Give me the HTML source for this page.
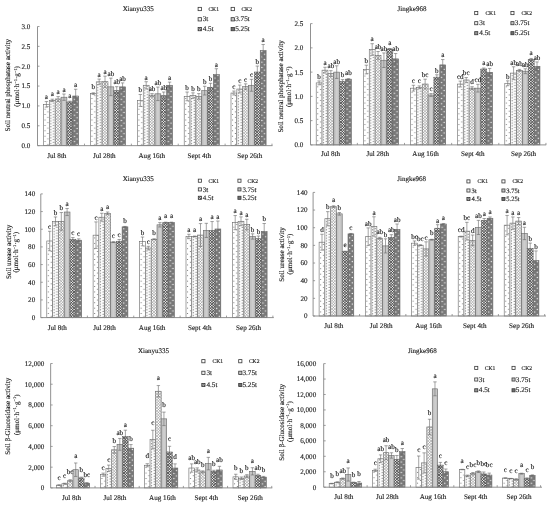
<!DOCTYPE html><html><head><meta charset="utf-8"><title>Soil enzyme activity</title>
<style>html,body{margin:0;padding:0;background:#fff}svg{display:block}text{font-family:"Liberation Serif", "DejaVu Serif", serif;fill:#1c1c1c;text-rendering:geometricPrecision;stroke:#1c1c1c;stroke-width:0.14px}</style></head><body>
<svg width="550" height="507" viewBox="0 0 550 507">
<rect width="550" height="507" fill="#fff"/>
<defs>
<pattern id="p0" width="9" height="5.4" patternUnits="userSpaceOnUse"><rect width="9" height="5.4" fill="#fff"/><circle cx="1.6" cy="1.3" r="0.5" fill="#444"/><circle cx="4.3" cy="4" r="0.5" fill="#444"/></pattern>
<pattern id="p1" width="9" height="2.8" patternUnits="userSpaceOnUse"><rect width="9" height="2.8" fill="#fff"/><circle cx="1.6" cy="0.7" r="0.55" fill="#2a2a2a"/><circle cx="4.2" cy="2.1" r="0.55" fill="#2a2a2a"/></pattern>
<pattern id="p2" width="2.9" height="2.9" patternUnits="userSpaceOnUse"><rect width="2.9" height="2.9" fill="#fff"/><path d="M0 0L2.9 2.9M2.9 0L0 2.9" stroke="#8a8a8a" stroke-width="0.55"/></pattern>
<pattern id="p3" width="9" height="4" patternUnits="userSpaceOnUse"><rect width="9" height="4" fill="#c2c2c2"/><rect x="1.8" width="2.2" height="4" fill="#cecece"/></pattern>
<pattern id="p4" width="2.7" height="2.7" patternUnits="userSpaceOnUse"><rect width="2.7" height="2.7" fill="#e0e0e0"/><path d="M0 0L2.7 2.7M2.7 0L0 2.7" stroke="#404040" stroke-width="0.8"/></pattern>
<pattern id="p5" width="9" height="5.3" patternUnits="userSpaceOnUse"><rect width="9" height="5.3" fill="#787878"/><circle cx="1.7" cy="1.3" r="0.7" fill="#fff"/><circle cx="4.3" cy="3.95" r="0.7" fill="#fff"/></pattern>
</defs>
<g>
<g transform="translate(43.50 145.65)"><rect x="0" y="-41.31" width="5.85" height="41.31" fill="url(#p0)" stroke="#666" stroke-width="0.6"/></g>
<g transform="translate(49.35 145.65)"><rect x="0" y="-45.28" width="5.85" height="45.28" fill="url(#p1)" stroke="#666" stroke-width="0.6"/></g>
<rect x="55.20" y="98.98" width="5.85" height="46.67" fill="#fff"/><path d="M60.8 145.7L61.1 145.4M58.0 145.7L61.1 142.6M55.2 145.7L61.1 139.8M55.2 142.8L61.1 137.0M55.2 140.1L61.1 134.2M55.2 137.2L61.1 131.4M55.2 134.5L61.1 128.6M55.2 131.7L61.1 125.8M55.2 128.9L61.1 123.0M55.2 126.1L61.1 120.2M55.2 123.2L61.1 117.4M55.2 120.5L61.1 114.6M55.2 117.7L61.1 111.8M55.2 114.9L61.1 109.0M55.2 112.1L61.1 106.2M55.2 109.2L61.1 103.4M55.2 106.5L61.1 100.6M55.2 103.7L59.9 99.0M55.2 100.9L57.1 99.0M55.2 142.8L58.0 145.7M55.2 140.1L60.8 145.7M55.2 137.2L61.1 143.1M55.2 134.5L61.1 140.3M55.2 131.7L61.1 137.5M55.2 128.9L61.1 134.7M55.2 126.1L61.1 131.9M55.2 123.2L61.1 129.1M55.2 120.5L61.1 126.3M55.2 117.7L61.1 123.5M55.2 114.9L61.1 120.7M55.2 112.1L61.1 117.9M55.2 109.2L61.1 115.1M55.2 106.5L61.1 112.3M55.2 103.7L61.1 109.5M55.2 100.9L61.1 106.7M56.1 99.0L61.1 103.9M58.9 99.0L61.1 101.1" stroke="#7c7c7c" stroke-width="0.50" fill="none"/><rect x="55.20" y="98.98" width="5.85" height="46.67" fill="none" stroke="#666" stroke-width="0.6"/>
<g transform="translate(61.05 145.65)"><rect x="0" y="-48.45" width="5.85" height="48.45" fill="url(#p3)" stroke="#666" stroke-width="0.6"/></g>
<rect x="66.90" y="101.96" width="5.85" height="43.69" fill="#ececec"/><path d="M72.3 145.7L72.8 145.2M69.6 145.7L72.8 142.5M66.9 145.7L72.8 139.8M66.9 143.0L72.8 137.1M66.9 140.2L72.8 134.4M66.9 137.6L72.8 131.7M66.9 134.8L72.8 129.0M66.9 132.2L72.8 126.3M66.9 129.4L72.8 123.6M66.9 126.8L72.8 120.9M66.9 124.1L72.8 118.2M66.9 121.4L72.8 115.5M66.9 118.7L72.8 112.8M66.9 116.0L72.8 110.1M66.9 113.2L72.8 107.4M66.9 110.6L72.8 104.7M66.9 107.8L72.8 102.0M66.9 105.2L70.1 102.0M66.9 102.5L67.4 102.0M66.9 143.0L69.6 145.7M66.9 140.2L72.3 145.7M66.9 137.6L72.8 143.4M66.9 134.8L72.8 140.7M66.9 132.2L72.8 138.0M66.9 129.4L72.8 135.3M66.9 126.8L72.8 132.6M66.9 124.1L72.8 129.9M66.9 121.4L72.8 127.2M66.9 118.7L72.8 124.5M66.9 116.0L72.8 121.8M66.9 113.2L72.8 119.1M66.9 110.6L72.8 116.4M66.9 107.8L72.8 113.7M66.9 105.2L72.8 111.0M66.9 102.5L72.8 108.3M69.1 102.0L72.8 105.6M71.8 102.0L72.8 102.9" stroke="#3e3e3e" stroke-width="0.85" fill="none"/><rect x="66.90" y="101.96" width="5.85" height="43.69" fill="none" stroke="#666" stroke-width="0.6"/>
<g transform="translate(72.75 145.65)"><rect x="0" y="-49.65" width="5.85" height="49.65" fill="url(#p5)" stroke="#666" stroke-width="0.6"/></g>
<path d="M46.42 101.56V107.12M44.72 101.56H48.12M44.72 107.12H48.12" stroke="#666" stroke-width="0.6" fill="none"/>
<text x="46.42" y="99.36" font-size="7.1" text-anchor="middle">a</text>
<path d="M52.27 99.18V101.56M50.57 99.18H53.98M50.57 101.56H53.98" stroke="#666" stroke-width="0.6" fill="none"/>
<text x="52.27" y="96.07" font-size="7.1" text-anchor="middle">a</text>
<path d="M58.12 96.60V101.37M56.42 96.60H59.83M56.42 101.37H59.83" stroke="#666" stroke-width="0.6" fill="none"/>
<text x="58.12" y="94.40" font-size="7.1" text-anchor="middle">a</text>
<path d="M63.97 94.02V100.37M62.27 94.02H65.67M62.27 100.37H65.67" stroke="#666" stroke-width="0.6" fill="none"/>
<text x="63.97" y="91.82" font-size="7.1" text-anchor="middle">a</text>
<path d="M69.83 101.17V102.76M68.12 101.17H71.53M68.12 102.76H71.53" stroke="#666" stroke-width="0.6" fill="none"/>
<text x="69.83" y="97.66" font-size="7.1" text-anchor="middle">a</text>
<path d="M75.67 89.25V102.76M73.97 89.25H77.38M73.97 102.76H77.38" stroke="#666" stroke-width="0.6" fill="none"/>
<text x="75.67" y="87.05" font-size="7.1" text-anchor="middle">a</text>
<g transform="translate(90.40 145.65)"><rect x="0" y="-52.03" width="5.85" height="52.03" fill="url(#p0)" stroke="#666" stroke-width="0.6"/></g>
<g transform="translate(96.25 145.65)"><rect x="0" y="-63.78" width="5.85" height="63.78" fill="url(#p1)" stroke="#666" stroke-width="0.6"/></g>
<rect x="102.10" y="81.71" width="5.85" height="63.94" fill="#fff"/><path d="M107.7 145.7L108.0 145.4M104.9 145.7L108.0 142.6M102.1 145.7L108.0 139.8M102.1 142.8L108.0 137.0M102.1 140.1L108.0 134.2M102.1 137.2L108.0 131.4M102.1 134.5L108.0 128.6M102.1 131.7L108.0 125.8M102.1 128.9L108.0 123.0M102.1 126.1L108.0 120.2M102.1 123.2L108.0 117.4M102.1 120.5L108.0 114.6M102.1 117.7L108.0 111.8M102.1 114.9L108.0 109.0M102.1 112.1L108.0 106.2M102.1 109.2L108.0 103.4M102.1 106.5L108.0 100.6M102.1 103.7L108.0 97.8M102.1 100.9L108.0 95.0M102.1 98.1L108.0 92.2M102.1 95.2L108.0 89.4M102.1 92.5L108.0 86.6M102.1 89.7L108.0 83.8M102.1 86.9L107.2 81.7M102.1 84.1L104.4 81.7M102.1 142.8L104.9 145.7M102.1 140.1L107.7 145.7M102.1 137.2L108.0 143.1M102.1 134.5L108.0 140.3M102.1 131.7L108.0 137.5M102.1 128.9L108.0 134.7M102.1 126.1L108.0 131.9M102.1 123.2L108.0 129.1M102.1 120.5L108.0 126.3M102.1 117.7L108.0 123.5M102.1 114.9L108.0 120.7M102.1 112.1L108.0 117.9M102.1 109.2L108.0 115.1M102.1 106.5L108.0 112.3M102.1 103.7L108.0 109.5M102.1 100.9L108.0 106.7M102.1 98.1L108.0 103.9M102.1 95.2L108.0 101.1M102.1 92.5L108.0 98.3M102.1 89.7L108.0 95.5M102.1 86.9L108.0 92.7M102.1 84.1L108.0 89.9M102.6 81.7L108.0 87.1M105.4 81.7L108.0 84.3" stroke="#7c7c7c" stroke-width="0.50" fill="none"/><rect x="102.10" y="81.71" width="5.85" height="63.94" fill="none" stroke="#666" stroke-width="0.6"/>
<g transform="translate(107.95 145.65)"><rect x="0" y="-58.78" width="5.85" height="58.78" fill="url(#p3)" stroke="#666" stroke-width="0.6"/></g>
<rect x="113.80" y="90.64" width="5.85" height="55.01" fill="#ececec"/><path d="M119.2 145.7L119.7 145.2M116.5 145.7L119.7 142.5M113.8 145.7L119.7 139.8M113.8 143.0L119.7 137.1M113.8 140.2L119.7 134.4M113.8 137.6L119.7 131.7M113.8 134.8L119.7 129.0M113.8 132.2L119.7 126.3M113.8 129.4L119.7 123.6M113.8 126.8L119.7 120.9M113.8 124.1L119.7 118.2M113.8 121.4L119.7 115.5M113.8 118.7L119.7 112.8M113.8 116.0L119.7 110.1M113.8 113.2L119.7 107.4M113.8 110.6L119.7 104.7M113.8 107.8L119.7 102.0M113.8 105.2L119.7 99.3M113.8 102.5L119.7 96.6M113.8 99.8L119.7 93.9M113.8 97.1L119.7 91.2M113.8 94.3L117.5 90.6M113.8 91.7L114.8 90.6M113.8 143.0L116.5 145.7M113.8 140.2L119.2 145.7M113.8 137.6L119.7 143.4M113.8 134.8L119.7 140.7M113.8 132.2L119.7 138.0M113.8 129.4L119.7 135.3M113.8 126.8L119.7 132.6M113.8 124.1L119.7 129.9M113.8 121.4L119.7 127.2M113.8 118.7L119.7 124.5M113.8 116.0L119.7 121.8M113.8 113.2L119.7 119.1M113.8 110.6L119.7 116.4M113.8 107.8L119.7 113.7M113.8 105.2L119.7 111.0M113.8 102.5L119.7 108.3M113.8 99.8L119.7 105.6M113.8 97.1L119.7 102.9M113.8 94.3L119.7 100.2M113.8 91.7L119.7 97.5M115.5 90.6L119.7 94.8M118.2 90.6L119.7 92.1" stroke="#3e3e3e" stroke-width="0.85" fill="none"/><rect x="113.80" y="90.64" width="5.85" height="55.01" fill="none" stroke="#666" stroke-width="0.6"/>
<g transform="translate(119.65 145.65)"><rect x="0" y="-58.78" width="5.85" height="58.78" fill="url(#p5)" stroke="#666" stroke-width="0.6"/></g>
<path d="M93.33 92.83V94.42M91.62 92.83H95.03M91.62 94.42H95.03" stroke="#666" stroke-width="0.6" fill="none"/>
<text x="93.33" y="89.32" font-size="7.1" text-anchor="middle">b</text>
<path d="M99.17 79.08V84.65M97.47 79.08H100.88M97.47 84.65H100.88" stroke="#666" stroke-width="0.6" fill="none"/>
<text x="99.17" y="76.88" font-size="7.1" text-anchor="middle">a</text>
<path d="M105.03 76.15V87.27M103.33 76.15H106.73M103.33 87.27H106.73" stroke="#666" stroke-width="0.6" fill="none"/>
<text x="105.03" y="73.95" font-size="7.1" text-anchor="middle">a</text>
<path d="M110.88 78.13V95.61M109.17 78.13H112.58M109.17 95.61H112.58" stroke="#666" stroke-width="0.6" fill="none"/>
<text x="110.88" y="75.93" font-size="7.1" text-anchor="middle">ab</text>
<path d="M116.73 86.67V94.61M115.03 86.67H118.43M115.03 94.61H118.43" stroke="#666" stroke-width="0.6" fill="none"/>
<text x="116.73" y="84.47" font-size="7.1" text-anchor="middle">ab</text>
<path d="M122.58 82.90V90.84M120.88 82.90H124.28M120.88 90.84H124.28" stroke="#666" stroke-width="0.6" fill="none"/>
<text x="122.58" y="80.70" font-size="7.1" text-anchor="middle">ab</text>
<g transform="translate(137.40 145.65)"><rect x="0" y="-45.20" width="5.85" height="45.20" fill="url(#p0)" stroke="#666" stroke-width="0.6"/></g>
<g transform="translate(143.25 145.65)"><rect x="0" y="-60.37" width="5.85" height="60.37" fill="url(#p1)" stroke="#666" stroke-width="0.6"/></g>
<rect x="149.10" y="95.21" width="5.85" height="50.44" fill="#fff"/><path d="M154.7 145.7L154.9 145.4M151.9 145.7L154.9 142.6M149.1 145.7L154.9 139.8M149.1 142.8L154.9 137.0M149.1 140.1L154.9 134.2M149.1 137.2L154.9 131.4M149.1 134.5L154.9 128.6M149.1 131.7L154.9 125.8M149.1 128.9L154.9 123.0M149.1 126.1L154.9 120.2M149.1 123.2L154.9 117.4M149.1 120.5L154.9 114.6M149.1 117.7L154.9 111.8M149.1 114.9L154.9 109.0M149.1 112.1L154.9 106.2M149.1 109.2L154.9 103.4M149.1 106.5L154.9 100.6M149.1 103.7L154.9 97.8M149.1 100.9L154.7 95.2M149.1 98.1L151.9 95.2M149.1 95.2L149.1 95.2M149.1 142.8L151.9 145.7M149.1 140.1L154.7 145.7M149.1 137.2L154.9 143.1M149.1 134.5L154.9 140.3M149.1 131.7L154.9 137.5M149.1 128.9L154.9 134.7M149.1 126.1L154.9 131.9M149.1 123.2L154.9 129.1M149.1 120.5L154.9 126.3M149.1 117.7L154.9 123.5M149.1 114.9L154.9 120.7M149.1 112.1L154.9 117.9M149.1 109.2L154.9 115.1M149.1 106.5L154.9 112.3M149.1 103.7L154.9 109.5M149.1 100.9L154.9 106.7M149.1 98.1L154.9 103.9M149.1 95.2L154.9 101.1M151.9 95.2L154.9 98.3M154.7 95.2L154.9 95.5" stroke="#7c7c7c" stroke-width="0.50" fill="none"/><rect x="149.10" y="95.21" width="5.85" height="50.44" fill="none" stroke="#666" stroke-width="0.6"/>
<g transform="translate(154.95 145.65)"><rect x="0" y="-51.83" width="5.85" height="51.83" fill="url(#p3)" stroke="#666" stroke-width="0.6"/></g>
<rect x="160.80" y="95.61" width="5.85" height="50.04" fill="#ececec"/><path d="M166.2 145.7L166.7 145.2M163.5 145.7L166.7 142.5M160.8 145.7L166.7 139.8M160.8 143.0L166.7 137.1M160.8 140.2L166.7 134.4M160.8 137.6L166.7 131.7M160.8 134.8L166.7 129.0M160.8 132.2L166.7 126.3M160.8 129.4L166.7 123.6M160.8 126.8L166.7 120.9M160.8 124.1L166.7 118.2M160.8 121.4L166.7 115.5M160.8 118.7L166.7 112.8M160.8 116.0L166.7 110.1M160.8 113.2L166.7 107.4M160.8 110.6L166.7 104.7M160.8 107.8L166.7 102.0M160.8 105.2L166.7 99.3M160.8 102.5L166.7 96.6M160.8 99.8L164.9 95.6M160.8 97.1L162.2 95.6M160.8 143.0L163.5 145.7M160.8 140.2L166.2 145.7M160.8 137.6L166.7 143.4M160.8 134.8L166.7 140.7M160.8 132.2L166.7 138.0M160.8 129.4L166.7 135.3M160.8 126.8L166.7 132.6M160.8 124.1L166.7 129.9M160.8 121.4L166.7 127.2M160.8 118.7L166.7 124.5M160.8 116.0L166.7 121.8M160.8 113.2L166.7 119.1M160.8 110.6L166.7 116.4M160.8 107.8L166.7 113.7M160.8 105.2L166.7 111.0M160.8 102.5L166.7 108.3M160.8 99.8L166.7 105.6M160.8 97.1L166.7 102.9M162.1 95.6L166.7 100.2M164.8 95.6L166.7 97.5" stroke="#3e3e3e" stroke-width="0.85" fill="none"/><rect x="160.80" y="95.61" width="5.85" height="50.04" fill="none" stroke="#666" stroke-width="0.6"/>
<g transform="translate(166.65 145.65)"><rect x="0" y="-60.37" width="5.85" height="60.37" fill="url(#p5)" stroke="#666" stroke-width="0.6"/></g>
<path d="M140.33 94.49V106.41M138.63 94.49H142.03M138.63 106.41H142.03" stroke="#666" stroke-width="0.6" fill="none"/>
<text x="140.33" y="92.29" font-size="7.1" text-anchor="middle">b</text>
<path d="M146.18 81.71V88.86M144.48 81.71H147.88M144.48 88.86H147.88" stroke="#666" stroke-width="0.6" fill="none"/>
<text x="146.18" y="79.51" font-size="7.1" text-anchor="middle">a</text>
<path d="M152.03 93.62V96.80M150.33 93.62H153.72M150.33 96.80H153.72" stroke="#666" stroke-width="0.6" fill="none"/>
<text x="152.03" y="90.91" font-size="7.1" text-anchor="middle">ab</text>
<path d="M157.88 87.07V100.57M156.18 87.07H159.57M156.18 100.57H159.57" stroke="#666" stroke-width="0.6" fill="none"/>
<text x="157.88" y="84.87" font-size="7.1" text-anchor="middle">ab</text>
<path d="M163.73 92.03V99.18M162.03 92.03H165.43M162.03 99.18H165.43" stroke="#666" stroke-width="0.6" fill="none"/>
<text x="163.73" y="89.83" font-size="7.1" text-anchor="middle">ab</text>
<path d="M169.58 82.10V88.46M167.88 82.10H171.28M167.88 88.46H171.28" stroke="#666" stroke-width="0.6" fill="none"/>
<text x="169.58" y="79.90" font-size="7.1" text-anchor="middle">a</text>
<g transform="translate(184.20 145.65)"><rect x="0" y="-49.25" width="5.85" height="49.25" fill="url(#p0)" stroke="#666" stroke-width="0.6"/></g>
<g transform="translate(190.05 145.65)"><rect x="0" y="-50.04" width="5.85" height="50.04" fill="url(#p1)" stroke="#666" stroke-width="0.6"/></g>
<rect x="195.90" y="96.40" width="5.85" height="49.25" fill="#fff"/><path d="M201.5 145.7L201.7 145.4M198.7 145.7L201.7 142.6M195.9 145.7L201.7 139.8M195.9 142.8L201.7 137.0M195.9 140.1L201.7 134.2M195.9 137.2L201.7 131.4M195.9 134.5L201.7 128.6M195.9 131.7L201.7 125.8M195.9 128.9L201.7 123.0M195.9 126.1L201.7 120.2M195.9 123.2L201.7 117.4M195.9 120.5L201.7 114.6M195.9 117.7L201.7 111.8M195.9 114.9L201.7 109.0M195.9 112.1L201.7 106.2M195.9 109.2L201.7 103.4M195.9 106.5L201.7 100.6M195.9 103.7L201.7 97.8M195.9 100.9L200.3 96.4M195.9 98.1L197.5 96.4M195.9 142.8L198.7 145.7M195.9 140.1L201.5 145.7M195.9 137.2L201.7 143.1M195.9 134.5L201.7 140.3M195.9 131.7L201.7 137.5M195.9 128.9L201.7 134.7M195.9 126.1L201.7 131.9M195.9 123.2L201.7 129.1M195.9 120.5L201.7 126.3M195.9 117.7L201.7 123.5M195.9 114.9L201.7 120.7M195.9 112.1L201.7 117.9M195.9 109.2L201.7 115.1M195.9 106.5L201.7 112.3M195.9 103.7L201.7 109.5M195.9 100.9L201.7 106.7M195.9 98.1L201.7 103.9M197.1 96.4L201.7 101.1M199.9 96.4L201.7 98.3" stroke="#7c7c7c" stroke-width="0.50" fill="none"/><rect x="195.90" y="96.40" width="5.85" height="49.25" fill="none" stroke="#666" stroke-width="0.6"/>
<g transform="translate(201.75 145.65)"><rect x="0" y="-55.01" width="5.85" height="55.01" fill="url(#p3)" stroke="#666" stroke-width="0.6"/></g>
<rect x="207.60" y="87.27" width="5.85" height="58.38" fill="#ececec"/><path d="M213.0 145.7L213.4 145.2M210.3 145.7L213.4 142.5M207.6 145.7L213.4 139.8M207.6 143.0L213.4 137.1M207.6 140.2L213.4 134.4M207.6 137.6L213.4 131.7M207.6 134.8L213.4 129.0M207.6 132.2L213.4 126.3M207.6 129.4L213.4 123.6M207.6 126.8L213.4 120.9M207.6 124.1L213.4 118.2M207.6 121.4L213.4 115.5M207.6 118.7L213.4 112.8M207.6 116.0L213.4 110.1M207.6 113.2L213.4 107.4M207.6 110.6L213.4 104.7M207.6 107.8L213.4 102.0M207.6 105.2L213.4 99.3M207.6 102.5L213.4 96.6M207.6 99.8L213.4 93.9M207.6 97.1L213.4 91.2M207.6 94.3L213.4 88.5M207.6 91.7L212.0 87.3M207.6 89.0L209.3 87.3M207.6 143.0L210.3 145.7M207.6 140.2L213.0 145.7M207.6 137.6L213.4 143.4M207.6 134.8L213.4 140.7M207.6 132.2L213.4 138.0M207.6 129.4L213.4 135.3M207.6 126.8L213.4 132.6M207.6 124.1L213.4 129.9M207.6 121.4L213.4 127.2M207.6 118.7L213.4 124.5M207.6 116.0L213.4 121.8M207.6 113.2L213.4 119.1M207.6 110.6L213.4 116.4M207.6 107.8L213.4 113.7M207.6 105.2L213.4 111.0M207.6 102.5L213.4 108.3M207.6 99.8L213.4 105.6M207.6 97.1L213.4 102.9M207.6 94.3L213.4 100.2M207.6 91.7L213.4 97.5M207.6 89.0L213.4 94.8M208.6 87.3L213.4 92.1M211.3 87.3L213.4 89.4" stroke="#3e3e3e" stroke-width="0.85" fill="none"/><rect x="207.60" y="87.27" width="5.85" height="58.38" fill="none" stroke="#666" stroke-width="0.6"/>
<g transform="translate(213.45 145.65)"><rect x="0" y="-70.97" width="5.85" height="70.97" fill="url(#p5)" stroke="#666" stroke-width="0.6"/></g>
<path d="M187.12 92.03V100.77M185.43 92.03H188.82M185.43 100.77H188.82" stroke="#666" stroke-width="0.6" fill="none"/>
<text x="187.12" y="89.83" font-size="7.1" text-anchor="middle">b</text>
<path d="M192.97 92.83V98.39M191.28 92.83H194.67M191.28 98.39H194.67" stroke="#666" stroke-width="0.6" fill="none"/>
<text x="192.97" y="90.63" font-size="7.1" text-anchor="middle">b</text>
<path d="M198.82 93.62V99.18M197.12 93.62H200.52M197.12 99.18H200.52" stroke="#666" stroke-width="0.6" fill="none"/>
<text x="198.82" y="91.42" font-size="7.1" text-anchor="middle">b</text>
<path d="M204.68 86.27V95.01M202.98 86.27H206.38M202.98 95.01H206.38" stroke="#666" stroke-width="0.6" fill="none"/>
<text x="204.68" y="84.07" font-size="7.1" text-anchor="middle">b</text>
<path d="M210.53 83.29V91.24M208.83 83.29H212.22M208.83 91.24H212.22" stroke="#666" stroke-width="0.6" fill="none"/>
<text x="210.53" y="81.09" font-size="7.1" text-anchor="middle">b</text>
<path d="M216.38 68.72V80.63M214.68 68.72H218.07M214.68 80.63H218.07" stroke="#666" stroke-width="0.6" fill="none"/>
<text x="216.38" y="66.52" font-size="7.1" text-anchor="middle">a</text>
<g transform="translate(231.00 145.65)"><rect x="0" y="-52.62" width="5.85" height="52.62" fill="url(#p0)" stroke="#666" stroke-width="0.6"/></g>
<g transform="translate(236.85 145.65)"><rect x="0" y="-56.60" width="5.85" height="56.60" fill="url(#p1)" stroke="#666" stroke-width="0.6"/></g>
<rect x="242.70" y="86.63" width="5.85" height="59.02" fill="#fff"/><path d="M248.3 145.7L248.5 145.4M245.5 145.7L248.5 142.6M242.7 145.7L248.5 139.8M242.7 142.8L248.5 137.0M242.7 140.1L248.5 134.2M242.7 137.2L248.5 131.4M242.7 134.5L248.5 128.6M242.7 131.7L248.5 125.8M242.7 128.9L248.5 123.0M242.7 126.1L248.5 120.2M242.7 123.2L248.5 117.4M242.7 120.5L248.5 114.6M242.7 117.7L248.5 111.8M242.7 114.9L248.5 109.0M242.7 112.1L248.5 106.2M242.7 109.2L248.5 103.4M242.7 106.5L248.5 100.6M242.7 103.7L248.5 97.8M242.7 100.9L248.5 95.0M242.7 98.1L248.5 92.2M242.7 95.2L248.5 89.4M242.7 92.5L248.5 86.6M242.7 89.7L245.7 86.6M242.7 86.9L242.9 86.6M242.7 142.8L245.5 145.7M242.7 140.1L248.3 145.7M242.7 137.2L248.5 143.1M242.7 134.5L248.5 140.3M242.7 131.7L248.5 137.5M242.7 128.9L248.5 134.7M242.7 126.1L248.5 131.9M242.7 123.2L248.5 129.1M242.7 120.5L248.5 126.3M242.7 117.7L248.5 123.5M242.7 114.9L248.5 120.7M242.7 112.1L248.5 117.9M242.7 109.2L248.5 115.1M242.7 106.5L248.5 112.3M242.7 103.7L248.5 109.5M242.7 100.9L248.5 106.7M242.7 98.1L248.5 103.9M242.7 95.2L248.5 101.1M242.7 92.5L248.5 98.3M242.7 89.7L248.5 95.5M242.7 86.9L248.5 92.7M245.3 86.6L248.5 89.9M248.1 86.6L248.5 87.1" stroke="#7c7c7c" stroke-width="0.50" fill="none"/><rect x="242.70" y="86.63" width="5.85" height="59.02" fill="none" stroke="#666" stroke-width="0.6"/>
<g transform="translate(248.55 145.65)"><rect x="0" y="-60.37" width="5.85" height="60.37" fill="url(#p3)" stroke="#666" stroke-width="0.6"/></g>
<rect x="254.40" y="72.02" width="5.85" height="73.63" fill="#ececec"/><path d="M259.8 145.7L260.2 145.2M257.1 145.7L260.2 142.5M254.4 145.7L260.2 139.8M254.4 143.0L260.2 137.1M254.4 140.2L260.2 134.4M254.4 137.6L260.2 131.7M254.4 134.8L260.2 129.0M254.4 132.2L260.2 126.3M254.4 129.4L260.2 123.6M254.4 126.8L260.2 120.9M254.4 124.1L260.2 118.2M254.4 121.4L260.2 115.5M254.4 118.7L260.2 112.8M254.4 116.0L260.2 110.1M254.4 113.2L260.2 107.4M254.4 110.6L260.2 104.7M254.4 107.8L260.2 102.0M254.4 105.2L260.2 99.3M254.4 102.5L260.2 96.6M254.4 99.8L260.2 93.9M254.4 97.1L260.2 91.2M254.4 94.3L260.2 88.5M254.4 91.7L260.2 85.8M254.4 89.0L260.2 83.1M254.4 86.2L260.2 80.4M254.4 83.6L260.2 77.7M254.4 80.8L260.2 75.0M254.4 78.2L260.2 72.3M254.4 75.5L257.8 72.0M254.4 72.8L255.1 72.0M254.4 143.0L257.1 145.7M254.4 140.2L259.8 145.7M254.4 137.6L260.2 143.4M254.4 134.8L260.2 140.7M254.4 132.2L260.2 138.0M254.4 129.4L260.2 135.3M254.4 126.8L260.2 132.6M254.4 124.1L260.2 129.9M254.4 121.4L260.2 127.2M254.4 118.7L260.2 124.5M254.4 116.0L260.2 121.8M254.4 113.2L260.2 119.1M254.4 110.6L260.2 116.4M254.4 107.8L260.2 113.7M254.4 105.2L260.2 111.0M254.4 102.5L260.2 108.3M254.4 99.8L260.2 105.6M254.4 97.1L260.2 102.9M254.4 94.3L260.2 100.2M254.4 91.7L260.2 97.5M254.4 89.0L260.2 94.8M254.4 86.2L260.2 92.1M254.4 83.6L260.2 89.4M254.4 80.8L260.2 86.7M254.4 78.2L260.2 84.0M254.4 75.5L260.2 81.3M254.4 72.8L260.2 78.6M256.4 72.0L260.2 75.9M259.1 72.0L260.2 73.2" stroke="#3e3e3e" stroke-width="0.85" fill="none"/><rect x="254.40" y="72.02" width="5.85" height="73.63" fill="none" stroke="#666" stroke-width="0.6"/>
<g transform="translate(260.25 145.65)"><rect x="0" y="-95.00" width="5.85" height="95.00" fill="url(#p5)" stroke="#666" stroke-width="0.6"/></g>
<path d="M233.93 91.04V95.01M232.23 91.04H235.62M232.23 95.01H235.62" stroke="#666" stroke-width="0.6" fill="none"/>
<text x="233.93" y="88.73" font-size="7.1" text-anchor="middle">c</text>
<path d="M239.78 85.08V93.03M238.08 85.08H241.47M238.08 93.03H241.47" stroke="#666" stroke-width="0.6" fill="none"/>
<text x="239.78" y="82.88" font-size="7.1" text-anchor="middle">c</text>
<path d="M245.62 83.85V89.41M243.93 83.85H247.32M243.93 89.41H247.32" stroke="#666" stroke-width="0.6" fill="none"/>
<text x="245.62" y="81.65" font-size="7.1" text-anchor="middle">c</text>
<path d="M251.48 79.32V91.24M249.78 79.32H253.18M249.78 91.24H253.18" stroke="#666" stroke-width="0.6" fill="none"/>
<text x="251.48" y="77.12" font-size="7.1" text-anchor="middle">c</text>
<path d="M257.32 66.06V77.97M255.62 66.06H259.02M255.62 77.97H259.02" stroke="#666" stroke-width="0.6" fill="none"/>
<text x="257.32" y="63.86" font-size="7.1" text-anchor="middle">b</text>
<path d="M263.18 44.49V56.80M261.48 44.49H264.88M261.48 56.80H264.88" stroke="#666" stroke-width="0.6" fill="none"/>
<text x="263.18" y="42.29" font-size="7.1" text-anchor="middle">a</text>
<path d="M37.50 26.50V145.65H272.50" stroke="#858585" stroke-width="0.9" fill="none"/>
<text x="30.30" y="148.05" font-size="7.1" text-anchor="end">0.0</text>
<text x="30.30" y="128.19" font-size="7.1" text-anchor="end">0.5</text>
<text x="30.30" y="108.33" font-size="7.1" text-anchor="end">1.0</text>
<text x="30.30" y="88.47" font-size="7.1" text-anchor="end">1.5</text>
<text x="30.30" y="68.62" font-size="7.1" text-anchor="end">2.0</text>
<text x="30.30" y="48.76" font-size="7.1" text-anchor="end">2.5</text>
<text x="30.30" y="28.90" font-size="7.1" text-anchor="end">3.0</text>
<path d="M37.50 145.65h2M37.50 125.79h2M37.50 105.93h2M37.50 86.07h2M37.50 66.22h2M37.50 46.36h2M37.50 26.50h2M84.49 145.65v-2M131.36 145.65v-2M178.24 145.65v-2M225.11 145.65v-2M271.99 145.65v-2" stroke="#858585" stroke-width="0.8" fill="none"/>
<text x="47.30" y="157.60" font-size="7.1">Jul 8th</text>
<text x="93.00" y="157.60" font-size="7.1">Jul 28th</text>
<text x="138.50" y="157.60" font-size="7.1">Aug 16th</text>
<text x="187.50" y="157.60" font-size="7.1">Sept 4th</text>
<text x="237.30" y="157.60" font-size="7.1">Sep 26th</text>
<text x="138.20" y="11.00" font-size="7.0" text-anchor="middle">Xianyu335</text>
<text transform="translate(10.30 85.20) rotate(-90)" font-size="7.1" text-anchor="middle">Soil neutral phosphatase activity</text>
<text transform="translate(18.90 86.40) rotate(-90)" font-size="7.1" text-anchor="middle">(μmol·h<tspan dy="-2.4" font-size="4.4">−1</tspan><tspan dy="2.4">·g</tspan><tspan dy="-2.4" font-size="4.4">−1</tspan><tspan dy="2.4">)</tspan></text>
<g transform="translate(198.10 7.35)"><rect x="0" y="0" width="3.30" height="3.30" fill="#fff" stroke="#383838" stroke-width="0.8"/></g>
<text x="208.40" y="11.00" font-size="5.6" fill="#3a3a3a">CK1</text>
<g transform="translate(231.10 7.35)"><rect x="0" y="0" width="3.30" height="3.30" fill="#fff" stroke="#383838" stroke-width="0.8"/></g>
<text x="241.40" y="11.00" font-size="5.6" fill="#3a3a3a">CK2</text>
<g transform="translate(198.10 17.65)"><rect x="0" y="0" width="3.30" height="3.30" fill="#eee" stroke="#383838" stroke-width="0.8"/></g>
<text x="202.70" y="21.40" font-size="7.2">3t</text>
<g transform="translate(231.10 17.65)"><rect x="0" y="0" width="3.30" height="3.30" fill="#c4c4c4" stroke="#383838" stroke-width="0.8"/></g>
<text x="235.20" y="21.40" font-size="7.2">3.75t</text>
<g transform="translate(198.10 27.45)"><rect x="0" y="0" width="3.30" height="3.30" fill="url(#p4)" stroke="#383838" stroke-width="0.8"/></g>
<text x="202.70" y="31.20" font-size="7.2">4.5t</text>
<g transform="translate(231.10 27.45)"><rect x="0" y="0" width="3.30" height="3.30" fill="#707070" stroke="#383838" stroke-width="0.8"/></g>
<text x="235.20" y="31.20" font-size="7.2">5.25t</text>
</g>
<g>
<g transform="translate(316.20 144.90)"><rect x="0" y="-62.01" width="5.86" height="62.01" fill="url(#p0)" stroke="#666" stroke-width="0.6"/></g>
<g transform="translate(322.06 144.90)"><rect x="0" y="-74.72" width="5.86" height="74.72" fill="url(#p1)" stroke="#666" stroke-width="0.6"/></g>
<rect x="327.92" y="73.58" width="5.86" height="71.32" fill="#fff"/><path d="M333.5 144.9L333.8 144.6M330.7 144.9L333.8 141.8M327.9 144.9L333.8 139.0M327.9 142.1L333.8 136.2M327.9 139.3L333.8 133.4M327.9 136.5L333.8 130.6M327.9 133.7L333.8 127.8M327.9 130.9L333.8 125.0M327.9 128.1L333.8 122.2M327.9 125.3L333.8 119.4M327.9 122.5L333.8 116.6M327.9 119.7L333.8 113.8M327.9 116.9L333.8 111.0M327.9 114.1L333.8 108.2M327.9 111.3L333.8 105.4M327.9 108.5L333.8 102.6M327.9 105.7L333.8 99.8M327.9 102.9L333.8 97.0M327.9 100.1L333.8 94.2M327.9 97.3L333.8 91.4M327.9 94.5L333.8 88.6M327.9 91.7L333.8 85.8M327.9 88.9L333.8 83.0M327.9 86.1L333.8 80.2M327.9 83.3L333.8 77.4M327.9 80.5L333.8 74.6M327.9 77.7L332.0 73.6M327.9 74.9L329.2 73.6M327.9 142.1L330.7 144.9M327.9 139.3L333.5 144.9M327.9 136.5L333.8 142.4M327.9 133.7L333.8 139.6M327.9 130.9L333.8 136.8M327.9 128.1L333.8 134.0M327.9 125.3L333.8 131.2M327.9 122.5L333.8 128.4M327.9 119.7L333.8 125.6M327.9 116.9L333.8 122.8M327.9 114.1L333.8 120.0M327.9 111.3L333.8 117.2M327.9 108.5L333.8 114.4M327.9 105.7L333.8 111.6M327.9 102.9L333.8 108.8M327.9 100.1L333.8 106.0M327.9 97.3L333.8 103.2M327.9 94.5L333.8 100.4M327.9 91.7L333.8 97.6M327.9 88.9L333.8 94.8M327.9 86.1L333.8 92.0M327.9 83.3L333.8 89.2M327.9 80.5L333.8 86.4M327.9 77.7L333.8 83.6M327.9 74.9L333.8 80.8M329.4 73.6L333.8 78.0M332.2 73.6L333.8 75.2" stroke="#7c7c7c" stroke-width="0.50" fill="none"/><rect x="327.92" y="73.58" width="5.86" height="71.32" fill="none" stroke="#666" stroke-width="0.6"/>
<g transform="translate(333.78 144.90)"><rect x="0" y="-72.78" width="5.86" height="72.78" fill="url(#p3)" stroke="#666" stroke-width="0.6"/></g>
<rect x="339.64" y="81.58" width="5.86" height="63.32" fill="#ececec"/><path d="M345.0 144.9L345.5 144.4M342.3 144.9L345.5 141.7M339.6 144.9L345.5 139.0M339.6 142.2L345.5 136.3M339.6 139.5L345.5 133.6M339.6 136.8L345.5 130.9M339.6 134.1L345.5 128.2M339.6 131.4L345.5 125.5M339.6 128.7L345.5 122.8M339.6 126.0L345.5 120.1M339.6 123.3L345.5 117.4M339.6 120.6L345.5 114.7M339.6 117.9L345.5 112.0M339.6 115.2L345.5 109.3M339.6 112.5L345.5 106.6M339.6 109.8L345.5 103.9M339.6 107.1L345.5 101.2M339.6 104.4L345.5 98.5M339.6 101.7L345.5 95.8M339.6 99.0L345.5 93.1M339.6 96.3L345.5 90.4M339.6 93.6L345.5 87.7M339.6 90.9L345.5 85.0M339.6 88.2L345.5 82.3M339.6 85.5L343.6 81.6M339.6 82.8L340.9 81.6M339.6 142.2L342.3 144.9M339.6 139.5L345.0 144.9M339.6 136.8L345.5 142.7M339.6 134.1L345.5 140.0M339.6 131.4L345.5 137.3M339.6 128.7L345.5 134.6M339.6 126.0L345.5 131.9M339.6 123.3L345.5 129.2M339.6 120.6L345.5 126.5M339.6 117.9L345.5 123.8M339.6 115.2L345.5 121.1M339.6 112.5L345.5 118.4M339.6 109.8L345.5 115.7M339.6 107.1L345.5 113.0M339.6 104.4L345.5 110.3M339.6 101.7L345.5 107.6M339.6 99.0L345.5 104.9M339.6 96.3L345.5 102.2M339.6 93.6L345.5 99.5M339.6 90.9L345.5 96.8M339.6 88.2L345.5 94.1M339.6 85.5L345.5 91.4M339.6 82.8L345.5 88.7M341.1 81.6L345.5 86.0M343.8 81.6L345.5 83.3" stroke="#3e3e3e" stroke-width="0.85" fill="none"/><rect x="339.64" y="81.58" width="5.86" height="63.32" fill="none" stroke="#666" stroke-width="0.6"/>
<g transform="translate(345.50 144.90)"><rect x="0" y="-65.74" width="5.86" height="65.74" fill="url(#p5)" stroke="#666" stroke-width="0.6"/></g>
<path d="M319.13 80.95V84.83M317.43 80.95H320.83M317.43 84.83H320.83" stroke="#666" stroke-width="0.6" fill="none"/>
<text x="319.13" y="78.59" font-size="7.1" text-anchor="middle">b</text>
<path d="M324.99 67.27V73.09M323.29 67.27H326.69M323.29 73.09H326.69" stroke="#666" stroke-width="0.6" fill="none"/>
<text x="324.99" y="65.07" font-size="7.1" text-anchor="middle">a</text>
<path d="M330.85 70.66V76.49M329.15 70.66H332.55M329.15 76.49H332.55" stroke="#666" stroke-width="0.6" fill="none"/>
<text x="330.85" y="68.46" font-size="7.1" text-anchor="middle">ab</text>
<path d="M336.71 65.81V78.43M335.01 65.81H338.41M335.01 78.43H338.41" stroke="#666" stroke-width="0.6" fill="none"/>
<text x="336.71" y="63.61" font-size="7.1" text-anchor="middle">ab</text>
<path d="M342.57 79.64V83.52M340.87 79.64H344.27M340.87 83.52H344.27" stroke="#666" stroke-width="0.6" fill="none"/>
<text x="342.57" y="77.28" font-size="7.1" text-anchor="middle">b</text>
<path d="M348.43 78.67V79.64M346.73 78.67H350.13M346.73 79.64H350.13" stroke="#666" stroke-width="0.6" fill="none"/>
<text x="348.43" y="74.86" font-size="7.1" text-anchor="middle">ab</text>
<g transform="translate(363.40 144.90)"><rect x="0" y="-75.35" width="5.86" height="75.35" fill="url(#p0)" stroke="#666" stroke-width="0.6"/></g>
<g transform="translate(369.26 144.90)"><rect x="0" y="-95.39" width="5.86" height="95.39" fill="url(#p1)" stroke="#666" stroke-width="0.6"/></g>
<rect x="375.12" y="55.38" width="5.86" height="89.52" fill="#fff"/><path d="M380.7 144.9L381.0 144.6M377.9 144.9L381.0 141.8M375.1 144.9L381.0 139.0M375.1 142.1L381.0 136.2M375.1 139.3L381.0 133.4M375.1 136.5L381.0 130.6M375.1 133.7L381.0 127.8M375.1 130.9L381.0 125.0M375.1 128.1L381.0 122.2M375.1 125.3L381.0 119.4M375.1 122.5L381.0 116.6M375.1 119.7L381.0 113.8M375.1 116.9L381.0 111.0M375.1 114.1L381.0 108.2M375.1 111.3L381.0 105.4M375.1 108.5L381.0 102.6M375.1 105.7L381.0 99.8M375.1 102.9L381.0 97.0M375.1 100.1L381.0 94.2M375.1 97.3L381.0 91.4M375.1 94.5L381.0 88.6M375.1 91.7L381.0 85.8M375.1 88.9L381.0 83.0M375.1 86.1L381.0 80.2M375.1 83.3L381.0 77.4M375.1 80.5L381.0 74.6M375.1 77.7L381.0 71.8M375.1 74.9L381.0 69.0M375.1 72.1L381.0 66.2M375.1 69.3L381.0 63.4M375.1 66.5L381.0 60.6M375.1 63.7L381.0 57.8M375.1 60.9L380.6 55.4M375.1 58.1L377.8 55.4M375.1 142.1L377.9 144.9M375.1 139.3L380.7 144.9M375.1 136.5L381.0 142.4M375.1 133.7L381.0 139.6M375.1 130.9L381.0 136.8M375.1 128.1L381.0 134.0M375.1 125.3L381.0 131.2M375.1 122.5L381.0 128.4M375.1 119.7L381.0 125.6M375.1 116.9L381.0 122.8M375.1 114.1L381.0 120.0M375.1 111.3L381.0 117.2M375.1 108.5L381.0 114.4M375.1 105.7L381.0 111.6M375.1 102.9L381.0 108.8M375.1 100.1L381.0 106.0M375.1 97.3L381.0 103.2M375.1 94.5L381.0 100.4M375.1 91.7L381.0 97.6M375.1 88.9L381.0 94.8M375.1 86.1L381.0 92.0M375.1 83.3L381.0 89.2M375.1 80.5L381.0 86.4M375.1 77.7L381.0 83.6M375.1 74.9L381.0 80.8M375.1 72.1L381.0 78.0M375.1 69.3L381.0 75.2M375.1 66.5L381.0 72.4M375.1 63.7L381.0 69.6M375.1 60.9L381.0 66.8M375.1 58.1L381.0 64.0M375.2 55.4L381.0 61.2M378.0 55.4L381.0 58.4M380.8 55.4L381.0 55.6" stroke="#7c7c7c" stroke-width="0.50" fill="none"/><rect x="375.12" y="55.38" width="5.86" height="89.52" fill="none" stroke="#666" stroke-width="0.6"/>
<g transform="translate(380.98 144.90)"><rect x="0" y="-84.67" width="5.86" height="84.67" fill="url(#p3)" stroke="#666" stroke-width="0.6"/></g>
<rect x="386.84" y="48.98" width="5.86" height="95.92" fill="#ececec"/><path d="M392.2 144.9L392.7 144.4M389.5 144.9L392.7 141.7M386.8 144.9L392.7 139.0M386.8 142.2L392.7 136.3M386.8 139.5L392.7 133.6M386.8 136.8L392.7 130.9M386.8 134.1L392.7 128.2M386.8 131.4L392.7 125.5M386.8 128.7L392.7 122.8M386.8 126.0L392.7 120.1M386.8 123.3L392.7 117.4M386.8 120.6L392.7 114.7M386.8 117.9L392.7 112.0M386.8 115.2L392.7 109.3M386.8 112.5L392.7 106.6M386.8 109.8L392.7 103.9M386.8 107.1L392.7 101.2M386.8 104.4L392.7 98.5M386.8 101.7L392.7 95.8M386.8 99.0L392.7 93.1M386.8 96.3L392.7 90.4M386.8 93.6L392.7 87.7M386.8 90.9L392.7 85.0M386.8 88.2L392.7 82.3M386.8 85.5L392.7 79.6M386.8 82.8L392.7 76.9M386.8 80.1L392.7 74.2M386.8 77.4L392.7 71.5M386.8 74.7L392.7 68.8M386.8 72.0L392.7 66.1M386.8 69.3L392.7 63.4M386.8 66.6L392.7 60.7M386.8 63.9L392.7 58.0M386.8 61.2L392.7 55.3M386.8 58.5L392.7 52.6M386.8 55.8L392.7 49.9M386.8 53.1L391.0 49.0M386.8 50.4L388.3 49.0M386.8 142.2L389.5 144.9M386.8 139.5L392.2 144.9M386.8 136.8L392.7 142.7M386.8 134.1L392.7 140.0M386.8 131.4L392.7 137.3M386.8 128.7L392.7 134.6M386.8 126.0L392.7 131.9M386.8 123.3L392.7 129.2M386.8 120.6L392.7 126.5M386.8 117.9L392.7 123.8M386.8 115.2L392.7 121.1M386.8 112.5L392.7 118.4M386.8 109.8L392.7 115.7M386.8 107.1L392.7 113.0M386.8 104.4L392.7 110.3M386.8 101.7L392.7 107.6M386.8 99.0L392.7 104.9M386.8 96.3L392.7 102.2M386.8 93.6L392.7 99.5M386.8 90.9L392.7 96.8M386.8 88.2L392.7 94.1M386.8 85.5L392.7 91.4M386.8 82.8L392.7 88.7M386.8 80.1L392.7 86.0M386.8 77.4L392.7 83.3M386.8 74.7L392.7 80.6M386.8 72.0L392.7 77.9M386.8 69.3L392.7 75.2M386.8 66.6L392.7 72.5M386.8 63.9L392.7 69.8M386.8 61.2L392.7 67.1M386.8 58.5L392.7 64.4M386.8 55.8L392.7 61.7M386.8 53.1L392.7 59.0M386.8 50.4L392.7 56.3M388.1 49.0L392.7 53.6M390.8 49.0L392.7 50.9" stroke="#3e3e3e" stroke-width="0.85" fill="none"/><rect x="386.84" y="48.98" width="5.86" height="95.92" fill="none" stroke="#666" stroke-width="0.6"/>
<g transform="translate(392.70 144.90)"><rect x="0" y="-86.03" width="5.86" height="86.03" fill="url(#p5)" stroke="#666" stroke-width="0.6"/></g>
<path d="M366.33 65.18V73.92M364.63 65.18H368.03M364.63 73.92H368.03" stroke="#666" stroke-width="0.6" fill="none"/>
<text x="366.33" y="62.98" font-size="7.1" text-anchor="middle">b</text>
<path d="M372.19 43.69V55.33M370.49 43.69H373.89M370.49 55.33H373.89" stroke="#666" stroke-width="0.6" fill="none"/>
<text x="372.19" y="41.49" font-size="7.1" text-anchor="middle">a</text>
<path d="M378.05 51.50V59.26M376.35 51.50H379.75M376.35 59.26H379.75" stroke="#666" stroke-width="0.6" fill="none"/>
<text x="378.05" y="49.30" font-size="7.1" text-anchor="middle">ab</text>
<path d="M383.91 52.95V67.51M382.21 52.95H385.61M382.21 67.51H385.61" stroke="#666" stroke-width="0.6" fill="none"/>
<text x="383.91" y="50.75" font-size="7.1" text-anchor="middle">ab</text>
<path d="M389.77 48.49V49.46M388.07 48.49H391.47M388.07 49.46H391.47" stroke="#666" stroke-width="0.6" fill="none"/>
<text x="389.77" y="44.68" font-size="7.1" text-anchor="middle">a</text>
<path d="M395.63 53.54V64.21M393.93 53.54H397.33M393.93 64.21H397.33" stroke="#666" stroke-width="0.6" fill="none"/>
<text x="395.63" y="51.34" font-size="7.1" text-anchor="middle">ab</text>
<g transform="translate(410.50 144.90)"><rect x="0" y="-56.72" width="5.86" height="56.72" fill="url(#p0)" stroke="#666" stroke-width="0.6"/></g>
<g transform="translate(416.36 144.90)"><rect x="0" y="-57.54" width="5.86" height="57.54" fill="url(#p1)" stroke="#666" stroke-width="0.6"/></g>
<rect x="422.22" y="84.06" width="5.86" height="60.84" fill="#fff"/><path d="M427.8 144.9L428.1 144.6M425.0 144.9L428.1 141.8M422.2 144.9L428.1 139.0M422.2 142.1L428.1 136.2M422.2 139.3L428.1 133.4M422.2 136.5L428.1 130.6M422.2 133.7L428.1 127.8M422.2 130.9L428.1 125.0M422.2 128.1L428.1 122.2M422.2 125.3L428.1 119.4M422.2 122.5L428.1 116.6M422.2 119.7L428.1 113.8M422.2 116.9L428.1 111.0M422.2 114.1L428.1 108.2M422.2 111.3L428.1 105.4M422.2 108.5L428.1 102.6M422.2 105.7L428.1 99.8M422.2 102.9L428.1 97.0M422.2 100.1L428.1 94.2M422.2 97.3L428.1 91.4M422.2 94.5L428.1 88.6M422.2 91.7L428.1 85.8M422.2 88.9L427.1 84.1M422.2 86.1L424.3 84.1M422.2 142.1L425.0 144.9M422.2 139.3L427.8 144.9M422.2 136.5L428.1 142.4M422.2 133.7L428.1 139.6M422.2 130.9L428.1 136.8M422.2 128.1L428.1 134.0M422.2 125.3L428.1 131.2M422.2 122.5L428.1 128.4M422.2 119.7L428.1 125.6M422.2 116.9L428.1 122.8M422.2 114.1L428.1 120.0M422.2 111.3L428.1 117.2M422.2 108.5L428.1 114.4M422.2 105.7L428.1 111.6M422.2 102.9L428.1 108.8M422.2 100.1L428.1 106.0M422.2 97.3L428.1 103.2M422.2 94.5L428.1 100.4M422.2 91.7L428.1 97.6M422.2 88.9L428.1 94.8M422.2 86.1L428.1 92.0M423.0 84.1L428.1 89.2M425.8 84.1L428.1 86.4" stroke="#7c7c7c" stroke-width="0.50" fill="none"/><rect x="422.22" y="84.06" width="5.86" height="60.84" fill="none" stroke="#666" stroke-width="0.6"/>
<g transform="translate(428.08 144.90)"><rect x="0" y="-49.88" width="5.86" height="49.88" fill="url(#p3)" stroke="#666" stroke-width="0.6"/></g>
<rect x="433.94" y="77.21" width="5.86" height="67.69" fill="#ececec"/><path d="M439.3 144.9L439.8 144.4M436.6 144.9L439.8 141.7M433.9 144.9L439.8 139.0M433.9 142.2L439.8 136.3M433.9 139.5L439.8 133.6M433.9 136.8L439.8 130.9M433.9 134.1L439.8 128.2M433.9 131.4L439.8 125.5M433.9 128.7L439.8 122.8M433.9 126.0L439.8 120.1M433.9 123.3L439.8 117.4M433.9 120.6L439.8 114.7M433.9 117.9L439.8 112.0M433.9 115.2L439.8 109.3M433.9 112.5L439.8 106.6M433.9 109.8L439.8 103.9M433.9 107.1L439.8 101.2M433.9 104.4L439.8 98.5M433.9 101.7L439.8 95.8M433.9 99.0L439.8 93.1M433.9 96.3L439.8 90.4M433.9 93.6L439.8 87.7M433.9 90.9L439.8 85.0M433.9 88.2L439.8 82.3M433.9 85.5L439.8 79.6M433.9 82.8L439.5 77.2M433.9 80.1L436.8 77.2M433.9 77.4L434.1 77.2M433.9 142.2L436.6 144.9M433.9 139.5L439.3 144.9M433.9 136.8L439.8 142.7M433.9 134.1L439.8 140.0M433.9 131.4L439.8 137.3M433.9 128.7L439.8 134.6M433.9 126.0L439.8 131.9M433.9 123.3L439.8 129.2M433.9 120.6L439.8 126.5M433.9 117.9L439.8 123.8M433.9 115.2L439.8 121.1M433.9 112.5L439.8 118.4M433.9 109.8L439.8 115.7M433.9 107.1L439.8 113.0M433.9 104.4L439.8 110.3M433.9 101.7L439.8 107.6M433.9 99.0L439.8 104.9M433.9 96.3L439.8 102.2M433.9 93.6L439.8 99.5M433.9 90.9L439.8 96.8M433.9 88.2L439.8 94.1M433.9 85.5L439.8 91.4M433.9 82.8L439.8 88.7M433.9 80.1L439.8 86.0M433.9 77.4L439.8 83.3M436.5 77.2L439.8 80.6M439.2 77.2L439.8 77.9" stroke="#3e3e3e" stroke-width="0.85" fill="none"/><rect x="433.94" y="77.21" width="5.86" height="67.69" fill="none" stroke="#666" stroke-width="0.6"/>
<g transform="translate(439.80 144.90)"><rect x="0" y="-80.01" width="5.86" height="80.01" fill="url(#p5)" stroke="#666" stroke-width="0.6"/></g>
<path d="M413.43 85.27V91.09M411.73 85.27H415.13M411.73 91.09H415.13" stroke="#666" stroke-width="0.6" fill="none"/>
<text x="413.43" y="83.07" font-size="7.1" text-anchor="middle">c</text>
<path d="M419.29 85.90V88.81M417.59 85.90H420.99M417.59 88.81H420.99" stroke="#666" stroke-width="0.6" fill="none"/>
<text x="419.29" y="83.06" font-size="7.1" text-anchor="middle">c</text>
<path d="M425.15 79.20V88.91M423.45 79.20H426.85M423.45 88.91H426.85" stroke="#666" stroke-width="0.6" fill="none"/>
<text x="425.15" y="77.00" font-size="7.1" text-anchor="middle">bc</text>
<path d="M431.01 93.57V96.48M429.31 93.57H432.71M429.31 96.48H432.71" stroke="#666" stroke-width="0.6" fill="none"/>
<text x="431.01" y="90.72" font-size="7.1" text-anchor="middle">c</text>
<path d="M436.87 74.79V79.64M435.17 74.79H438.57M435.17 79.64H438.57" stroke="#666" stroke-width="0.6" fill="none"/>
<text x="436.87" y="72.59" font-size="7.1" text-anchor="middle">b</text>
<path d="M442.73 59.55V70.23M441.03 59.55H444.43M441.03 70.23H444.43" stroke="#666" stroke-width="0.6" fill="none"/>
<text x="442.73" y="57.35" font-size="7.1" text-anchor="middle">a</text>
<g transform="translate(457.40 144.90)"><rect x="0" y="-60.84" width="5.86" height="60.84" fill="url(#p0)" stroke="#666" stroke-width="0.6"/></g>
<g transform="translate(463.26 144.90)"><rect x="0" y="-64.92" width="5.86" height="64.92" fill="url(#p1)" stroke="#666" stroke-width="0.6"/></g>
<rect x="469.12" y="88.18" width="5.86" height="56.72" fill="#fff"/><path d="M474.7 144.9L475.0 144.6M471.9 144.9L475.0 141.8M469.1 144.9L475.0 139.0M469.1 142.1L475.0 136.2M469.1 139.3L475.0 133.4M469.1 136.5L475.0 130.6M469.1 133.7L475.0 127.8M469.1 130.9L475.0 125.0M469.1 128.1L475.0 122.2M469.1 125.3L475.0 119.4M469.1 122.5L475.0 116.6M469.1 119.7L475.0 113.8M469.1 116.9L475.0 111.0M469.1 114.1L475.0 108.2M469.1 111.3L475.0 105.4M469.1 108.5L475.0 102.6M469.1 105.7L475.0 99.8M469.1 102.9L475.0 97.0M469.1 100.1L475.0 94.2M469.1 97.3L475.0 91.4M469.1 94.5L475.0 88.6M469.1 91.7L472.6 88.2M469.1 88.9L469.8 88.2M469.1 142.1L471.9 144.9M469.1 139.3L474.7 144.9M469.1 136.5L475.0 142.4M469.1 133.7L475.0 139.6M469.1 130.9L475.0 136.8M469.1 128.1L475.0 134.0M469.1 125.3L475.0 131.2M469.1 122.5L475.0 128.4M469.1 119.7L475.0 125.6M469.1 116.9L475.0 122.8M469.1 114.1L475.0 120.0M469.1 111.3L475.0 117.2M469.1 108.5L475.0 114.4M469.1 105.7L475.0 111.6M469.1 102.9L475.0 108.8M469.1 100.1L475.0 106.0M469.1 97.3L475.0 103.2M469.1 94.5L475.0 100.4M469.1 91.7L475.0 97.6M469.1 88.9L475.0 94.8M471.2 88.2L475.0 92.0M474.0 88.2L475.0 89.2" stroke="#7c7c7c" stroke-width="0.50" fill="none"/><rect x="469.12" y="88.18" width="5.86" height="56.72" fill="none" stroke="#666" stroke-width="0.6"/>
<g transform="translate(474.98 144.90)"><rect x="0" y="-56.72" width="5.86" height="56.72" fill="url(#p3)" stroke="#666" stroke-width="0.6"/></g>
<rect x="480.84" y="69.01" width="5.86" height="75.89" fill="#ececec"/><path d="M486.2 144.9L486.7 144.4M483.5 144.9L486.7 141.7M480.8 144.9L486.7 139.0M480.8 142.2L486.7 136.3M480.8 139.5L486.7 133.6M480.8 136.8L486.7 130.9M480.8 134.1L486.7 128.2M480.8 131.4L486.7 125.5M480.8 128.7L486.7 122.8M480.8 126.0L486.7 120.1M480.8 123.3L486.7 117.4M480.8 120.6L486.7 114.7M480.8 117.9L486.7 112.0M480.8 115.2L486.7 109.3M480.8 112.5L486.7 106.6M480.8 109.8L486.7 103.9M480.8 107.1L486.7 101.2M480.8 104.4L486.7 98.5M480.8 101.7L486.7 95.8M480.8 99.0L486.7 93.1M480.8 96.3L486.7 90.4M480.8 93.6L486.7 87.7M480.8 90.9L486.7 85.0M480.8 88.2L486.7 82.3M480.8 85.5L486.7 79.6M480.8 82.8L486.7 76.9M480.8 80.1L486.7 74.2M480.8 77.4L486.7 71.5M480.8 74.7L486.5 69.0M480.8 72.0L483.8 69.0M480.8 69.3L481.1 69.0M480.8 142.2L483.5 144.9M480.8 139.5L486.2 144.9M480.8 136.8L486.7 142.7M480.8 134.1L486.7 140.0M480.8 131.4L486.7 137.3M480.8 128.7L486.7 134.6M480.8 126.0L486.7 131.9M480.8 123.3L486.7 129.2M480.8 120.6L486.7 126.5M480.8 117.9L486.7 123.8M480.8 115.2L486.7 121.1M480.8 112.5L486.7 118.4M480.8 109.8L486.7 115.7M480.8 107.1L486.7 113.0M480.8 104.4L486.7 110.3M480.8 101.7L486.7 107.6M480.8 99.0L486.7 104.9M480.8 96.3L486.7 102.2M480.8 93.6L486.7 99.5M480.8 90.9L486.7 96.8M480.8 88.2L486.7 94.1M480.8 85.5L486.7 91.4M480.8 82.8L486.7 88.7M480.8 80.1L486.7 86.0M480.8 77.4L486.7 83.3M480.8 74.7L486.7 80.6M480.8 72.0L486.7 77.9M480.8 69.3L486.7 75.2M483.3 69.0L486.7 72.5M486.0 69.0L486.7 69.8" stroke="#3e3e3e" stroke-width="0.85" fill="none"/><rect x="480.84" y="69.01" width="5.86" height="75.89" fill="none" stroke="#666" stroke-width="0.6"/>
<g transform="translate(486.70 144.90)"><rect x="0" y="-72.59" width="5.86" height="72.59" fill="url(#p5)" stroke="#666" stroke-width="0.6"/></g>
<path d="M460.33 81.14V86.97M458.63 81.14H462.03M458.63 86.97H462.03" stroke="#666" stroke-width="0.6" fill="none"/>
<text x="460.33" y="78.94" font-size="7.1" text-anchor="middle">cd</text>
<path d="M466.19 77.55V82.41M464.49 77.55H467.89M464.49 82.41H467.89" stroke="#666" stroke-width="0.6" fill="none"/>
<text x="466.19" y="75.35" font-size="7.1" text-anchor="middle">bc</text>
<path d="M472.05 86.72V89.64M470.35 86.72H473.75M470.35 89.64H473.75" stroke="#666" stroke-width="0.6" fill="none"/>
<text x="472.05" y="83.88" font-size="7.1" text-anchor="middle">d</text>
<path d="M477.91 84.30V92.06M476.21 84.30H479.61M476.21 92.06H479.61" stroke="#666" stroke-width="0.6" fill="none"/>
<text x="477.91" y="82.10" font-size="7.1" text-anchor="middle">cd</text>
<path d="M483.77 68.04V69.99M482.07 68.04H485.47M482.07 69.99H485.47" stroke="#666" stroke-width="0.6" fill="none"/>
<text x="483.77" y="64.71" font-size="7.1" text-anchor="middle">a</text>
<path d="M489.63 68.43V76.20M487.93 68.43H491.33M487.93 76.20H491.33" stroke="#666" stroke-width="0.6" fill="none"/>
<text x="489.63" y="66.23" font-size="7.1" text-anchor="middle">ab</text>
<g transform="translate(504.80 144.90)"><rect x="0" y="-61.62" width="5.86" height="61.62" fill="url(#p0)" stroke="#666" stroke-width="0.6"/></g>
<g transform="translate(510.66 144.90)"><rect x="0" y="-71.81" width="5.86" height="71.81" fill="url(#p1)" stroke="#666" stroke-width="0.6"/></g>
<rect x="516.52" y="70.37" width="5.86" height="74.53" fill="#fff"/><path d="M522.1 144.9L522.4 144.6M519.3 144.9L522.4 141.8M516.5 144.9L522.4 139.0M516.5 142.1L522.4 136.2M516.5 139.3L522.4 133.4M516.5 136.5L522.4 130.6M516.5 133.7L522.4 127.8M516.5 130.9L522.4 125.0M516.5 128.1L522.4 122.2M516.5 125.3L522.4 119.4M516.5 122.5L522.4 116.6M516.5 119.7L522.4 113.8M516.5 116.9L522.4 111.0M516.5 114.1L522.4 108.2M516.5 111.3L522.4 105.4M516.5 108.5L522.4 102.6M516.5 105.7L522.4 99.8M516.5 102.9L522.4 97.0M516.5 100.1L522.4 94.2M516.5 97.3L522.4 91.4M516.5 94.5L522.4 88.6M516.5 91.7L522.4 85.8M516.5 88.9L522.4 83.0M516.5 86.1L522.4 80.2M516.5 83.3L522.4 77.4M516.5 80.5L522.4 74.6M516.5 77.7L522.4 71.8M516.5 74.9L521.0 70.4M516.5 72.1L518.2 70.4M516.5 142.1L519.3 144.9M516.5 139.3L522.1 144.9M516.5 136.5L522.4 142.4M516.5 133.7L522.4 139.6M516.5 130.9L522.4 136.8M516.5 128.1L522.4 134.0M516.5 125.3L522.4 131.2M516.5 122.5L522.4 128.4M516.5 119.7L522.4 125.6M516.5 116.9L522.4 122.8M516.5 114.1L522.4 120.0M516.5 111.3L522.4 117.2M516.5 108.5L522.4 114.4M516.5 105.7L522.4 111.6M516.5 102.9L522.4 108.8M516.5 100.1L522.4 106.0M516.5 97.3L522.4 103.2M516.5 94.5L522.4 100.4M516.5 91.7L522.4 97.6M516.5 88.9L522.4 94.8M516.5 86.1L522.4 92.0M516.5 83.3L522.4 89.2M516.5 80.5L522.4 86.4M516.5 77.7L522.4 83.6M516.5 74.9L522.4 80.8M516.5 72.1L522.4 78.0M517.6 70.4L522.4 75.2M520.4 70.4L522.4 72.4" stroke="#7c7c7c" stroke-width="0.50" fill="none"/><rect x="516.52" y="70.37" width="5.86" height="74.53" fill="none" stroke="#666" stroke-width="0.6"/>
<g transform="translate(522.38 144.90)"><rect x="0" y="-73.70" width="5.86" height="73.70" fill="url(#p3)" stroke="#666" stroke-width="0.6"/></g>
<rect x="528.24" y="59.41" width="5.86" height="85.49" fill="#ececec"/><path d="M533.6 144.9L534.1 144.4M530.9 144.9L534.1 141.7M528.2 144.9L534.1 139.0M528.2 142.2L534.1 136.3M528.2 139.5L534.1 133.6M528.2 136.8L534.1 130.9M528.2 134.1L534.1 128.2M528.2 131.4L534.1 125.5M528.2 128.7L534.1 122.8M528.2 126.0L534.1 120.1M528.2 123.3L534.1 117.4M528.2 120.6L534.1 114.7M528.2 117.9L534.1 112.0M528.2 115.2L534.1 109.3M528.2 112.5L534.1 106.6M528.2 109.8L534.1 103.9M528.2 107.1L534.1 101.2M528.2 104.4L534.1 98.5M528.2 101.7L534.1 95.8M528.2 99.0L534.1 93.1M528.2 96.3L534.1 90.4M528.2 93.6L534.1 87.7M528.2 90.9L534.1 85.0M528.2 88.2L534.1 82.3M528.2 85.5L534.1 79.6M528.2 82.8L534.1 76.9M528.2 80.1L534.1 74.2M528.2 77.4L534.1 71.5M528.2 74.7L534.1 68.8M528.2 72.0L534.1 66.1M528.2 69.3L534.1 63.4M528.2 66.6L534.1 60.7M528.2 63.9L532.7 59.4M528.2 61.2L530.0 59.4M528.2 142.2L530.9 144.9M528.2 139.5L533.6 144.9M528.2 136.8L534.1 142.7M528.2 134.1L534.1 140.0M528.2 131.4L534.1 137.3M528.2 128.7L534.1 134.6M528.2 126.0L534.1 131.9M528.2 123.3L534.1 129.2M528.2 120.6L534.1 126.5M528.2 117.9L534.1 123.8M528.2 115.2L534.1 121.1M528.2 112.5L534.1 118.4M528.2 109.8L534.1 115.7M528.2 107.1L534.1 113.0M528.2 104.4L534.1 110.3M528.2 101.7L534.1 107.6M528.2 99.0L534.1 104.9M528.2 96.3L534.1 102.2M528.2 93.6L534.1 99.5M528.2 90.9L534.1 96.8M528.2 88.2L534.1 94.1M528.2 85.5L534.1 91.4M528.2 82.8L534.1 88.7M528.2 80.1L534.1 86.0M528.2 77.4L534.1 83.3M528.2 74.7L534.1 80.6M528.2 72.0L534.1 77.9M528.2 69.3L534.1 75.2M528.2 66.6L534.1 72.5M528.2 63.9L534.1 69.8M528.2 61.2L534.1 67.1M529.1 59.4L534.1 64.4M531.8 59.4L534.1 61.7" stroke="#3e3e3e" stroke-width="0.85" fill="none"/><rect x="528.24" y="59.41" width="5.86" height="85.49" fill="none" stroke="#666" stroke-width="0.6"/>
<g transform="translate(534.10 144.90)"><rect x="0" y="-78.60" width="5.86" height="78.60" fill="url(#p5)" stroke="#666" stroke-width="0.6"/></g>
<path d="M507.73 80.85V85.71M506.03 80.85H509.43M506.03 85.71H509.43" stroke="#666" stroke-width="0.6" fill="none"/>
<text x="507.73" y="78.65" font-size="7.1" text-anchor="middle">b</text>
<path d="M513.59 66.78V79.40M511.89 66.78H515.29M511.89 79.40H515.29" stroke="#666" stroke-width="0.6" fill="none"/>
<text x="513.59" y="64.58" font-size="7.1" text-anchor="middle">ab</text>
<path d="M519.45 69.40V71.34M517.75 69.40H521.15M517.75 71.34H521.15" stroke="#666" stroke-width="0.6" fill="none"/>
<text x="519.45" y="66.07" font-size="7.1" text-anchor="middle">ab</text>
<path d="M525.31 68.77V73.62M523.61 68.77H527.01M523.61 73.62H527.01" stroke="#666" stroke-width="0.6" fill="none"/>
<text x="525.31" y="66.57" font-size="7.1" text-anchor="middle">ab</text>
<path d="M531.17 58.44V60.38M529.47 58.44H532.87M529.47 60.38H532.87" stroke="#666" stroke-width="0.6" fill="none"/>
<text x="531.17" y="55.11" font-size="7.1" text-anchor="middle">a</text>
<path d="M537.03 61.93V70.66M535.33 61.93H538.73M535.33 70.66H538.73" stroke="#666" stroke-width="0.6" fill="none"/>
<text x="537.03" y="59.73" font-size="7.1" text-anchor="middle">ab</text>
<path d="M310.50 23.60V144.90H546.20" stroke="#858585" stroke-width="0.9" fill="none"/>
<text x="303.30" y="147.30" font-size="7.1" text-anchor="end">0.0</text>
<text x="303.30" y="123.04" font-size="7.1" text-anchor="end">0.5</text>
<text x="303.30" y="98.78" font-size="7.1" text-anchor="end">1.0</text>
<text x="303.30" y="74.52" font-size="7.1" text-anchor="end">1.5</text>
<text x="303.30" y="50.26" font-size="7.1" text-anchor="end">2.0</text>
<text x="303.30" y="26.00" font-size="7.1" text-anchor="end">2.5</text>
<path d="M310.50 144.90h2M310.50 120.64h2M310.50 96.38h2M310.50 72.12h2M310.50 47.86h2M310.50 23.60h2M357.36 144.90v-2M404.50 144.90v-2M451.65 144.90v-2M498.81 144.90v-2M545.96 144.90v-2" stroke="#858585" stroke-width="0.8" fill="none"/>
<text x="320.90" y="155.90" font-size="7.1">Jul 8th</text>
<text x="366.40" y="155.90" font-size="7.1">Jul 28th</text>
<text x="412.30" y="155.90" font-size="7.1">Aug 16th</text>
<text x="461.10" y="155.90" font-size="7.1">Sept 4th</text>
<text x="511.10" y="155.90" font-size="7.1">Sep 26th</text>
<text x="412.00" y="10.80" font-size="7.0" text-anchor="middle">Jingke968</text>
<text transform="translate(282.80 86.40) rotate(-90)" font-size="7.1" text-anchor="middle">Soil neutral phosphatase activity</text>
<text transform="translate(291.40 86.70) rotate(-90)" font-size="7.1" text-anchor="middle">(μmol·h<tspan dy="-2.4" font-size="4.4">−1</tspan><tspan dy="2.4">·g</tspan><tspan dy="-2.4" font-size="4.4">−1</tspan><tspan dy="2.4">)</tspan></text>
<g transform="translate(474.70 11.55)"><rect x="0" y="0" width="3.10" height="3.10" fill="#fff" stroke="#383838" stroke-width="0.8"/></g>
<text x="485.40" y="15.10" font-size="5.6" fill="#3a3a3a">CK1</text>
<g transform="translate(510.90 11.55)"><rect x="0" y="0" width="3.10" height="3.10" fill="#fff" stroke="#383838" stroke-width="0.8"/></g>
<text x="521.40" y="15.10" font-size="5.6" fill="#3a3a3a">CK2</text>
<g transform="translate(474.70 21.65)"><rect x="0" y="0" width="3.10" height="3.10" fill="#eee" stroke="#383838" stroke-width="0.8"/></g>
<text x="479.30" y="25.30" font-size="7.2">3t</text>
<g transform="translate(510.90 21.65)"><rect x="0" y="0" width="3.10" height="3.10" fill="#c4c4c4" stroke="#383838" stroke-width="0.8"/></g>
<text x="514.80" y="25.30" font-size="7.2">3.75t</text>
<g transform="translate(474.70 31.65)"><rect x="0" y="0" width="3.10" height="3.10" fill="url(#p4)" stroke="#383838" stroke-width="0.8"/></g>
<text x="479.30" y="35.30" font-size="7.2">4.5t</text>
<g transform="translate(510.90 31.65)"><rect x="0" y="0" width="3.10" height="3.10" fill="#707070" stroke="#383838" stroke-width="0.8"/></g>
<text x="514.80" y="35.30" font-size="7.2">5.25t</text>
</g>
<g>
<g transform="translate(46.80 317.60)"><rect x="0" y="-76.61" width="5.80" height="76.61" fill="url(#p0)" stroke="#666" stroke-width="0.6"/></g>
<g transform="translate(52.60 317.60)"><rect x="0" y="-96.22" width="5.80" height="96.22" fill="url(#p1)" stroke="#666" stroke-width="0.6"/></g>
<rect x="58.40" y="221.38" width="5.80" height="96.22" fill="#fff"/><path d="M64.0 317.6L64.2 317.4M61.2 317.6L64.2 314.6M58.4 317.6L64.2 311.8M58.4 314.8L64.2 309.0M58.4 312.0L64.2 306.2M58.4 309.2L64.2 303.4M58.4 306.4L64.2 300.6M58.4 303.6L64.2 297.8M58.4 300.8L64.2 295.0M58.4 298.0L64.2 292.2M58.4 295.2L64.2 289.4M58.4 292.4L64.2 286.6M58.4 289.6L64.2 283.8M58.4 286.8L64.2 281.0M58.4 284.0L64.2 278.2M58.4 281.2L64.2 275.4M58.4 278.4L64.2 272.6M58.4 275.6L64.2 269.8M58.4 272.8L64.2 267.0M58.4 270.0L64.2 264.2M58.4 267.2L64.2 261.4M58.4 264.4L64.2 258.6M58.4 261.6L64.2 255.8M58.4 258.8L64.2 253.0M58.4 256.0L64.2 250.2M58.4 253.2L64.2 247.4M58.4 250.4L64.2 244.6M58.4 247.6L64.2 241.8M58.4 244.8L64.2 239.0M58.4 242.0L64.2 236.2M58.4 239.2L64.2 233.4M58.4 236.4L64.2 230.6M58.4 233.6L64.2 227.8M58.4 230.8L64.2 225.0M58.4 228.0L64.2 222.2M58.4 225.2L62.2 221.4M58.4 222.4L59.4 221.4M58.4 314.8L61.2 317.6M58.4 312.0L64.0 317.6M58.4 309.2L64.2 315.0M58.4 306.4L64.2 312.2M58.4 303.6L64.2 309.4M58.4 300.8L64.2 306.6M58.4 298.0L64.2 303.8M58.4 295.2L64.2 301.0M58.4 292.4L64.2 298.2M58.4 289.6L64.2 295.4M58.4 286.8L64.2 292.6M58.4 284.0L64.2 289.8M58.4 281.2L64.2 287.0M58.4 278.4L64.2 284.2M58.4 275.6L64.2 281.4M58.4 272.8L64.2 278.6M58.4 270.0L64.2 275.8M58.4 267.2L64.2 273.0M58.4 264.4L64.2 270.2M58.4 261.6L64.2 267.4M58.4 258.8L64.2 264.6M58.4 256.0L64.2 261.8M58.4 253.2L64.2 259.0M58.4 250.4L64.2 256.2M58.4 247.6L64.2 253.4M58.4 244.8L64.2 250.6M58.4 242.0L64.2 247.8M58.4 239.2L64.2 245.0M58.4 236.4L64.2 242.2M58.4 233.6L64.2 239.4M58.4 230.8L64.2 236.6M58.4 228.0L64.2 233.8M58.4 225.2L64.2 231.0M58.4 222.4L64.2 228.2M60.2 221.4L64.2 225.4M63.0 221.4L64.2 222.6" stroke="#7c7c7c" stroke-width="0.50" fill="none"/><rect x="58.40" y="221.38" width="5.80" height="96.22" fill="none" stroke="#666" stroke-width="0.6"/>
<g transform="translate(64.20 317.60)"><rect x="0" y="-105.59" width="5.80" height="105.59" fill="url(#p3)" stroke="#666" stroke-width="0.6"/></g>
<rect x="70.00" y="239.32" width="5.80" height="78.28" fill="#ececec"/><path d="M75.4 317.6L75.8 317.2M72.7 317.6L75.8 314.5M70.0 317.6L75.8 311.8M70.0 314.9L75.8 309.1M70.0 312.2L75.8 306.4M70.0 309.5L75.8 303.7M70.0 306.8L75.8 301.0M70.0 304.1L75.8 298.3M70.0 301.4L75.8 295.6M70.0 298.7L75.8 292.9M70.0 296.0L75.8 290.2M70.0 293.3L75.8 287.5M70.0 290.6L75.8 284.8M70.0 287.9L75.8 282.1M70.0 285.2L75.8 279.4M70.0 282.5L75.8 276.7M70.0 279.8L75.8 274.0M70.0 277.1L75.8 271.3M70.0 274.4L75.8 268.6M70.0 271.7L75.8 265.9M70.0 269.0L75.8 263.2M70.0 266.3L75.8 260.5M70.0 263.6L75.8 257.8M70.0 260.9L75.8 255.1M70.0 258.2L75.8 252.4M70.0 255.5L75.8 249.7M70.0 252.8L75.8 247.0M70.0 250.1L75.8 244.3M70.0 247.4L75.8 241.6M70.0 244.7L75.4 239.3M70.0 242.0L72.7 239.3M70.0 314.9L72.7 317.6M70.0 312.2L75.4 317.6M70.0 309.5L75.8 315.3M70.0 306.8L75.8 312.6M70.0 304.1L75.8 309.9M70.0 301.4L75.8 307.2M70.0 298.7L75.8 304.5M70.0 296.0L75.8 301.8M70.0 293.3L75.8 299.1M70.0 290.6L75.8 296.4M70.0 287.9L75.8 293.7M70.0 285.2L75.8 291.0M70.0 282.5L75.8 288.3M70.0 279.8L75.8 285.6M70.0 277.1L75.8 282.9M70.0 274.4L75.8 280.2M70.0 271.7L75.8 277.5M70.0 269.0L75.8 274.8M70.0 266.3L75.8 272.1M70.0 263.6L75.8 269.4M70.0 260.9L75.8 266.7M70.0 258.2L75.8 264.0M70.0 255.5L75.8 261.3M70.0 252.8L75.8 258.6M70.0 250.1L75.8 255.9M70.0 247.4L75.8 253.2M70.0 244.7L75.8 250.5M70.0 242.0L75.8 247.8M70.0 239.3L75.8 245.1M72.7 239.3L75.8 242.4M75.4 239.3L75.8 239.7" stroke="#3e3e3e" stroke-width="0.85" fill="none"/><rect x="70.00" y="239.32" width="5.80" height="78.28" fill="none" stroke="#666" stroke-width="0.6"/>
<g transform="translate(75.80 317.60)"><rect x="0" y="-77.40" width="5.80" height="77.40" fill="url(#p5)" stroke="#666" stroke-width="0.6"/></g>
<path d="M49.70 231.28V250.71M48.00 231.28H51.40M48.00 250.71H51.40" stroke="#666" stroke-width="0.6" fill="none"/>
<text x="49.70" y="229.08" font-size="7.1" text-anchor="middle">c</text>
<path d="M55.50 216.96V225.80M53.80 216.96H57.20M53.80 225.80H57.20" stroke="#666" stroke-width="0.6" fill="none"/>
<text x="55.50" y="214.76" font-size="7.1" text-anchor="middle">b</text>
<path d="M61.30 212.54V230.21M59.60 212.54H63.00M59.60 230.21H63.00" stroke="#666" stroke-width="0.6" fill="none"/>
<text x="61.30" y="210.34" font-size="7.1" text-anchor="middle">b</text>
<path d="M67.10 208.48V215.55M65.40 208.48H68.80M65.40 215.55H68.80" stroke="#666" stroke-width="0.6" fill="none"/>
<text x="67.10" y="206.28" font-size="7.1" text-anchor="middle">a</text>
<path d="M72.90 237.55V241.08M71.20 237.55H74.60M71.20 241.08H74.60" stroke="#666" stroke-width="0.6" fill="none"/>
<text x="72.90" y="235.02" font-size="7.1" text-anchor="middle">c</text>
<path d="M78.70 238.87V241.52M77.00 238.87H80.40M77.00 241.52H80.40" stroke="#666" stroke-width="0.6" fill="none"/>
<text x="78.70" y="235.90" font-size="7.1" text-anchor="middle">c</text>
<g transform="translate(93.10 317.60)"><rect x="0" y="-82.44" width="5.80" height="82.44" fill="url(#p0)" stroke="#666" stroke-width="0.6"/></g>
<g transform="translate(98.90 317.60)"><rect x="0" y="-100.37" width="5.80" height="100.37" fill="url(#p1)" stroke="#666" stroke-width="0.6"/></g>
<rect x="104.70" y="213.34" width="5.80" height="104.26" fill="#fff"/><path d="M110.3 317.6L110.5 317.4M107.5 317.6L110.5 314.6M104.7 317.6L110.5 311.8M104.7 314.8L110.5 309.0M104.7 312.0L110.5 306.2M104.7 309.2L110.5 303.4M104.7 306.4L110.5 300.6M104.7 303.6L110.5 297.8M104.7 300.8L110.5 295.0M104.7 298.0L110.5 292.2M104.7 295.2L110.5 289.4M104.7 292.4L110.5 286.6M104.7 289.6L110.5 283.8M104.7 286.8L110.5 281.0M104.7 284.0L110.5 278.2M104.7 281.2L110.5 275.4M104.7 278.4L110.5 272.6M104.7 275.6L110.5 269.8M104.7 272.8L110.5 267.0M104.7 270.0L110.5 264.2M104.7 267.2L110.5 261.4M104.7 264.4L110.5 258.6M104.7 261.6L110.5 255.8M104.7 258.8L110.5 253.0M104.7 256.0L110.5 250.2M104.7 253.2L110.5 247.4M104.7 250.4L110.5 244.6M104.7 247.6L110.5 241.8M104.7 244.8L110.5 239.0M104.7 242.0L110.5 236.2M104.7 239.2L110.5 233.4M104.7 236.4L110.5 230.6M104.7 233.6L110.5 227.8M104.7 230.8L110.5 225.0M104.7 228.0L110.5 222.2M104.7 225.2L110.5 219.4M104.7 222.4L110.5 216.6M104.7 219.6L110.5 213.8M104.7 216.8L108.2 213.3M104.7 214.0L105.4 213.3M104.7 314.8L107.5 317.6M104.7 312.0L110.3 317.6M104.7 309.2L110.5 315.0M104.7 306.4L110.5 312.2M104.7 303.6L110.5 309.4M104.7 300.8L110.5 306.6M104.7 298.0L110.5 303.8M104.7 295.2L110.5 301.0M104.7 292.4L110.5 298.2M104.7 289.6L110.5 295.4M104.7 286.8L110.5 292.6M104.7 284.0L110.5 289.8M104.7 281.2L110.5 287.0M104.7 278.4L110.5 284.2M104.7 275.6L110.5 281.4M104.7 272.8L110.5 278.6M104.7 270.0L110.5 275.8M104.7 267.2L110.5 273.0M104.7 264.4L110.5 270.2M104.7 261.6L110.5 267.4M104.7 258.8L110.5 264.6M104.7 256.0L110.5 261.8M104.7 253.2L110.5 259.0M104.7 250.4L110.5 256.2M104.7 247.6L110.5 253.4M104.7 244.8L110.5 250.6M104.7 242.0L110.5 247.8M104.7 239.2L110.5 245.0M104.7 236.4L110.5 242.2M104.7 233.6L110.5 239.4M104.7 230.8L110.5 236.6M104.7 228.0L110.5 233.8M104.7 225.2L110.5 231.0M104.7 222.4L110.5 228.2M104.7 219.6L110.5 225.4M104.7 216.8L110.5 222.6M104.7 214.0L110.5 219.8M106.8 213.3L110.5 217.0M109.6 213.3L110.5 214.2" stroke="#7c7c7c" stroke-width="0.50" fill="none"/><rect x="104.70" y="213.34" width="5.80" height="104.26" fill="none" stroke="#666" stroke-width="0.6"/>
<g transform="translate(110.50 317.60)"><rect x="0" y="-75.46" width="5.80" height="75.46" fill="url(#p3)" stroke="#666" stroke-width="0.6"/></g>
<rect x="116.30" y="241.26" width="5.80" height="76.34" fill="#ececec"/><path d="M121.7 317.6L122.1 317.2M119.0 317.6L122.1 314.5M116.3 317.6L122.1 311.8M116.3 314.9L122.1 309.1M116.3 312.2L122.1 306.4M116.3 309.5L122.1 303.7M116.3 306.8L122.1 301.0M116.3 304.1L122.1 298.3M116.3 301.4L122.1 295.6M116.3 298.7L122.1 292.9M116.3 296.0L122.1 290.2M116.3 293.3L122.1 287.5M116.3 290.6L122.1 284.8M116.3 287.9L122.1 282.1M116.3 285.2L122.1 279.4M116.3 282.5L122.1 276.7M116.3 279.8L122.1 274.0M116.3 277.1L122.1 271.3M116.3 274.4L122.1 268.6M116.3 271.7L122.1 265.9M116.3 269.0L122.1 263.2M116.3 266.3L122.1 260.5M116.3 263.6L122.1 257.8M116.3 260.9L122.1 255.1M116.3 258.2L122.1 252.4M116.3 255.5L122.1 249.7M116.3 252.8L122.1 247.0M116.3 250.1L122.1 244.3M116.3 247.4L122.1 241.6M116.3 244.7L119.7 241.3M116.3 242.0L117.0 241.3M116.3 314.9L119.0 317.6M116.3 312.2L121.7 317.6M116.3 309.5L122.1 315.3M116.3 306.8L122.1 312.6M116.3 304.1L122.1 309.9M116.3 301.4L122.1 307.2M116.3 298.7L122.1 304.5M116.3 296.0L122.1 301.8M116.3 293.3L122.1 299.1M116.3 290.6L122.1 296.4M116.3 287.9L122.1 293.7M116.3 285.2L122.1 291.0M116.3 282.5L122.1 288.3M116.3 279.8L122.1 285.6M116.3 277.1L122.1 282.9M116.3 274.4L122.1 280.2M116.3 271.7L122.1 277.5M116.3 269.0L122.1 274.8M116.3 266.3L122.1 272.1M116.3 263.6L122.1 269.4M116.3 260.9L122.1 266.7M116.3 258.2L122.1 264.0M116.3 255.5L122.1 261.3M116.3 252.8L122.1 258.6M116.3 250.1L122.1 255.9M116.3 247.4L122.1 253.2M116.3 244.7L122.1 250.5M116.3 242.0L122.1 247.8M118.3 241.3L122.1 245.1M121.0 241.3L122.1 242.4" stroke="#3e3e3e" stroke-width="0.85" fill="none"/><rect x="116.30" y="241.26" width="5.80" height="76.34" fill="none" stroke="#666" stroke-width="0.6"/>
<g transform="translate(122.10 317.60)"><rect x="0" y="-90.74" width="5.80" height="90.74" fill="url(#p5)" stroke="#666" stroke-width="0.6"/></g>
<path d="M96.00 221.91V248.42M94.30 221.91H97.70M94.30 248.42H97.70" stroke="#666" stroke-width="0.6" fill="none"/>
<text x="96.00" y="219.71" font-size="7.1" text-anchor="middle">c</text>
<path d="M101.80 213.25V221.20M100.10 213.25H103.50M100.10 221.20H103.50" stroke="#666" stroke-width="0.6" fill="none"/>
<text x="101.80" y="211.05" font-size="7.1" text-anchor="middle">a</text>
<path d="M107.60 212.01V214.66M105.90 212.01H109.30M105.90 214.66H109.30" stroke="#666" stroke-width="0.6" fill="none"/>
<text x="107.60" y="209.04" font-size="7.1" text-anchor="middle">a</text>
<path d="M113.40 241.70V242.58M111.70 241.70H115.10M111.70 242.58H115.10" stroke="#666" stroke-width="0.6" fill="none"/>
<text x="113.40" y="237.84" font-size="7.1" text-anchor="middle">c</text>
<path d="M119.20 239.49V243.03M117.50 239.49H120.90M117.50 243.03H120.90" stroke="#666" stroke-width="0.6" fill="none"/>
<text x="119.20" y="236.96" font-size="7.1" text-anchor="middle">c</text>
<path d="M125.00 226.42V227.30M123.30 226.42H126.70M123.30 227.30H126.70" stroke="#666" stroke-width="0.6" fill="none"/>
<text x="125.00" y="222.56" font-size="7.1" text-anchor="middle">b</text>
<g transform="translate(139.60 317.60)"><rect x="0" y="-76.16" width="5.80" height="76.16" fill="url(#p0)" stroke="#666" stroke-width="0.6"/></g>
<g transform="translate(145.40 317.60)"><rect x="0" y="-69.54" width="5.80" height="69.54" fill="url(#p1)" stroke="#666" stroke-width="0.6"/></g>
<rect x="151.20" y="239.23" width="5.80" height="78.37" fill="#fff"/><path d="M156.8 317.6L157.0 317.4M154.0 317.6L157.0 314.6M151.2 317.6L157.0 311.8M151.2 314.8L157.0 309.0M151.2 312.0L157.0 306.2M151.2 309.2L157.0 303.4M151.2 306.4L157.0 300.6M151.2 303.6L157.0 297.8M151.2 300.8L157.0 295.0M151.2 298.0L157.0 292.2M151.2 295.2L157.0 289.4M151.2 292.4L157.0 286.6M151.2 289.6L157.0 283.8M151.2 286.8L157.0 281.0M151.2 284.0L157.0 278.2M151.2 281.2L157.0 275.4M151.2 278.4L157.0 272.6M151.2 275.6L157.0 269.8M151.2 272.8L157.0 267.0M151.2 270.0L157.0 264.2M151.2 267.2L157.0 261.4M151.2 264.4L157.0 258.6M151.2 261.6L157.0 255.8M151.2 258.8L157.0 253.0M151.2 256.0L157.0 250.2M151.2 253.2L157.0 247.4M151.2 250.4L157.0 244.6M151.2 247.6L157.0 241.8M151.2 244.8L156.8 239.2M151.2 242.0L154.0 239.2M151.2 314.8L154.0 317.6M151.2 312.0L156.8 317.6M151.2 309.2L157.0 315.0M151.2 306.4L157.0 312.2M151.2 303.6L157.0 309.4M151.2 300.8L157.0 306.6M151.2 298.0L157.0 303.8M151.2 295.2L157.0 301.0M151.2 292.4L157.0 298.2M151.2 289.6L157.0 295.4M151.2 286.8L157.0 292.6M151.2 284.0L157.0 289.8M151.2 281.2L157.0 287.0M151.2 278.4L157.0 284.2M151.2 275.6L157.0 281.4M151.2 272.8L157.0 278.6M151.2 270.0L157.0 275.8M151.2 267.2L157.0 273.0M151.2 264.4L157.0 270.2M151.2 261.6L157.0 267.4M151.2 258.8L157.0 264.6M151.2 256.0L157.0 261.8M151.2 253.2L157.0 259.0M151.2 250.4L157.0 256.2M151.2 247.6L157.0 253.4M151.2 244.8L157.0 250.6M151.2 242.0L157.0 247.8M151.2 239.2L157.0 245.0M154.0 239.2L157.0 242.2M156.8 239.2L157.0 239.4" stroke="#7c7c7c" stroke-width="0.50" fill="none"/><rect x="151.20" y="239.23" width="5.80" height="78.37" fill="none" stroke="#666" stroke-width="0.6"/>
<g transform="translate(157.00 317.60)"><rect x="0" y="-92.78" width="5.80" height="92.78" fill="url(#p3)" stroke="#666" stroke-width="0.6"/></g>
<rect x="162.80" y="222.62" width="5.80" height="94.98" fill="#ececec"/><path d="M168.2 317.6L168.6 317.2M165.5 317.6L168.6 314.5M162.8 317.6L168.6 311.8M162.8 314.9L168.6 309.1M162.8 312.2L168.6 306.4M162.8 309.5L168.6 303.7M162.8 306.8L168.6 301.0M162.8 304.1L168.6 298.3M162.8 301.4L168.6 295.6M162.8 298.7L168.6 292.9M162.8 296.0L168.6 290.2M162.8 293.3L168.6 287.5M162.8 290.6L168.6 284.8M162.8 287.9L168.6 282.1M162.8 285.2L168.6 279.4M162.8 282.5L168.6 276.7M162.8 279.8L168.6 274.0M162.8 277.1L168.6 271.3M162.8 274.4L168.6 268.6M162.8 271.7L168.6 265.9M162.8 269.0L168.6 263.2M162.8 266.3L168.6 260.5M162.8 263.6L168.6 257.8M162.8 260.9L168.6 255.1M162.8 258.2L168.6 252.4M162.8 255.5L168.6 249.7M162.8 252.8L168.6 247.0M162.8 250.1L168.6 244.3M162.8 247.4L168.6 241.6M162.8 244.7L168.6 238.9M162.8 242.0L168.6 236.2M162.8 239.3L168.6 233.5M162.8 236.6L168.6 230.8M162.8 233.9L168.6 228.1M162.8 231.2L168.6 225.4M162.8 228.5L168.6 222.7M162.8 225.8L166.0 222.6M162.8 223.1L163.3 222.6M162.8 314.9L165.5 317.6M162.8 312.2L168.2 317.6M162.8 309.5L168.6 315.3M162.8 306.8L168.6 312.6M162.8 304.1L168.6 309.9M162.8 301.4L168.6 307.2M162.8 298.7L168.6 304.5M162.8 296.0L168.6 301.8M162.8 293.3L168.6 299.1M162.8 290.6L168.6 296.4M162.8 287.9L168.6 293.7M162.8 285.2L168.6 291.0M162.8 282.5L168.6 288.3M162.8 279.8L168.6 285.6M162.8 277.1L168.6 282.9M162.8 274.4L168.6 280.2M162.8 271.7L168.6 277.5M162.8 269.0L168.6 274.8M162.8 266.3L168.6 272.1M162.8 263.6L168.6 269.4M162.8 260.9L168.6 266.7M162.8 258.2L168.6 264.0M162.8 255.5L168.6 261.3M162.8 252.8L168.6 258.6M162.8 250.1L168.6 255.9M162.8 247.4L168.6 253.2M162.8 244.7L168.6 250.5M162.8 242.0L168.6 247.8M162.8 239.3L168.6 245.1M162.8 236.6L168.6 242.4M162.8 233.9L168.6 239.7M162.8 231.2L168.6 237.0M162.8 228.5L168.6 234.3M162.8 225.8L168.6 231.6M162.8 223.1L168.6 228.9M165.0 222.6L168.6 226.2M167.7 222.6L168.6 223.5" stroke="#3e3e3e" stroke-width="0.85" fill="none"/><rect x="162.80" y="222.62" width="5.80" height="94.98" fill="none" stroke="#666" stroke-width="0.6"/>
<g transform="translate(168.60 317.60)"><rect x="0" y="-94.98" width="5.80" height="94.98" fill="url(#p5)" stroke="#666" stroke-width="0.6"/></g>
<path d="M142.50 237.02V245.85M140.80 237.02H144.20M140.80 245.85H144.20" stroke="#666" stroke-width="0.6" fill="none"/>
<text x="142.50" y="234.82" font-size="7.1" text-anchor="middle">b</text>
<path d="M148.30 246.30V249.83M146.60 246.30H150.00M146.60 249.83H150.00" stroke="#666" stroke-width="0.6" fill="none"/>
<text x="148.30" y="243.76" font-size="7.1" text-anchor="middle">c</text>
<path d="M154.10 238.79V239.67M152.40 238.79H155.80M152.40 239.67H155.80" stroke="#666" stroke-width="0.6" fill="none"/>
<text x="154.10" y="234.93" font-size="7.1" text-anchor="middle">b</text>
<path d="M159.90 222.62V227.03M158.20 222.62H161.60M158.20 227.03H161.60" stroke="#666" stroke-width="0.6" fill="none"/>
<text x="159.90" y="220.42" font-size="7.1" text-anchor="middle">a</text>
<path d="M165.70 222.17V223.06M164.00 222.17H167.40M164.00 223.06H167.40" stroke="#666" stroke-width="0.6" fill="none"/>
<text x="165.70" y="218.32" font-size="7.1" text-anchor="middle">a</text>
<path d="M171.50 222.17V223.06M169.80 222.17H173.20M169.80 223.06H173.20" stroke="#666" stroke-width="0.6" fill="none"/>
<text x="171.50" y="218.32" font-size="7.1" text-anchor="middle">a</text>
<g transform="translate(186.00 317.60)"><rect x="0" y="-81.11" width="5.80" height="81.11" fill="url(#p0)" stroke="#666" stroke-width="0.6"/></g>
<g transform="translate(191.80 317.60)"><rect x="0" y="-81.11" width="5.80" height="81.11" fill="url(#p1)" stroke="#666" stroke-width="0.6"/></g>
<rect x="197.60" y="235.07" width="5.80" height="82.53" fill="#fff"/><path d="M203.2 317.6L203.4 317.4M200.4 317.6L203.4 314.6M197.6 317.6L203.4 311.8M197.6 314.8L203.4 309.0M197.6 312.0L203.4 306.2M197.6 309.2L203.4 303.4M197.6 306.4L203.4 300.6M197.6 303.6L203.4 297.8M197.6 300.8L203.4 295.0M197.6 298.0L203.4 292.2M197.6 295.2L203.4 289.4M197.6 292.4L203.4 286.6M197.6 289.6L203.4 283.8M197.6 286.8L203.4 281.0M197.6 284.0L203.4 278.2M197.6 281.2L203.4 275.4M197.6 278.4L203.4 272.6M197.6 275.6L203.4 269.8M197.6 272.8L203.4 267.0M197.6 270.0L203.4 264.2M197.6 267.2L203.4 261.4M197.6 264.4L203.4 258.6M197.6 261.6L203.4 255.8M197.6 258.8L203.4 253.0M197.6 256.0L203.4 250.2M197.6 253.2L203.4 247.4M197.6 250.4L203.4 244.6M197.6 247.6L203.4 241.8M197.6 244.8L203.4 239.0M197.6 242.0L203.4 236.2M197.6 239.2L201.7 235.1M197.6 236.4L198.9 235.1M197.6 314.8L200.4 317.6M197.6 312.0L203.2 317.6M197.6 309.2L203.4 315.0M197.6 306.4L203.4 312.2M197.6 303.6L203.4 309.4M197.6 300.8L203.4 306.6M197.6 298.0L203.4 303.8M197.6 295.2L203.4 301.0M197.6 292.4L203.4 298.2M197.6 289.6L203.4 295.4M197.6 286.8L203.4 292.6M197.6 284.0L203.4 289.8M197.6 281.2L203.4 287.0M197.6 278.4L203.4 284.2M197.6 275.6L203.4 281.4M197.6 272.8L203.4 278.6M197.6 270.0L203.4 275.8M197.6 267.2L203.4 273.0M197.6 264.4L203.4 270.2M197.6 261.6L203.4 267.4M197.6 258.8L203.4 264.6M197.6 256.0L203.4 261.8M197.6 253.2L203.4 259.0M197.6 250.4L203.4 256.2M197.6 247.6L203.4 253.4M197.6 244.8L203.4 250.6M197.6 242.0L203.4 247.8M197.6 239.2L203.4 245.0M197.6 236.4L203.4 242.2M199.1 235.1L203.4 239.4M201.9 235.1L203.4 236.6" stroke="#7c7c7c" stroke-width="0.50" fill="none"/><rect x="197.60" y="235.07" width="5.80" height="82.53" fill="none" stroke="#666" stroke-width="0.6"/>
<g transform="translate(203.40 317.60)"><rect x="0" y="-87.21" width="5.80" height="87.21" fill="url(#p3)" stroke="#666" stroke-width="0.6"/></g>
<rect x="209.20" y="230.39" width="5.80" height="87.21" fill="#ececec"/><path d="M214.6 317.6L215.0 317.2M211.9 317.6L215.0 314.5M209.2 317.6L215.0 311.8M209.2 314.9L215.0 309.1M209.2 312.2L215.0 306.4M209.2 309.5L215.0 303.7M209.2 306.8L215.0 301.0M209.2 304.1L215.0 298.3M209.2 301.4L215.0 295.6M209.2 298.7L215.0 292.9M209.2 296.0L215.0 290.2M209.2 293.3L215.0 287.5M209.2 290.6L215.0 284.8M209.2 287.9L215.0 282.1M209.2 285.2L215.0 279.4M209.2 282.5L215.0 276.7M209.2 279.8L215.0 274.0M209.2 277.1L215.0 271.3M209.2 274.4L215.0 268.6M209.2 271.7L215.0 265.9M209.2 269.0L215.0 263.2M209.2 266.3L215.0 260.5M209.2 263.6L215.0 257.8M209.2 260.9L215.0 255.1M209.2 258.2L215.0 252.4M209.2 255.5L215.0 249.7M209.2 252.8L215.0 247.0M209.2 250.1L215.0 244.3M209.2 247.4L215.0 241.6M209.2 244.7L215.0 238.9M209.2 242.0L215.0 236.2M209.2 239.3L215.0 233.5M209.2 236.6L215.0 230.8M209.2 233.9L212.7 230.4M209.2 231.2L210.0 230.4M209.2 314.9L211.9 317.6M209.2 312.2L214.6 317.6M209.2 309.5L215.0 315.3M209.2 306.8L215.0 312.6M209.2 304.1L215.0 309.9M209.2 301.4L215.0 307.2M209.2 298.7L215.0 304.5M209.2 296.0L215.0 301.8M209.2 293.3L215.0 299.1M209.2 290.6L215.0 296.4M209.2 287.9L215.0 293.7M209.2 285.2L215.0 291.0M209.2 282.5L215.0 288.3M209.2 279.8L215.0 285.6M209.2 277.1L215.0 282.9M209.2 274.4L215.0 280.2M209.2 271.7L215.0 277.5M209.2 269.0L215.0 274.8M209.2 266.3L215.0 272.1M209.2 263.6L215.0 269.4M209.2 260.9L215.0 266.7M209.2 258.2L215.0 264.0M209.2 255.5L215.0 261.3M209.2 252.8L215.0 258.6M209.2 250.1L215.0 255.9M209.2 247.4L215.0 253.2M209.2 244.7L215.0 250.5M209.2 242.0L215.0 247.8M209.2 239.3L215.0 245.1M209.2 236.6L215.0 242.4M209.2 233.9L215.0 239.7M209.2 231.2L215.0 237.0M211.1 230.4L215.0 234.3M213.8 230.4L215.0 231.6" stroke="#3e3e3e" stroke-width="0.85" fill="none"/><rect x="209.20" y="230.39" width="5.80" height="87.21" fill="none" stroke="#666" stroke-width="0.6"/>
<g transform="translate(215.00 317.60)"><rect x="0" y="-88.62" width="5.80" height="88.62" fill="url(#p5)" stroke="#666" stroke-width="0.6"/></g>
<path d="M188.90 234.28V238.70M187.20 234.28H190.60M187.20 238.70H190.60" stroke="#666" stroke-width="0.6" fill="none"/>
<text x="188.90" y="232.08" font-size="7.1" text-anchor="middle">a</text>
<path d="M194.70 236.05V236.93M193.00 236.05H196.40M193.00 236.93H196.40" stroke="#666" stroke-width="0.6" fill="none"/>
<text x="194.70" y="232.19" font-size="7.1" text-anchor="middle">a</text>
<path d="M200.50 223.59V246.56M198.80 223.59H202.20M198.80 246.56H202.20" stroke="#666" stroke-width="0.6" fill="none"/>
<text x="200.50" y="221.39" font-size="7.1" text-anchor="middle">a</text>
<path d="M206.30 223.32V237.46M204.60 223.32H208.00M204.60 237.46H208.00" stroke="#666" stroke-width="0.6" fill="none"/>
<path d="M212.10 221.56V239.23M210.40 221.56H213.80M210.40 239.23H213.80" stroke="#666" stroke-width="0.6" fill="none"/>
<text x="212.10" y="219.36" font-size="7.1" text-anchor="middle">a</text>
<path d="M217.90 221.03V236.93M216.20 221.03H219.60M216.20 236.93H219.60" stroke="#666" stroke-width="0.6" fill="none"/>
<text x="217.90" y="218.83" font-size="7.1" text-anchor="middle">a</text>
<g transform="translate(232.30 317.60)"><rect x="0" y="-94.98" width="5.80" height="94.98" fill="url(#p0)" stroke="#666" stroke-width="0.6"/></g>
<g transform="translate(238.10 317.60)"><rect x="0" y="-96.31" width="5.80" height="96.31" fill="url(#p1)" stroke="#666" stroke-width="0.6"/></g>
<rect x="243.90" y="224.56" width="5.80" height="93.04" fill="#fff"/><path d="M249.5 317.6L249.7 317.4M246.7 317.6L249.7 314.6M243.9 317.6L249.7 311.8M243.9 314.8L249.7 309.0M243.9 312.0L249.7 306.2M243.9 309.2L249.7 303.4M243.9 306.4L249.7 300.6M243.9 303.6L249.7 297.8M243.9 300.8L249.7 295.0M243.9 298.0L249.7 292.2M243.9 295.2L249.7 289.4M243.9 292.4L249.7 286.6M243.9 289.6L249.7 283.8M243.9 286.8L249.7 281.0M243.9 284.0L249.7 278.2M243.9 281.2L249.7 275.4M243.9 278.4L249.7 272.6M243.9 275.6L249.7 269.8M243.9 272.8L249.7 267.0M243.9 270.0L249.7 264.2M243.9 267.2L249.7 261.4M243.9 264.4L249.7 258.6M243.9 261.6L249.7 255.8M243.9 258.8L249.7 253.0M243.9 256.0L249.7 250.2M243.9 253.2L249.7 247.4M243.9 250.4L249.7 244.6M243.9 247.6L249.7 241.8M243.9 244.8L249.7 239.0M243.9 242.0L249.7 236.2M243.9 239.2L249.7 233.4M243.9 236.4L249.7 230.6M243.9 233.6L249.7 227.8M243.9 230.8L249.7 225.0M243.9 228.0L247.3 224.6M243.9 225.2L244.5 224.6M243.9 314.8L246.7 317.6M243.9 312.0L249.5 317.6M243.9 309.2L249.7 315.0M243.9 306.4L249.7 312.2M243.9 303.6L249.7 309.4M243.9 300.8L249.7 306.6M243.9 298.0L249.7 303.8M243.9 295.2L249.7 301.0M243.9 292.4L249.7 298.2M243.9 289.6L249.7 295.4M243.9 286.8L249.7 292.6M243.9 284.0L249.7 289.8M243.9 281.2L249.7 287.0M243.9 278.4L249.7 284.2M243.9 275.6L249.7 281.4M243.9 272.8L249.7 278.6M243.9 270.0L249.7 275.8M243.9 267.2L249.7 273.0M243.9 264.4L249.7 270.2M243.9 261.6L249.7 267.4M243.9 258.8L249.7 264.6M243.9 256.0L249.7 261.8M243.9 253.2L249.7 259.0M243.9 250.4L249.7 256.2M243.9 247.6L249.7 253.4M243.9 244.8L249.7 250.6M243.9 242.0L249.7 247.8M243.9 239.2L249.7 245.0M243.9 236.4L249.7 242.2M243.9 233.6L249.7 239.4M243.9 230.8L249.7 236.6M243.9 228.0L249.7 233.8M243.9 225.2L249.7 231.0M246.1 224.6L249.7 228.2M248.9 224.6L249.7 225.4" stroke="#7c7c7c" stroke-width="0.50" fill="none"/><rect x="243.90" y="224.56" width="5.80" height="93.04" fill="none" stroke="#666" stroke-width="0.6"/>
<g transform="translate(249.70 317.60)"><rect x="0" y="-81.11" width="5.80" height="81.11" fill="url(#p3)" stroke="#666" stroke-width="0.6"/></g>
<rect x="255.50" y="238.70" width="5.80" height="78.90" fill="#ececec"/><path d="M260.9 317.6L261.3 317.2M258.2 317.6L261.3 314.5M255.5 317.6L261.3 311.8M255.5 314.9L261.3 309.1M255.5 312.2L261.3 306.4M255.5 309.5L261.3 303.7M255.5 306.8L261.3 301.0M255.5 304.1L261.3 298.3M255.5 301.4L261.3 295.6M255.5 298.7L261.3 292.9M255.5 296.0L261.3 290.2M255.5 293.3L261.3 287.5M255.5 290.6L261.3 284.8M255.5 287.9L261.3 282.1M255.5 285.2L261.3 279.4M255.5 282.5L261.3 276.7M255.5 279.8L261.3 274.0M255.5 277.1L261.3 271.3M255.5 274.4L261.3 268.6M255.5 271.7L261.3 265.9M255.5 269.0L261.3 263.2M255.5 266.3L261.3 260.5M255.5 263.6L261.3 257.8M255.5 260.9L261.3 255.1M255.5 258.2L261.3 252.4M255.5 255.5L261.3 249.7M255.5 252.8L261.3 247.0M255.5 250.1L261.3 244.3M255.5 247.4L261.3 241.6M255.5 244.7L261.3 238.9M255.5 242.0L258.8 238.7M255.5 239.3L256.1 238.7M255.5 314.9L258.2 317.6M255.5 312.2L260.9 317.6M255.5 309.5L261.3 315.3M255.5 306.8L261.3 312.6M255.5 304.1L261.3 309.9M255.5 301.4L261.3 307.2M255.5 298.7L261.3 304.5M255.5 296.0L261.3 301.8M255.5 293.3L261.3 299.1M255.5 290.6L261.3 296.4M255.5 287.9L261.3 293.7M255.5 285.2L261.3 291.0M255.5 282.5L261.3 288.3M255.5 279.8L261.3 285.6M255.5 277.1L261.3 282.9M255.5 274.4L261.3 280.2M255.5 271.7L261.3 277.5M255.5 269.0L261.3 274.8M255.5 266.3L261.3 272.1M255.5 263.6L261.3 269.4M255.5 260.9L261.3 266.7M255.5 258.2L261.3 264.0M255.5 255.5L261.3 261.3M255.5 252.8L261.3 258.6M255.5 250.1L261.3 255.9M255.5 247.4L261.3 253.2M255.5 244.7L261.3 250.5M255.5 242.0L261.3 247.8M255.5 239.3L261.3 245.1M257.6 238.7L261.3 242.4M260.3 238.7L261.3 239.7" stroke="#3e3e3e" stroke-width="0.85" fill="none"/><rect x="255.50" y="238.70" width="5.80" height="78.90" fill="none" stroke="#666" stroke-width="0.6"/>
<g transform="translate(261.30 317.60)"><rect x="0" y="-86.15" width="5.80" height="86.15" fill="url(#p5)" stroke="#666" stroke-width="0.6"/></g>
<path d="M235.20 215.55V229.68M233.50 215.55H236.90M233.50 229.68H236.90" stroke="#666" stroke-width="0.6" fill="none"/>
<text x="235.20" y="213.35" font-size="7.1" text-anchor="middle">a</text>
<path d="M241.00 216.87V225.71M239.30 216.87H242.70M239.30 225.71H242.70" stroke="#666" stroke-width="0.6" fill="none"/>
<text x="241.00" y="214.67" font-size="7.1" text-anchor="middle">a</text>
<path d="M246.80 219.26V229.86M245.10 219.26H248.50M245.10 229.86H248.50" stroke="#666" stroke-width="0.6" fill="none"/>
<text x="246.80" y="217.06" font-size="7.1" text-anchor="middle">a</text>
<path d="M252.60 233.84V239.14M250.90 233.84H254.30M250.90 239.14H254.30" stroke="#666" stroke-width="0.6" fill="none"/>
<text x="252.60" y="231.64" font-size="7.1" text-anchor="middle">b</text>
<path d="M258.40 236.05V241.35M256.70 236.05H260.10M256.70 241.35H260.10" stroke="#666" stroke-width="0.6" fill="none"/>
<text x="258.40" y="233.85" font-size="7.1" text-anchor="middle">b</text>
<path d="M264.20 223.50V239.40M262.50 223.50H265.90M262.50 239.40H265.90" stroke="#666" stroke-width="0.6" fill="none"/>
<text x="264.20" y="221.30" font-size="7.1" text-anchor="middle">b</text>
<path d="M40.80 193.90V317.60H273.80" stroke="#858585" stroke-width="0.9" fill="none"/>
<text x="35.20" y="320.00" font-size="7.1" text-anchor="end">0</text>
<text x="35.20" y="302.33" font-size="7.1" text-anchor="end">20</text>
<text x="35.20" y="284.66" font-size="7.1" text-anchor="end">40</text>
<text x="35.20" y="266.99" font-size="7.1" text-anchor="end">60</text>
<text x="35.20" y="249.31" font-size="7.1" text-anchor="end">80</text>
<text x="35.20" y="231.64" font-size="7.1" text-anchor="end">100</text>
<text x="35.20" y="213.97" font-size="7.1" text-anchor="end">120</text>
<text x="35.20" y="196.30" font-size="7.1" text-anchor="end">140</text>
<path d="M40.80 317.60h2M40.80 299.93h2M40.80 282.26h2M40.80 264.59h2M40.80 246.91h2M40.80 229.24h2M40.80 211.57h2M40.80 193.90h2M87.39 317.60v-2M133.76 317.60v-2M180.14 317.60v-2M226.51 317.60v-2M272.89 317.60v-2" stroke="#858585" stroke-width="0.8" fill="none"/>
<text x="47.70" y="329.60" font-size="7.1">Jul 8th</text>
<text x="93.20" y="329.60" font-size="7.1">Jul 28th</text>
<text x="138.80" y="329.60" font-size="7.1">Aug 16th</text>
<text x="188.00" y="329.60" font-size="7.1">Sept 4th</text>
<text x="236.10" y="329.60" font-size="7.1">Sep 26th</text>
<text x="138.30" y="181.10" font-size="7.0" text-anchor="middle">Xianyu335</text>
<text transform="translate(11.00 251.90) rotate(-90)" font-size="7.1" text-anchor="middle">Soil urease activity</text>
<text transform="translate(18.30 252.20) rotate(-90)" font-size="7.1" text-anchor="middle">(μmol·h<tspan dy="-2.4" font-size="4.4">−1</tspan><tspan dy="2.4">·g</tspan><tspan dy="-2.4" font-size="4.4">−1</tspan><tspan dy="2.4">)</tspan></text>
<g transform="translate(198.30 179.15)"><rect x="0" y="0" width="3.10" height="3.10" fill="#fff" stroke="#383838" stroke-width="0.8"/></g>
<text x="208.50" y="182.70" font-size="5.6" fill="#3a3a3a">CK1</text>
<g transform="translate(237.90 179.15)"><rect x="0" y="0" width="3.10" height="3.10" fill="#fff" stroke="#383838" stroke-width="0.8"/></g>
<text x="247.50" y="182.70" font-size="5.6" fill="#3a3a3a">CK2</text>
<g transform="translate(198.30 187.85)"><rect x="0" y="0" width="3.10" height="3.10" fill="#eee" stroke="#383838" stroke-width="0.8"/></g>
<text x="202.80" y="191.50" font-size="6.9">3t</text>
<g transform="translate(237.90 187.85)"><rect x="0" y="0" width="3.10" height="3.10" fill="#c4c4c4" stroke="#383838" stroke-width="0.8"/></g>
<text x="242.40" y="191.50" font-size="6.9">3.75t</text>
<g transform="translate(198.30 196.25)"><rect x="0" y="0" width="3.10" height="3.10" fill="url(#p4)" stroke="#383838" stroke-width="0.8"/></g>
<text x="202.80" y="199.90" font-size="6.9">4.5t</text>
<g transform="translate(237.90 196.25)"><rect x="0" y="0" width="3.10" height="3.10" fill="#707070" stroke="#383838" stroke-width="0.8"/></g>
<text x="242.40" y="199.90" font-size="6.9">5.25t</text>
</g>
<g>
<g transform="translate(319.10 316.00)"><rect x="0" y="-73.81" width="5.78" height="73.81" fill="url(#p0)" stroke="#666" stroke-width="0.6"/></g>
<g transform="translate(324.88 316.00)"><rect x="0" y="-97.29" width="5.78" height="97.29" fill="url(#p1)" stroke="#666" stroke-width="0.6"/></g>
<rect x="330.66" y="206.70" width="5.78" height="109.30" fill="#fff"/><path d="M336.3 316.0L336.4 315.8M333.5 316.0L336.4 313.0M330.7 316.0L336.4 310.2M330.7 313.2L336.4 307.4M330.7 310.4L336.4 304.6M330.7 307.6L336.4 301.8M330.7 304.8L336.4 299.0M330.7 302.0L336.4 296.2M330.7 299.2L336.4 293.4M330.7 296.4L336.4 290.6M330.7 293.6L336.4 287.8M330.7 290.8L336.4 285.0M330.7 288.0L336.4 282.2M330.7 285.2L336.4 279.4M330.7 282.4L336.4 276.6M330.7 279.6L336.4 273.8M330.7 276.8L336.4 271.0M330.7 274.0L336.4 268.2M330.7 271.2L336.4 265.4M330.7 268.4L336.4 262.6M330.7 265.6L336.4 259.8M330.7 262.8L336.4 257.0M330.7 260.0L336.4 254.2M330.7 257.2L336.4 251.4M330.7 254.4L336.4 248.6M330.7 251.6L336.4 245.8M330.7 248.8L336.4 243.0M330.7 246.0L336.4 240.2M330.7 243.2L336.4 237.4M330.7 240.4L336.4 234.6M330.7 237.6L336.4 231.8M330.7 234.8L336.4 229.0M330.7 232.0L336.4 226.2M330.7 229.2L336.4 223.4M330.7 226.4L336.4 220.6M330.7 223.6L336.4 217.8M330.7 220.8L336.4 215.0M330.7 218.0L336.4 212.2M330.7 215.2L336.4 209.4M330.7 212.4L336.4 206.7M330.7 209.6L333.6 206.7M330.7 206.8L330.8 206.7M330.7 313.2L333.5 316.0M330.7 310.4L336.3 316.0M330.7 307.6L336.4 313.4M330.7 304.8L336.4 310.6M330.7 302.0L336.4 307.8M330.7 299.2L336.4 305.0M330.7 296.4L336.4 302.2M330.7 293.6L336.4 299.4M330.7 290.8L336.4 296.6M330.7 288.0L336.4 293.8M330.7 285.2L336.4 291.0M330.7 282.4L336.4 288.2M330.7 279.6L336.4 285.4M330.7 276.8L336.4 282.6M330.7 274.0L336.4 279.8M330.7 271.2L336.4 277.0M330.7 268.4L336.4 274.2M330.7 265.6L336.4 271.4M330.7 262.8L336.4 268.6M330.7 260.0L336.4 265.8M330.7 257.2L336.4 263.0M330.7 254.4L336.4 260.2M330.7 251.6L336.4 257.4M330.7 248.8L336.4 254.6M330.7 246.0L336.4 251.8M330.7 243.2L336.4 249.0M330.7 240.4L336.4 246.2M330.7 237.6L336.4 243.4M330.7 234.8L336.4 240.6M330.7 232.0L336.4 237.8M330.7 229.2L336.4 235.0M330.7 226.4L336.4 232.2M330.7 223.6L336.4 229.4M330.7 220.8L336.4 226.6M330.7 218.0L336.4 223.8M330.7 215.2L336.4 221.0M330.7 212.4L336.4 218.2M330.7 209.6L336.4 215.4M330.7 206.8L336.4 212.6M333.4 206.7L336.4 209.8M336.2 206.7L336.4 207.0" stroke="#7c7c7c" stroke-width="0.50" fill="none"/><rect x="330.66" y="206.70" width="5.78" height="109.30" fill="none" stroke="#666" stroke-width="0.6"/>
<g transform="translate(336.44 316.00)"><rect x="0" y="-102.15" width="5.78" height="102.15" fill="url(#p3)" stroke="#666" stroke-width="0.6"/></g>
<rect x="342.22" y="251.64" width="5.78" height="64.36" fill="#ececec"/><path d="M347.6 316.0L348.0 315.6M344.9 316.0L348.0 312.9M342.2 316.0L348.0 310.2M342.2 313.3L348.0 307.5M342.2 310.6L348.0 304.8M342.2 307.9L348.0 302.1M342.2 305.2L348.0 299.4M342.2 302.5L348.0 296.7M342.2 299.8L348.0 294.0M342.2 297.1L348.0 291.3M342.2 294.4L348.0 288.6M342.2 291.7L348.0 285.9M342.2 289.0L348.0 283.2M342.2 286.3L348.0 280.5M342.2 283.6L348.0 277.8M342.2 280.9L348.0 275.1M342.2 278.2L348.0 272.4M342.2 275.5L348.0 269.7M342.2 272.8L348.0 267.0M342.2 270.1L348.0 264.3M342.2 267.4L348.0 261.6M342.2 264.7L348.0 258.9M342.2 262.0L348.0 256.2M342.2 259.3L348.0 253.5M342.2 256.6L347.2 251.6M342.2 253.9L344.5 251.6M342.2 313.3L344.9 316.0M342.2 310.6L347.6 316.0M342.2 307.9L348.0 313.7M342.2 305.2L348.0 311.0M342.2 302.5L348.0 308.3M342.2 299.8L348.0 305.6M342.2 297.1L348.0 302.9M342.2 294.4L348.0 300.2M342.2 291.7L348.0 297.5M342.2 289.0L348.0 294.8M342.2 286.3L348.0 292.1M342.2 283.6L348.0 289.4M342.2 280.9L348.0 286.7M342.2 278.2L348.0 284.0M342.2 275.5L348.0 281.3M342.2 272.8L348.0 278.6M342.2 270.1L348.0 275.9M342.2 267.4L348.0 273.2M342.2 264.7L348.0 270.5M342.2 262.0L348.0 267.8M342.2 259.3L348.0 265.1M342.2 256.6L348.0 262.4M342.2 253.9L348.0 259.7M342.7 251.6L348.0 257.0M345.4 251.6L348.0 254.3" stroke="#3e3e3e" stroke-width="0.85" fill="none"/><rect x="342.22" y="251.64" width="5.78" height="64.36" fill="none" stroke="#666" stroke-width="0.6"/>
<g transform="translate(348.00 316.00)"><rect x="0" y="-82.11" width="5.78" height="82.11" fill="url(#p5)" stroke="#666" stroke-width="0.6"/></g>
<path d="M321.99 234.25V250.14M320.29 234.25H323.69M320.29 250.14H323.69" stroke="#666" stroke-width="0.6" fill="none"/>
<text x="321.99" y="232.05" font-size="7.1" text-anchor="middle">d</text>
<path d="M327.77 211.65V225.77M326.07 211.65H329.47M326.07 225.77H329.47" stroke="#666" stroke-width="0.6" fill="none"/>
<text x="327.77" y="209.45" font-size="7.1" text-anchor="middle">b</text>
<path d="M333.55 205.82V207.59M331.85 205.82H335.25M331.85 207.59H335.25" stroke="#666" stroke-width="0.6" fill="none"/>
<text x="333.55" y="202.40" font-size="7.1" text-anchor="middle">a</text>
<path d="M339.33 212.53V215.18M337.63 212.53H341.03M337.63 215.18H341.03" stroke="#666" stroke-width="0.6" fill="none"/>
<text x="339.33" y="209.55" font-size="7.1" text-anchor="middle">b</text>
<path d="M345.11 251.20V252.08M343.41 251.20H346.81M343.41 252.08H346.81" stroke="#666" stroke-width="0.6" fill="none"/>
<text x="345.11" y="247.34" font-size="7.1" text-anchor="middle">e</text>
<path d="M350.89 233.45V234.34M349.19 233.45H352.59M349.19 234.34H352.59" stroke="#666" stroke-width="0.6" fill="none"/>
<text x="350.89" y="229.59" font-size="7.1" text-anchor="middle">c</text>
<g transform="translate(365.30 316.00)"><rect x="0" y="-79.28" width="5.78" height="79.28" fill="url(#p0)" stroke="#666" stroke-width="0.6"/></g>
<g transform="translate(371.08 316.00)"><rect x="0" y="-89.52" width="5.78" height="89.52" fill="url(#p1)" stroke="#666" stroke-width="0.6"/></g>
<rect x="376.86" y="238.22" width="5.78" height="77.78" fill="#fff"/><path d="M382.5 316.0L382.6 315.8M379.7 316.0L382.6 313.0M376.9 316.0L382.6 310.2M376.9 313.2L382.6 307.4M376.9 310.4L382.6 304.6M376.9 307.6L382.6 301.8M376.9 304.8L382.6 299.0M376.9 302.0L382.6 296.2M376.9 299.2L382.6 293.4M376.9 296.4L382.6 290.6M376.9 293.6L382.6 287.8M376.9 290.8L382.6 285.0M376.9 288.0L382.6 282.2M376.9 285.2L382.6 279.4M376.9 282.4L382.6 276.6M376.9 279.6L382.6 273.8M376.9 276.8L382.6 271.0M376.9 274.0L382.6 268.2M376.9 271.2L382.6 265.4M376.9 268.4L382.6 262.6M376.9 265.6L382.6 259.8M376.9 262.8L382.6 257.0M376.9 260.0L382.6 254.2M376.9 257.2L382.6 251.4M376.9 254.4L382.6 248.6M376.9 251.6L382.6 245.8M376.9 248.8L382.6 243.0M376.9 246.0L382.6 240.2M376.9 243.2L381.8 238.2M376.9 240.4L379.0 238.2M376.9 313.2L379.7 316.0M376.9 310.4L382.5 316.0M376.9 307.6L382.6 313.4M376.9 304.8L382.6 310.6M376.9 302.0L382.6 307.8M376.9 299.2L382.6 305.0M376.9 296.4L382.6 302.2M376.9 293.6L382.6 299.4M376.9 290.8L382.6 296.6M376.9 288.0L382.6 293.8M376.9 285.2L382.6 291.0M376.9 282.4L382.6 288.2M376.9 279.6L382.6 285.4M376.9 276.8L382.6 282.6M376.9 274.0L382.6 279.8M376.9 271.2L382.6 277.0M376.9 268.4L382.6 274.2M376.9 265.6L382.6 271.4M376.9 262.8L382.6 268.6M376.9 260.0L382.6 265.8M376.9 257.2L382.6 263.0M376.9 254.4L382.6 260.2M376.9 251.6L382.6 257.4M376.9 248.8L382.6 254.6M376.9 246.0L382.6 251.8M376.9 243.2L382.6 249.0M376.9 240.4L382.6 246.2M377.5 238.2L382.6 243.4M380.3 238.2L382.6 240.6" stroke="#7c7c7c" stroke-width="0.50" fill="none"/><rect x="376.86" y="238.22" width="5.78" height="77.78" fill="none" stroke="#666" stroke-width="0.6"/>
<g transform="translate(382.64 316.00)"><rect x="0" y="-70.10" width="5.78" height="70.10" fill="url(#p3)" stroke="#666" stroke-width="0.6"/></g>
<rect x="388.42" y="237.34" width="5.78" height="78.66" fill="#ececec"/><path d="M393.8 316.0L394.2 315.6M391.1 316.0L394.2 312.9M388.4 316.0L394.2 310.2M388.4 313.3L394.2 307.5M388.4 310.6L394.2 304.8M388.4 307.9L394.2 302.1M388.4 305.2L394.2 299.4M388.4 302.5L394.2 296.7M388.4 299.8L394.2 294.0M388.4 297.1L394.2 291.3M388.4 294.4L394.2 288.6M388.4 291.7L394.2 285.9M388.4 289.0L394.2 283.2M388.4 286.3L394.2 280.5M388.4 283.6L394.2 277.8M388.4 280.9L394.2 275.1M388.4 278.2L394.2 272.4M388.4 275.5L394.2 269.7M388.4 272.8L394.2 267.0M388.4 270.1L394.2 264.3M388.4 267.4L394.2 261.6M388.4 264.7L394.2 258.9M388.4 262.0L394.2 256.2M388.4 259.3L394.2 253.5M388.4 256.6L394.2 250.8M388.4 253.9L394.2 248.1M388.4 251.2L394.2 245.4M388.4 248.5L394.2 242.7M388.4 245.8L394.2 240.0M388.4 243.1L394.2 237.3M388.4 240.4L391.5 237.3M388.4 237.7L388.8 237.3M388.4 313.3L391.1 316.0M388.4 310.6L393.8 316.0M388.4 307.9L394.2 313.7M388.4 305.2L394.2 311.0M388.4 302.5L394.2 308.3M388.4 299.8L394.2 305.6M388.4 297.1L394.2 302.9M388.4 294.4L394.2 300.2M388.4 291.7L394.2 297.5M388.4 289.0L394.2 294.8M388.4 286.3L394.2 292.1M388.4 283.6L394.2 289.4M388.4 280.9L394.2 286.7M388.4 278.2L394.2 284.0M388.4 275.5L394.2 281.3M388.4 272.8L394.2 278.6M388.4 270.1L394.2 275.9M388.4 267.4L394.2 273.2M388.4 264.7L394.2 270.5M388.4 262.0L394.2 267.8M388.4 259.3L394.2 265.1M388.4 256.6L394.2 262.4M388.4 253.9L394.2 259.7M388.4 251.2L394.2 257.0M388.4 248.5L394.2 254.3M388.4 245.8L394.2 251.6M388.4 243.1L394.2 248.9M388.4 240.4L394.2 246.2M388.4 237.7L394.2 243.5M390.8 237.3L394.2 240.8M393.5 237.3L394.2 238.1" stroke="#3e3e3e" stroke-width="0.85" fill="none"/><rect x="388.42" y="237.34" width="5.78" height="78.66" fill="none" stroke="#666" stroke-width="0.6"/>
<g transform="translate(394.20 316.00)"><rect x="0" y="-86.70" width="5.78" height="86.70" fill="url(#p5)" stroke="#666" stroke-width="0.6"/></g>
<path d="M368.19 227.89V245.55M366.49 227.89H369.89M366.49 245.55H369.89" stroke="#666" stroke-width="0.6" fill="none"/>
<text x="368.19" y="225.69" font-size="7.1" text-anchor="middle">ab</text>
<path d="M373.97 216.77V236.19M372.27 216.77H375.67M372.27 236.19H375.67" stroke="#666" stroke-width="0.6" fill="none"/>
<text x="373.97" y="214.57" font-size="7.1" text-anchor="middle">a</text>
<path d="M379.75 237.34V239.10M378.05 237.34H381.45M378.05 239.10H381.45" stroke="#666" stroke-width="0.6" fill="none"/>
<text x="379.75" y="233.92" font-size="7.1" text-anchor="middle">ab</text>
<path d="M385.53 238.84V252.96M383.83 238.84H387.23M383.83 252.96H387.23" stroke="#666" stroke-width="0.6" fill="none"/>
<text x="385.53" y="236.64" font-size="7.1" text-anchor="middle">b</text>
<path d="M391.31 234.69V239.99M389.61 234.69H393.01M389.61 239.99H393.01" stroke="#666" stroke-width="0.6" fill="none"/>
<text x="391.31" y="232.49" font-size="7.1" text-anchor="middle">ab</text>
<path d="M397.09 224.01V234.60M395.39 224.01H398.79M395.39 234.60H398.79" stroke="#666" stroke-width="0.6" fill="none"/>
<text x="397.09" y="221.81" font-size="7.1" text-anchor="middle">ab</text>
<g transform="translate(411.60 316.00)"><rect x="0" y="-72.84" width="5.78" height="72.84" fill="url(#p0)" stroke="#666" stroke-width="0.6"/></g>
<g transform="translate(417.38 316.00)"><rect x="0" y="-70.81" width="5.78" height="70.81" fill="url(#p1)" stroke="#666" stroke-width="0.6"/></g>
<rect x="423.16" y="248.90" width="5.78" height="67.10" fill="#fff"/><path d="M428.8 316.0L428.9 315.8M426.0 316.0L428.9 313.0M423.2 316.0L428.9 310.2M423.2 313.2L428.9 307.4M423.2 310.4L428.9 304.6M423.2 307.6L428.9 301.8M423.2 304.8L428.9 299.0M423.2 302.0L428.9 296.2M423.2 299.2L428.9 293.4M423.2 296.4L428.9 290.6M423.2 293.6L428.9 287.8M423.2 290.8L428.9 285.0M423.2 288.0L428.9 282.2M423.2 285.2L428.9 279.4M423.2 282.4L428.9 276.6M423.2 279.6L428.9 273.8M423.2 276.8L428.9 271.0M423.2 274.0L428.9 268.2M423.2 271.2L428.9 265.4M423.2 268.4L428.9 262.6M423.2 265.6L428.9 259.8M423.2 262.8L428.9 257.0M423.2 260.0L428.9 254.2M423.2 257.2L428.9 251.4M423.2 254.4L428.7 248.9M423.2 251.6L425.9 248.9M423.2 313.2L426.0 316.0M423.2 310.4L428.8 316.0M423.2 307.6L428.9 313.4M423.2 304.8L428.9 310.6M423.2 302.0L428.9 307.8M423.2 299.2L428.9 305.0M423.2 296.4L428.9 302.2M423.2 293.6L428.9 299.4M423.2 290.8L428.9 296.6M423.2 288.0L428.9 293.8M423.2 285.2L428.9 291.0M423.2 282.4L428.9 288.2M423.2 279.6L428.9 285.4M423.2 276.8L428.9 282.6M423.2 274.0L428.9 279.8M423.2 271.2L428.9 277.0M423.2 268.4L428.9 274.2M423.2 265.6L428.9 271.4M423.2 262.8L428.9 268.6M423.2 260.0L428.9 265.8M423.2 257.2L428.9 263.0M423.2 254.4L428.9 260.2M423.2 251.6L428.9 257.4M423.3 248.9L428.9 254.6M426.1 248.9L428.9 251.8M428.9 248.9L428.9 249.0" stroke="#7c7c7c" stroke-width="0.50" fill="none"/><rect x="423.16" y="248.90" width="5.78" height="67.10" fill="none" stroke="#666" stroke-width="0.6"/>
<g transform="translate(428.94 316.00)"><rect x="0" y="-76.28" width="5.78" height="76.28" fill="url(#p3)" stroke="#666" stroke-width="0.6"/></g>
<rect x="434.72" y="228.24" width="5.78" height="87.76" fill="#ececec"/><path d="M440.1 316.0L440.5 315.6M437.4 316.0L440.5 312.9M434.7 316.0L440.5 310.2M434.7 313.3L440.5 307.5M434.7 310.6L440.5 304.8M434.7 307.9L440.5 302.1M434.7 305.2L440.5 299.4M434.7 302.5L440.5 296.7M434.7 299.8L440.5 294.0M434.7 297.1L440.5 291.3M434.7 294.4L440.5 288.6M434.7 291.7L440.5 285.9M434.7 289.0L440.5 283.2M434.7 286.3L440.5 280.5M434.7 283.6L440.5 277.8M434.7 280.9L440.5 275.1M434.7 278.2L440.5 272.4M434.7 275.5L440.5 269.7M434.7 272.8L440.5 267.0M434.7 270.1L440.5 264.3M434.7 267.4L440.5 261.6M434.7 264.7L440.5 258.9M434.7 262.0L440.5 256.2M434.7 259.3L440.5 253.5M434.7 256.6L440.5 250.8M434.7 253.9L440.5 248.1M434.7 251.2L440.5 245.4M434.7 248.5L440.5 242.7M434.7 245.8L440.5 240.0M434.7 243.1L440.5 237.3M434.7 240.4L440.5 234.6M434.7 237.7L440.5 231.9M434.7 235.0L440.5 229.2M434.7 232.3L438.8 228.2M434.7 229.6L436.1 228.2M434.7 313.3L437.4 316.0M434.7 310.6L440.1 316.0M434.7 307.9L440.5 313.7M434.7 305.2L440.5 311.0M434.7 302.5L440.5 308.3M434.7 299.8L440.5 305.6M434.7 297.1L440.5 302.9M434.7 294.4L440.5 300.2M434.7 291.7L440.5 297.5M434.7 289.0L440.5 294.8M434.7 286.3L440.5 292.1M434.7 283.6L440.5 289.4M434.7 280.9L440.5 286.7M434.7 278.2L440.5 284.0M434.7 275.5L440.5 281.3M434.7 272.8L440.5 278.6M434.7 270.1L440.5 275.9M434.7 267.4L440.5 273.2M434.7 264.7L440.5 270.5M434.7 262.0L440.5 267.8M434.7 259.3L440.5 265.1M434.7 256.6L440.5 262.4M434.7 253.9L440.5 259.7M434.7 251.2L440.5 257.0M434.7 248.5L440.5 254.3M434.7 245.8L440.5 251.6M434.7 243.1L440.5 248.9M434.7 240.4L440.5 246.2M434.7 237.7L440.5 243.5M434.7 235.0L440.5 240.8M434.7 232.3L440.5 238.1M434.7 229.6L440.5 235.4M436.1 228.2L440.5 232.7M438.8 228.2L440.5 230.0" stroke="#3e3e3e" stroke-width="0.85" fill="none"/><rect x="434.72" y="228.24" width="5.78" height="87.76" fill="none" stroke="#666" stroke-width="0.6"/>
<g transform="translate(440.50 316.00)"><rect x="0" y="-91.99" width="5.78" height="91.99" fill="url(#p5)" stroke="#666" stroke-width="0.6"/></g>
<path d="M414.49 240.96V245.37M412.79 240.96H416.19M412.79 245.37H416.19" stroke="#666" stroke-width="0.6" fill="none"/>
<text x="414.49" y="238.76" font-size="7.1" text-anchor="middle">bc</text>
<path d="M420.27 244.75V245.64M418.57 244.75H421.97M418.57 245.64H421.97" stroke="#666" stroke-width="0.6" fill="none"/>
<text x="420.27" y="240.89" font-size="7.1" text-anchor="middle">bc</text>
<path d="M426.05 241.84V255.97M424.35 241.84H427.75M424.35 255.97H427.75" stroke="#666" stroke-width="0.6" fill="none"/>
<text x="426.05" y="239.64" font-size="7.1" text-anchor="middle">c</text>
<path d="M431.83 239.28V240.16M430.13 239.28H433.53M430.13 240.16H433.53" stroke="#666" stroke-width="0.6" fill="none"/>
<text x="431.83" y="235.42" font-size="7.1" text-anchor="middle">b</text>
<path d="M437.61 224.71V231.78M435.91 224.71H439.31M435.91 231.78H439.31" stroke="#666" stroke-width="0.6" fill="none"/>
<text x="437.61" y="222.51" font-size="7.1" text-anchor="middle">a</text>
<path d="M443.39 223.56V224.45M441.69 223.56H445.09M441.69 224.45H445.09" stroke="#666" stroke-width="0.6" fill="none"/>
<text x="443.39" y="219.71" font-size="7.1" text-anchor="middle">a</text>
<g transform="translate(458.20 316.00)"><rect x="0" y="-79.37" width="5.78" height="79.37" fill="url(#p0)" stroke="#666" stroke-width="0.6"/></g>
<g transform="translate(463.98 316.00)"><rect x="0" y="-84.84" width="5.78" height="84.84" fill="url(#p1)" stroke="#666" stroke-width="0.6"/></g>
<rect x="469.76" y="240.34" width="5.78" height="75.66" fill="#fff"/><path d="M475.4 316.0L475.5 315.8M472.6 316.0L475.5 313.0M469.8 316.0L475.5 310.2M469.8 313.2L475.5 307.4M469.8 310.4L475.5 304.6M469.8 307.6L475.5 301.8M469.8 304.8L475.5 299.0M469.8 302.0L475.5 296.2M469.8 299.2L475.5 293.4M469.8 296.4L475.5 290.6M469.8 293.6L475.5 287.8M469.8 290.8L475.5 285.0M469.8 288.0L475.5 282.2M469.8 285.2L475.5 279.4M469.8 282.4L475.5 276.6M469.8 279.6L475.5 273.8M469.8 276.8L475.5 271.0M469.8 274.0L475.5 268.2M469.8 271.2L475.5 265.4M469.8 268.4L475.5 262.6M469.8 265.6L475.5 259.8M469.8 262.8L475.5 257.0M469.8 260.0L475.5 254.2M469.8 257.2L475.5 251.4M469.8 254.4L475.5 248.6M469.8 251.6L475.5 245.8M469.8 248.8L475.5 243.0M469.8 246.0L475.4 240.3M469.8 243.2L472.6 240.3M469.8 240.4L469.8 240.3M469.8 313.2L472.6 316.0M469.8 310.4L475.4 316.0M469.8 307.6L475.5 313.4M469.8 304.8L475.5 310.6M469.8 302.0L475.5 307.8M469.8 299.2L475.5 305.0M469.8 296.4L475.5 302.2M469.8 293.6L475.5 299.4M469.8 290.8L475.5 296.6M469.8 288.0L475.5 293.8M469.8 285.2L475.5 291.0M469.8 282.4L475.5 288.2M469.8 279.6L475.5 285.4M469.8 276.8L475.5 282.6M469.8 274.0L475.5 279.8M469.8 271.2L475.5 277.0M469.8 268.4L475.5 274.2M469.8 265.6L475.5 271.4M469.8 262.8L475.5 268.6M469.8 260.0L475.5 265.8M469.8 257.2L475.5 263.0M469.8 254.4L475.5 260.2M469.8 251.6L475.5 257.4M469.8 248.8L475.5 254.6M469.8 246.0L475.5 251.8M469.8 243.2L475.5 249.0M469.8 240.4L475.5 246.2M472.5 240.3L475.5 243.4M475.3 240.3L475.5 240.6" stroke="#7c7c7c" stroke-width="0.50" fill="none"/><rect x="469.76" y="240.34" width="5.78" height="75.66" fill="none" stroke="#666" stroke-width="0.6"/>
<g transform="translate(475.54 316.00)"><rect x="0" y="-88.55" width="5.78" height="88.55" fill="url(#p3)" stroke="#666" stroke-width="0.6"/></g>
<rect x="481.32" y="220.30" width="5.78" height="95.70" fill="#ececec"/><path d="M486.7 316.0L487.1 315.6M484.0 316.0L487.1 312.9M481.3 316.0L487.1 310.2M481.3 313.3L487.1 307.5M481.3 310.6L487.1 304.8M481.3 307.9L487.1 302.1M481.3 305.2L487.1 299.4M481.3 302.5L487.1 296.7M481.3 299.8L487.1 294.0M481.3 297.1L487.1 291.3M481.3 294.4L487.1 288.6M481.3 291.7L487.1 285.9M481.3 289.0L487.1 283.2M481.3 286.3L487.1 280.5M481.3 283.6L487.1 277.8M481.3 280.9L487.1 275.1M481.3 278.2L487.1 272.4M481.3 275.5L487.1 269.7M481.3 272.8L487.1 267.0M481.3 270.1L487.1 264.3M481.3 267.4L487.1 261.6M481.3 264.7L487.1 258.9M481.3 262.0L487.1 256.2M481.3 259.3L487.1 253.5M481.3 256.6L487.1 250.8M481.3 253.9L487.1 248.1M481.3 251.2L487.1 245.4M481.3 248.5L487.1 242.7M481.3 245.8L487.1 240.0M481.3 243.1L487.1 237.3M481.3 240.4L487.1 234.6M481.3 237.7L487.1 231.9M481.3 235.0L487.1 229.2M481.3 232.3L487.1 226.5M481.3 229.6L487.1 223.8M481.3 226.9L487.1 221.1M481.3 224.2L485.2 220.3M481.3 221.5L482.5 220.3M481.3 313.3L484.0 316.0M481.3 310.6L486.7 316.0M481.3 307.9L487.1 313.7M481.3 305.2L487.1 311.0M481.3 302.5L487.1 308.3M481.3 299.8L487.1 305.6M481.3 297.1L487.1 302.9M481.3 294.4L487.1 300.2M481.3 291.7L487.1 297.5M481.3 289.0L487.1 294.8M481.3 286.3L487.1 292.1M481.3 283.6L487.1 289.4M481.3 280.9L487.1 286.7M481.3 278.2L487.1 284.0M481.3 275.5L487.1 281.3M481.3 272.8L487.1 278.6M481.3 270.1L487.1 275.9M481.3 267.4L487.1 273.2M481.3 264.7L487.1 270.5M481.3 262.0L487.1 267.8M481.3 259.3L487.1 265.1M481.3 256.6L487.1 262.4M481.3 253.9L487.1 259.7M481.3 251.2L487.1 257.0M481.3 248.5L487.1 254.3M481.3 245.8L487.1 251.6M481.3 243.1L487.1 248.9M481.3 240.4L487.1 246.2M481.3 237.7L487.1 243.5M481.3 235.0L487.1 240.8M481.3 232.3L487.1 238.1M481.3 229.6L487.1 235.4M481.3 226.9L487.1 232.7M481.3 224.2L487.1 230.0M481.3 221.5L487.1 227.3M482.8 220.3L487.1 224.6M485.5 220.3L487.1 221.9" stroke="#3e3e3e" stroke-width="0.85" fill="none"/><rect x="481.32" y="220.30" width="5.78" height="95.70" fill="none" stroke="#666" stroke-width="0.6"/>
<g transform="translate(487.10 316.00)"><rect x="0" y="-97.73" width="5.78" height="97.73" fill="url(#p5)" stroke="#666" stroke-width="0.6"/></g>
<path d="M461.09 236.19V237.07M459.39 236.19H462.79M459.39 237.07H462.79" stroke="#666" stroke-width="0.6" fill="none"/>
<text x="461.09" y="232.33" font-size="7.1" text-anchor="middle">cd</text>
<path d="M466.87 222.33V239.99M465.17 222.33H468.57M465.17 239.99H468.57" stroke="#666" stroke-width="0.6" fill="none"/>
<text x="466.87" y="220.13" font-size="7.1" text-anchor="middle">bc</text>
<path d="M472.65 235.04V245.64M470.95 235.04H474.35M470.95 245.64H474.35" stroke="#666" stroke-width="0.6" fill="none"/>
<text x="472.65" y="232.84" font-size="7.1" text-anchor="middle">d</text>
<path d="M478.43 220.39V234.51M476.73 220.39H480.13M476.73 234.51H480.13" stroke="#666" stroke-width="0.6" fill="none"/>
<text x="478.43" y="218.19" font-size="7.1" text-anchor="middle">ab</text>
<path d="M484.21 218.53V222.06M482.51 218.53H485.91M482.51 222.06H485.91" stroke="#666" stroke-width="0.6" fill="none"/>
<text x="484.21" y="216.00" font-size="7.1" text-anchor="middle">a</text>
<path d="M489.99 216.94V219.59M488.29 216.94H491.69M488.29 219.59H491.69" stroke="#666" stroke-width="0.6" fill="none"/>
<text x="489.99" y="213.97" font-size="7.1" text-anchor="middle">a</text>
<g transform="translate(504.20 316.00)"><rect x="0" y="-90.85" width="5.78" height="90.85" fill="url(#p0)" stroke="#666" stroke-width="0.6"/></g>
<g transform="translate(509.98 316.00)"><rect x="0" y="-92.88" width="5.78" height="92.88" fill="url(#p1)" stroke="#666" stroke-width="0.6"/></g>
<rect x="515.76" y="221.09" width="5.78" height="94.91" fill="#fff"/><path d="M521.4 316.0L521.5 315.8M518.6 316.0L521.5 313.0M515.8 316.0L521.5 310.2M515.8 313.2L521.5 307.4M515.8 310.4L521.5 304.6M515.8 307.6L521.5 301.8M515.8 304.8L521.5 299.0M515.8 302.0L521.5 296.2M515.8 299.2L521.5 293.4M515.8 296.4L521.5 290.6M515.8 293.6L521.5 287.8M515.8 290.8L521.5 285.0M515.8 288.0L521.5 282.2M515.8 285.2L521.5 279.4M515.8 282.4L521.5 276.6M515.8 279.6L521.5 273.8M515.8 276.8L521.5 271.0M515.8 274.0L521.5 268.2M515.8 271.2L521.5 265.4M515.8 268.4L521.5 262.6M515.8 265.6L521.5 259.8M515.8 262.8L521.5 257.0M515.8 260.0L521.5 254.2M515.8 257.2L521.5 251.4M515.8 254.4L521.5 248.6M515.8 251.6L521.5 245.8M515.8 248.8L521.5 243.0M515.8 246.0L521.5 240.2M515.8 243.2L521.5 237.4M515.8 240.4L521.5 234.6M515.8 237.6L521.5 231.8M515.8 234.8L521.5 229.0M515.8 232.0L521.5 226.2M515.8 229.2L521.5 223.4M515.8 226.4L521.1 221.1M515.8 223.6L518.3 221.1M515.8 313.2L518.6 316.0M515.8 310.4L521.4 316.0M515.8 307.6L521.5 313.4M515.8 304.8L521.5 310.6M515.8 302.0L521.5 307.8M515.8 299.2L521.5 305.0M515.8 296.4L521.5 302.2M515.8 293.6L521.5 299.4M515.8 290.8L521.5 296.6M515.8 288.0L521.5 293.8M515.8 285.2L521.5 291.0M515.8 282.4L521.5 288.2M515.8 279.6L521.5 285.4M515.8 276.8L521.5 282.6M515.8 274.0L521.5 279.8M515.8 271.2L521.5 277.0M515.8 268.4L521.5 274.2M515.8 265.6L521.5 271.4M515.8 262.8L521.5 268.6M515.8 260.0L521.5 265.8M515.8 257.2L521.5 263.0M515.8 254.4L521.5 260.2M515.8 251.6L521.5 257.4M515.8 248.8L521.5 254.6M515.8 246.0L521.5 251.8M515.8 243.2L521.5 249.0M515.8 240.4L521.5 246.2M515.8 237.6L521.5 243.4M515.8 234.8L521.5 240.6M515.8 232.0L521.5 237.8M515.8 229.2L521.5 235.0M515.8 226.4L521.5 232.2M515.8 223.6L521.5 229.4M516.1 221.1L521.5 226.6M518.9 221.1L521.5 223.8" stroke="#7c7c7c" stroke-width="0.50" fill="none"/><rect x="515.76" y="221.09" width="5.78" height="94.91" fill="none" stroke="#666" stroke-width="0.6"/>
<g transform="translate(521.54 316.00)"><rect x="0" y="-82.55" width="5.78" height="82.55" fill="url(#p3)" stroke="#666" stroke-width="0.6"/></g>
<rect x="527.32" y="248.37" width="5.78" height="67.63" fill="#ececec"/><path d="M532.7 316.0L533.1 315.6M530.0 316.0L533.1 312.9M527.3 316.0L533.1 310.2M527.3 313.3L533.1 307.5M527.3 310.6L533.1 304.8M527.3 307.9L533.1 302.1M527.3 305.2L533.1 299.4M527.3 302.5L533.1 296.7M527.3 299.8L533.1 294.0M527.3 297.1L533.1 291.3M527.3 294.4L533.1 288.6M527.3 291.7L533.1 285.9M527.3 289.0L533.1 283.2M527.3 286.3L533.1 280.5M527.3 283.6L533.1 277.8M527.3 280.9L533.1 275.1M527.3 278.2L533.1 272.4M527.3 275.5L533.1 269.7M527.3 272.8L533.1 267.0M527.3 270.1L533.1 264.3M527.3 267.4L533.1 261.6M527.3 264.7L533.1 258.9M527.3 262.0L533.1 256.2M527.3 259.3L533.1 253.5M527.3 256.6L533.1 250.8M527.3 253.9L532.8 248.4M527.3 251.2L530.1 248.4M527.3 248.5L527.4 248.4M527.3 313.3L530.0 316.0M527.3 310.6L532.7 316.0M527.3 307.9L533.1 313.7M527.3 305.2L533.1 311.0M527.3 302.5L533.1 308.3M527.3 299.8L533.1 305.6M527.3 297.1L533.1 302.9M527.3 294.4L533.1 300.2M527.3 291.7L533.1 297.5M527.3 289.0L533.1 294.8M527.3 286.3L533.1 292.1M527.3 283.6L533.1 289.4M527.3 280.9L533.1 286.7M527.3 278.2L533.1 284.0M527.3 275.5L533.1 281.3M527.3 272.8L533.1 278.6M527.3 270.1L533.1 275.9M527.3 267.4L533.1 273.2M527.3 264.7L533.1 270.5M527.3 262.0L533.1 267.8M527.3 259.3L533.1 265.1M527.3 256.6L533.1 262.4M527.3 253.9L533.1 259.7M527.3 251.2L533.1 257.0M527.3 248.5L533.1 254.3M529.9 248.4L533.1 251.6M532.6 248.4L533.1 248.9" stroke="#3e3e3e" stroke-width="0.85" fill="none"/><rect x="527.32" y="248.37" width="5.78" height="67.63" fill="none" stroke="#666" stroke-width="0.6"/>
<g transform="translate(533.10 316.00)"><rect x="0" y="-55.36" width="5.78" height="55.36" fill="url(#p5)" stroke="#666" stroke-width="0.6"/></g>
<path d="M507.09 215.44V234.87M505.39 215.44H508.79M505.39 234.87H508.79" stroke="#666" stroke-width="0.6" fill="none"/>
<text x="507.09" y="213.24" font-size="7.1" text-anchor="middle">a</text>
<path d="M512.87 216.94V229.30M511.17 216.94H514.57M511.17 229.30H514.57" stroke="#666" stroke-width="0.6" fill="none"/>
<text x="512.87" y="214.74" font-size="7.1" text-anchor="middle">a</text>
<path d="M518.65 217.56V224.62M516.95 217.56H520.35M516.95 224.62H520.35" stroke="#666" stroke-width="0.6" fill="none"/>
<text x="518.65" y="215.36" font-size="7.1" text-anchor="middle">a</text>
<path d="M524.43 227.27V239.63M522.73 227.27H526.13M522.73 239.63H526.13" stroke="#666" stroke-width="0.6" fill="none"/>
<text x="524.43" y="225.07" font-size="7.1" text-anchor="middle">a</text>
<path d="M530.21 243.08V253.67M528.51 243.08H531.91M528.51 253.67H531.91" stroke="#666" stroke-width="0.6" fill="none"/>
<text x="530.21" y="240.88" font-size="7.1" text-anchor="middle">b</text>
<path d="M535.99 250.93V270.36M534.29 250.93H537.69M534.29 270.36H537.69" stroke="#666" stroke-width="0.6" fill="none"/>
<text x="535.99" y="248.73" font-size="7.1" text-anchor="middle">b</text>
<path d="M313.10 192.40V316.00H546.00" stroke="#858585" stroke-width="0.9" fill="none"/>
<text x="307.50" y="318.40" font-size="7.1" text-anchor="end">0</text>
<text x="307.50" y="300.74" font-size="7.1" text-anchor="end">20</text>
<text x="307.50" y="283.09" font-size="7.1" text-anchor="end">40</text>
<text x="307.50" y="265.43" font-size="7.1" text-anchor="end">60</text>
<text x="307.50" y="247.77" font-size="7.1" text-anchor="end">80</text>
<text x="307.50" y="230.11" font-size="7.1" text-anchor="end">100</text>
<text x="307.50" y="212.46" font-size="7.1" text-anchor="end">120</text>
<text x="307.50" y="194.80" font-size="7.1" text-anchor="end">140</text>
<path d="M313.10 316.00h2M313.10 298.34h2M313.10 280.69h2M313.10 263.03h2M313.10 245.37h2M313.10 227.71h2M313.10 210.06h2M313.10 192.40h2M359.58 316.00v-2M405.85 316.00v-2M452.13 316.00v-2M498.40 316.00v-2M544.68 316.00v-2" stroke="#858585" stroke-width="0.8" fill="none"/>
<text x="324.30" y="327.60" font-size="7.1">Jul 8th</text>
<text x="369.80" y="327.60" font-size="7.1">Jul 28th</text>
<text x="415.20" y="327.60" font-size="7.1">Aug 16th</text>
<text x="463.00" y="327.60" font-size="7.1">Sept 4th</text>
<text x="509.10" y="327.60" font-size="7.1">Sep 26th</text>
<text x="411.70" y="180.90" font-size="7.0" text-anchor="middle">Jingke968</text>
<text transform="translate(284.40 254.50) rotate(-90)" font-size="7.1" text-anchor="middle">Soil urease activity</text>
<text transform="translate(292.30 254.00) rotate(-90)" font-size="7.1" text-anchor="middle">(μmol·h<tspan dy="-2.4" font-size="4.4">−1</tspan><tspan dy="2.4">·g</tspan><tspan dy="-2.4" font-size="4.4">−1</tspan><tspan dy="2.4">)</tspan></text>
<g transform="translate(466.90 179.85)"><rect x="0" y="0" width="3.10" height="3.10" fill="#fff" stroke="#383838" stroke-width="0.8"/></g>
<text x="477.50" y="183.40" font-size="5.6" fill="#3a3a3a">CK1</text>
<g transform="translate(501.90 179.85)"><rect x="0" y="0" width="3.10" height="3.10" fill="#fff" stroke="#383838" stroke-width="0.8"/></g>
<text x="512.40" y="183.40" font-size="5.6" fill="#3a3a3a">CK2</text>
<g transform="translate(466.90 188.95)"><rect x="0" y="0" width="3.10" height="3.10" fill="#eee" stroke="#383838" stroke-width="0.8"/></g>
<text x="471.60" y="192.60" font-size="6.6">3t</text>
<g transform="translate(501.90 188.95)"><rect x="0" y="0" width="3.10" height="3.10" fill="#c4c4c4" stroke="#383838" stroke-width="0.8"/></g>
<text x="506.30" y="192.60" font-size="6.6">3.75t</text>
<g transform="translate(466.90 197.45)"><rect x="0" y="0" width="3.10" height="3.10" fill="url(#p4)" stroke="#383838" stroke-width="0.8"/></g>
<text x="471.60" y="201.10" font-size="6.6">4.5t</text>
<g transform="translate(501.90 197.45)"><rect x="0" y="0" width="3.10" height="3.10" fill="#707070" stroke="#383838" stroke-width="0.8"/></g>
<text x="506.30" y="201.10" font-size="6.6">5.25t</text>
</g>
<g>
<g transform="translate(56.30 487.90)"><rect x="0" y="-2.76" width="5.55" height="2.76" fill="url(#p0)" stroke="#666" stroke-width="0.6"/></g>
<g transform="translate(61.85 487.90)"><rect x="0" y="-4.15" width="5.55" height="4.15" fill="url(#p1)" stroke="#666" stroke-width="0.6"/></g>
<rect x="67.40" y="480.75" width="5.55" height="7.15" fill="#fff"/><path d="M70.2 487.9L72.9 485.1M67.4 487.9L72.9 482.3M67.4 485.1L71.8 480.7M67.4 482.3L69.0 480.7M67.4 485.1L70.2 487.9M67.4 482.3L72.9 487.8M68.6 480.7L72.9 485.0M71.4 480.7L72.9 482.2" stroke="#7c7c7c" stroke-width="0.50" fill="none"/><rect x="67.40" y="480.75" width="5.55" height="7.15" fill="none" stroke="#666" stroke-width="0.6"/>
<g transform="translate(72.95 487.90)"><rect x="0" y="-18.19" width="5.55" height="18.19" fill="url(#p3)" stroke="#666" stroke-width="0.6"/></g>
<rect x="78.50" y="477.98" width="5.55" height="9.92" fill="#ececec"/><path d="M83.9 487.9L84.0 487.8M81.2 487.9L84.0 485.0M78.5 487.9L84.0 482.3M78.5 485.2L84.0 479.6M78.5 482.5L83.0 478.0M78.5 479.8L80.3 478.0M78.5 485.2L81.2 487.9M78.5 482.5L83.9 487.9M78.5 479.8L84.0 485.3M79.4 478.0L84.0 482.6M82.1 478.0L84.0 479.9" stroke="#3e3e3e" stroke-width="0.85" fill="none"/><rect x="78.50" y="477.98" width="5.55" height="9.92" fill="none" stroke="#666" stroke-width="0.6"/>
<g transform="translate(84.05 487.90)"><rect x="0" y="-4.69" width="5.55" height="4.69" fill="url(#p5)" stroke="#666" stroke-width="0.6"/></g>
<path d="M59.07 484.83V485.45M57.37 484.83H60.77M57.37 485.45H60.77" stroke="#666" stroke-width="0.6" fill="none"/>
<text x="59.07" y="479.53" font-size="7.1" text-anchor="middle">c</text>
<path d="M64.62 483.23V484.27M62.92 483.23H66.33M62.92 484.27H66.33" stroke="#666" stroke-width="0.6" fill="none"/>
<text x="64.62" y="477.93" font-size="7.1" text-anchor="middle">c</text>
<path d="M70.17 479.71V481.78M68.47 479.71H71.88M68.47 481.78H71.88" stroke="#666" stroke-width="0.6" fill="none"/>
<text x="70.17" y="474.41" font-size="7.1" text-anchor="middle">bc</text>
<path d="M75.72 462.97V476.44M74.02 462.97H77.42M74.02 476.44H77.42" stroke="#666" stroke-width="0.6" fill="none"/>
<text x="75.72" y="457.67" font-size="7.1" text-anchor="middle">a</text>
<path d="M81.28 477.15V478.81M79.58 477.15H82.98M79.58 478.81H82.98" stroke="#666" stroke-width="0.6" fill="none"/>
<text x="81.28" y="471.85" font-size="7.1" text-anchor="middle">b</text>
<path d="M86.83 482.59V483.84M85.12 482.59H88.53M85.12 483.84H88.53" stroke="#666" stroke-width="0.6" fill="none"/>
<text x="86.83" y="477.29" font-size="7.1" text-anchor="middle">bc</text>
<g transform="translate(100.40 487.90)"><rect x="0" y="-13.24" width="5.55" height="13.24" fill="url(#p0)" stroke="#666" stroke-width="0.6"/></g>
<g transform="translate(105.95 487.90)"><rect x="0" y="-19.57" width="5.55" height="19.57" fill="url(#p1)" stroke="#666" stroke-width="0.6"/></g>
<rect x="111.50" y="449.85" width="5.55" height="38.05" fill="#fff"/><path d="M114.3 487.9L117.0 485.1M111.5 487.9L117.0 482.3M111.5 485.1L117.0 479.5M111.5 482.3L117.0 476.8M111.5 479.5L117.0 473.9M111.5 476.7L117.0 471.1M111.5 473.9L117.0 468.3M111.5 471.1L117.0 465.5M111.5 468.3L117.0 462.8M111.5 465.5L117.0 459.9M111.5 462.7L117.0 457.1M111.5 459.9L117.0 454.3M111.5 457.1L117.0 451.5M111.5 454.3L115.9 449.9M111.5 451.5L113.1 449.9M111.5 485.1L114.3 487.9M111.5 482.3L117.0 487.8M111.5 479.5L117.0 485.0M111.5 476.7L117.0 482.2M111.5 473.9L117.0 479.4M111.5 471.1L117.0 476.6M111.5 468.3L117.0 473.8M111.5 465.5L117.0 471.0M111.5 462.7L117.0 468.2M111.5 459.9L117.0 465.4M111.5 457.1L117.0 462.6M111.5 454.3L117.0 459.8M111.5 451.5L117.0 457.0M112.7 449.9L117.0 454.2M115.5 449.9L117.0 451.4" stroke="#7c7c7c" stroke-width="0.50" fill="none"/><rect x="111.50" y="449.85" width="5.55" height="38.05" fill="none" stroke="#666" stroke-width="0.6"/>
<g transform="translate(117.05 487.90)"><rect x="0" y="-43.54" width="5.55" height="43.54" fill="url(#p3)" stroke="#666" stroke-width="0.6"/></g>
<rect x="122.60" y="436.62" width="5.55" height="51.28" fill="#ececec"/><path d="M128.0 487.9L128.2 487.8M125.3 487.9L128.2 485.0M122.6 487.9L128.2 482.3M122.6 485.2L128.2 479.6M122.6 482.5L128.2 476.9M122.6 479.8L128.2 474.2M122.6 477.1L128.2 471.5M122.6 474.4L128.2 468.8M122.6 471.7L128.2 466.1M122.6 469.0L128.2 463.4M122.6 466.3L128.2 460.8M122.6 463.6L128.2 458.0M122.6 460.9L128.2 455.3M122.6 458.2L128.2 452.6M122.6 455.5L128.2 449.9M122.6 452.8L128.2 447.2M122.6 450.1L128.2 444.5M122.6 447.4L128.2 441.8M122.6 444.7L128.2 439.1M122.6 442.0L128.0 436.6M122.6 439.3L125.3 436.6M122.6 485.2L125.3 487.9M122.6 482.5L128.0 487.9M122.6 479.8L128.2 485.3M122.6 477.1L128.2 482.6M122.6 474.4L128.2 479.9M122.6 471.7L128.2 477.2M122.6 469.0L128.2 474.5M122.6 466.3L128.2 471.8M122.6 463.6L128.2 469.1M122.6 460.9L128.2 466.4M122.6 458.2L128.2 463.8M122.6 455.5L128.2 461.0M122.6 452.8L128.2 458.3M122.6 450.1L128.2 455.6M122.6 447.4L128.2 452.9M122.6 444.7L128.2 450.2M122.6 442.0L128.2 447.5M122.6 439.3L128.2 444.8M122.6 436.6L128.2 442.1M125.3 436.6L128.2 439.4M128.0 436.6L128.2 436.8" stroke="#3e3e3e" stroke-width="0.85" fill="none"/><rect x="122.60" y="436.62" width="5.55" height="51.28" fill="none" stroke="#666" stroke-width="0.6"/>
<g transform="translate(128.15 487.90)"><rect x="0" y="-39.70" width="5.55" height="39.70" fill="url(#p5)" stroke="#666" stroke-width="0.6"/></g>
<path d="M103.18 473.11V476.22M101.48 473.11H104.88M101.48 476.22H104.88" stroke="#666" stroke-width="0.6" fill="none"/>
<text x="103.18" y="469.81" font-size="7.1" text-anchor="middle">c</text>
<path d="M108.73 465.11V471.54M107.03 465.11H110.43M107.03 471.54H110.43" stroke="#666" stroke-width="0.6" fill="none"/>
<text x="108.73" y="461.81" font-size="7.1" text-anchor="middle">c</text>
<path d="M114.28 446.54V453.17M112.58 446.54H115.98M112.58 453.17H115.98" stroke="#666" stroke-width="0.6" fill="none"/>
<text x="114.28" y="443.24" font-size="7.1" text-anchor="middle">b</text>
<path d="M119.83 438.45V450.27M118.13 438.45H121.53M118.13 450.27H121.53" stroke="#666" stroke-width="0.6" fill="none"/>
<text x="119.83" y="435.15" font-size="7.1" text-anchor="middle">ab</text>
<path d="M125.38 430.19V443.04M123.68 430.19H127.08M123.68 443.04H127.08" stroke="#666" stroke-width="0.6" fill="none"/>
<text x="125.38" y="426.89" font-size="7.1" text-anchor="middle">a</text>
<path d="M130.93 444.57V451.82M129.23 444.57H132.62M129.23 451.82H132.62" stroke="#666" stroke-width="0.6" fill="none"/>
<text x="130.93" y="441.27" font-size="7.1" text-anchor="middle">b</text>
<g transform="translate(144.50 487.90)"><rect x="0" y="-22.64" width="5.55" height="22.64" fill="url(#p0)" stroke="#666" stroke-width="0.6"/></g>
<g transform="translate(150.05 487.90)"><rect x="0" y="-48.31" width="5.55" height="48.31" fill="url(#p1)" stroke="#666" stroke-width="0.6"/></g>
<rect x="155.60" y="391.25" width="5.55" height="96.65" fill="#fff"/><path d="M158.4 487.9L161.2 485.1M155.6 487.9L161.2 482.3M155.6 485.1L161.2 479.5M155.6 482.3L161.2 476.8M155.6 479.5L161.2 473.9M155.6 476.7L161.2 471.1M155.6 473.9L161.2 468.3M155.6 471.1L161.2 465.5M155.6 468.3L161.2 462.8M155.6 465.5L161.2 459.9M155.6 462.7L161.2 457.1M155.6 459.9L161.2 454.3M155.6 457.1L161.2 451.5M155.6 454.3L161.2 448.8M155.6 451.5L161.2 445.9M155.6 448.7L161.2 443.1M155.6 445.9L161.2 440.3M155.6 443.1L161.2 437.5M155.6 440.3L161.2 434.8M155.6 437.5L161.2 431.9M155.6 434.7L161.2 429.1M155.6 431.9L161.2 426.3M155.6 429.1L161.2 423.5M155.6 426.3L161.2 420.8M155.6 423.5L161.2 417.9M155.6 420.7L161.2 415.1M155.6 417.9L161.2 412.3M155.6 415.1L161.2 409.5M155.6 412.3L161.2 406.8M155.6 409.5L161.2 403.9M155.6 406.7L161.2 401.1M155.6 403.9L161.2 398.3M155.6 401.1L161.2 395.5M155.6 398.3L161.2 392.8M155.6 395.5L159.8 391.3M155.6 392.7L157.0 391.3M155.6 485.1L158.4 487.9M155.6 482.3L161.2 487.8M155.6 479.5L161.2 485.0M155.6 476.7L161.2 482.2M155.6 473.9L161.2 479.4M155.6 471.1L161.2 476.6M155.6 468.3L161.2 473.8M155.6 465.5L161.2 471.0M155.6 462.7L161.2 468.2M155.6 459.9L161.2 465.4M155.6 457.1L161.2 462.6M155.6 454.3L161.2 459.8M155.6 451.5L161.2 457.0M155.6 448.7L161.2 454.2M155.6 445.9L161.2 451.4M155.6 443.1L161.2 448.6M155.6 440.3L161.2 445.8M155.6 437.5L161.2 443.0M155.6 434.7L161.2 440.2M155.6 431.9L161.2 437.4M155.6 429.1L161.2 434.6M155.6 426.3L161.2 431.8M155.6 423.5L161.2 429.0M155.6 420.7L161.2 426.2M155.6 417.9L161.2 423.4M155.6 415.1L161.2 420.6M155.6 412.3L161.2 417.8M155.6 409.5L161.2 415.0M155.6 406.7L161.2 412.2M155.6 403.9L161.2 409.4M155.6 401.1L161.2 406.6M155.6 398.3L161.2 403.8M155.6 395.5L161.2 401.0M155.6 392.7L161.2 398.2M157.0 391.3L161.2 395.4M159.8 391.3L161.2 392.6" stroke="#7c7c7c" stroke-width="0.50" fill="none"/><rect x="155.60" y="391.25" width="5.55" height="96.65" fill="none" stroke="#666" stroke-width="0.6"/>
<g transform="translate(161.15 487.90)"><rect x="0" y="-69.04" width="5.55" height="69.04" fill="url(#p3)" stroke="#666" stroke-width="0.6"/></g>
<rect x="166.70" y="452.00" width="5.55" height="35.90" fill="#ececec"/><path d="M172.1 487.9L172.2 487.8M169.4 487.9L172.2 485.0M166.7 487.9L172.2 482.3M166.7 485.2L172.2 479.6M166.7 482.5L172.2 476.9M166.7 479.8L172.2 474.2M166.7 477.1L172.2 471.5M166.7 474.4L172.2 468.8M166.7 471.7L172.2 466.1M166.7 469.0L172.2 463.4M166.7 466.3L172.2 460.8M166.7 463.6L172.2 458.0M166.7 460.9L172.2 455.3M166.7 458.2L172.2 452.6M166.7 455.5L170.2 452.0M166.7 452.8L167.5 452.0M166.7 485.2L169.4 487.9M166.7 482.5L172.1 487.9M166.7 479.8L172.2 485.3M166.7 477.1L172.2 482.6M166.7 474.4L172.2 479.9M166.7 471.7L172.2 477.2M166.7 469.0L172.2 474.5M166.7 466.3L172.2 471.8M166.7 463.6L172.2 469.1M166.7 460.9L172.2 466.4M166.7 458.2L172.2 463.8M166.7 455.5L172.2 461.0M166.7 452.8L172.2 458.3M168.6 452.0L172.2 455.6M171.3 452.0L172.2 452.9" stroke="#3e3e3e" stroke-width="0.85" fill="none"/><rect x="166.70" y="452.00" width="5.55" height="35.90" fill="none" stroke="#666" stroke-width="0.6"/>
<g transform="translate(172.25 487.90)"><rect x="0" y="-19.88" width="5.55" height="19.88" fill="url(#p5)" stroke="#666" stroke-width="0.6"/></g>
<path d="M147.28 463.70V466.81M145.58 463.70H148.97M145.58 466.81H148.97" stroke="#666" stroke-width="0.6" fill="none"/>
<text x="147.28" y="458.40" font-size="7.1" text-anchor="middle">d</text>
<path d="M152.83 430.26V448.92M151.13 430.26H154.53M151.13 448.92H154.53" stroke="#666" stroke-width="0.6" fill="none"/>
<text x="152.83" y="424.96" font-size="7.1" text-anchor="middle">c</text>
<path d="M158.38 385.55V396.95M156.68 385.55H160.07M156.68 396.95H160.07" stroke="#666" stroke-width="0.6" fill="none"/>
<text x="158.38" y="380.25" font-size="7.1" text-anchor="middle">a</text>
<path d="M163.93 412.12V425.60M162.23 412.12H165.62M162.23 425.60H165.62" stroke="#666" stroke-width="0.6" fill="none"/>
<text x="163.93" y="406.82" font-size="7.1" text-anchor="middle">b</text>
<path d="M169.47 446.30V457.70M167.78 446.30H171.17M167.78 457.70H171.17" stroke="#666" stroke-width="0.6" fill="none"/>
<text x="169.47" y="441.00" font-size="7.1" text-anchor="middle">c</text>
<path d="M175.03 463.87V472.16M173.33 463.87H176.72M173.33 472.16H176.72" stroke="#666" stroke-width="0.6" fill="none"/>
<text x="175.03" y="458.57" font-size="7.1" text-anchor="middle">d</text>
<g transform="translate(188.90 487.90)"><rect x="0" y="-19.88" width="5.55" height="19.88" fill="url(#p0)" stroke="#666" stroke-width="0.6"/></g>
<g transform="translate(194.45 487.90)"><rect x="0" y="-17.94" width="5.55" height="17.94" fill="url(#p1)" stroke="#666" stroke-width="0.6"/></g>
<rect x="200.00" y="471.88" width="5.55" height="16.02" fill="#fff"/><path d="M202.8 487.9L205.6 485.1M200.0 487.9L205.6 482.3M200.0 485.1L205.6 479.5M200.0 482.3L205.6 476.8M200.0 479.5L205.6 473.9M200.0 476.7L204.8 471.9M200.0 473.9L202.0 471.9M200.0 485.1L202.8 487.9M200.0 482.3L205.6 487.8M200.0 479.5L205.6 485.0M200.0 476.7L205.6 482.2M200.0 473.9L205.6 479.4M200.8 471.9L205.6 476.6M203.6 471.9L205.6 473.8" stroke="#7c7c7c" stroke-width="0.50" fill="none"/><rect x="200.00" y="471.88" width="5.55" height="16.02" fill="none" stroke="#666" stroke-width="0.6"/>
<g transform="translate(205.55 487.90)"><rect x="0" y="-24.30" width="5.55" height="24.30" fill="url(#p3)" stroke="#666" stroke-width="0.6"/></g>
<rect x="211.10" y="471.33" width="5.55" height="16.57" fill="#ececec"/><path d="M216.5 487.9L216.7 487.8M213.8 487.9L216.7 485.0M211.1 487.9L216.7 482.3M211.1 485.2L216.7 479.6M211.1 482.5L216.7 476.9M211.1 479.8L216.7 474.2M211.1 477.1L216.7 471.5M211.1 474.4L214.2 471.3M211.1 471.7L211.5 471.3M211.1 485.2L213.8 487.9M211.1 482.5L216.5 487.9M211.1 479.8L216.7 485.3M211.1 477.1L216.7 482.6M211.1 474.4L216.7 479.9M211.1 471.7L216.7 477.2M213.4 471.3L216.7 474.5M216.1 471.3L216.7 471.8" stroke="#3e3e3e" stroke-width="0.85" fill="none"/><rect x="211.10" y="471.33" width="5.55" height="16.57" fill="none" stroke="#666" stroke-width="0.6"/>
<g transform="translate(216.65 487.90)"><rect x="0" y="-17.94" width="5.55" height="17.94" fill="url(#p5)" stroke="#666" stroke-width="0.6"/></g>
<path d="M191.68 463.87V472.16M189.98 463.87H193.38M189.98 472.16H193.38" stroke="#666" stroke-width="0.6" fill="none"/>
<text x="191.68" y="459.57" font-size="7.1" text-anchor="middle">ab</text>
<path d="M197.23 467.88V472.03M195.53 467.88H198.93M195.53 472.03H198.93" stroke="#666" stroke-width="0.6" fill="none"/>
<text x="197.23" y="463.58" font-size="7.1" text-anchor="middle">ab</text>
<path d="M202.78 470.85V472.92M201.08 470.85H204.47M201.08 472.92H204.47" stroke="#666" stroke-width="0.6" fill="none"/>
<text x="202.78" y="466.55" font-size="7.1" text-anchor="middle">b</text>
<path d="M208.33 457.38V469.82M206.63 457.38H210.03M206.63 469.82H210.03" stroke="#666" stroke-width="0.6" fill="none"/>
<text x="208.33" y="453.08" font-size="7.1" text-anchor="middle">a</text>
<path d="M213.88 470.30V472.37M212.18 470.30H215.57M212.18 472.37H215.57" stroke="#666" stroke-width="0.6" fill="none"/>
<text x="213.88" y="466.00" font-size="7.1" text-anchor="middle">b</text>
<path d="M219.43 466.33V473.58M217.73 466.33H221.12M217.73 473.58H221.12" stroke="#666" stroke-width="0.6" fill="none"/>
<text x="219.43" y="462.03" font-size="7.1" text-anchor="middle">ab</text>
<g transform="translate(233.00 487.90)"><rect x="0" y="-11.05" width="5.55" height="11.05" fill="url(#p0)" stroke="#666" stroke-width="0.6"/></g>
<g transform="translate(238.55 487.90)"><rect x="0" y="-9.66" width="5.55" height="9.66" fill="url(#p1)" stroke="#666" stroke-width="0.6"/></g>
<rect x="244.10" y="476.03" width="5.55" height="11.87" fill="#fff"/><path d="M246.9 487.9L249.7 485.1M244.1 487.9L249.7 482.3M244.1 485.1L249.7 479.5M244.1 482.3L249.7 476.8M244.1 479.5L247.6 476.0M244.1 476.7L244.8 476.0M244.1 485.1L246.9 487.9M244.1 482.3L249.7 487.8M244.1 479.5L249.7 485.0M244.1 476.7L249.7 482.2M246.2 476.0L249.7 479.4M249.0 476.0L249.7 476.6" stroke="#7c7c7c" stroke-width="0.50" fill="none"/><rect x="244.10" y="476.03" width="5.55" height="11.87" fill="none" stroke="#666" stroke-width="0.6"/>
<g transform="translate(249.65 487.90)"><rect x="0" y="-16.57" width="5.55" height="16.57" fill="url(#p3)" stroke="#666" stroke-width="0.6"/></g>
<rect x="255.20" y="475.47" width="5.55" height="12.43" fill="#ececec"/><path d="M260.6 487.9L260.8 487.8M257.9 487.9L260.8 485.0M255.2 487.9L260.8 482.3M255.2 485.2L260.8 479.6M255.2 482.5L260.8 476.9M255.2 479.8L259.5 475.5M255.2 477.1L256.8 475.5M255.2 485.2L257.9 487.9M255.2 482.5L260.6 487.9M255.2 479.8L260.8 485.3M255.2 477.1L260.8 482.6M256.3 475.5L260.8 479.9M259.0 475.5L260.8 477.2" stroke="#3e3e3e" stroke-width="0.85" fill="none"/><rect x="255.20" y="475.47" width="5.55" height="12.43" fill="none" stroke="#666" stroke-width="0.6"/>
<g transform="translate(260.75 487.90)"><rect x="0" y="-10.77" width="5.55" height="10.77" fill="url(#p5)" stroke="#666" stroke-width="0.6"/></g>
<path d="M235.78 474.26V479.44M234.08 474.26H237.47M234.08 479.44H237.47" stroke="#666" stroke-width="0.6" fill="none"/>
<text x="235.78" y="469.96" font-size="7.1" text-anchor="middle">b</text>
<path d="M241.33 476.99V479.48M239.63 476.99H243.03M239.63 479.48H243.03" stroke="#666" stroke-width="0.6" fill="none"/>
<text x="241.33" y="472.69" font-size="7.1" text-anchor="middle">b</text>
<path d="M246.88 474.68V477.38M245.18 474.68H248.57M245.18 477.38H248.57" stroke="#666" stroke-width="0.6" fill="none"/>
<text x="246.88" y="470.38" font-size="7.1" text-anchor="middle">b</text>
<path d="M252.43 467.71V474.96M250.73 467.71H254.12M250.73 474.96H254.12" stroke="#666" stroke-width="0.6" fill="none"/>
<text x="252.43" y="463.41" font-size="7.1" text-anchor="middle">a</text>
<path d="M257.97 474.23V476.71M256.27 474.23H259.67M256.27 476.71H259.67" stroke="#666" stroke-width="0.6" fill="none"/>
<text x="257.97" y="469.93" font-size="7.1" text-anchor="middle">ab</text>
<path d="M263.52 476.40V477.85M261.82 476.40H265.22M261.82 477.85H265.22" stroke="#666" stroke-width="0.6" fill="none"/>
<text x="263.52" y="472.10" font-size="7.1" text-anchor="middle">b</text>
<path d="M50.65 363.50V487.90H272.30" stroke="#858585" stroke-width="0.9" fill="none"/>
<text x="44.30" y="490.30" font-size="7.1" text-anchor="end">0</text>
<text x="44.30" y="469.57" font-size="7.1" text-anchor="end">2,000</text>
<text x="44.30" y="448.83" font-size="7.1" text-anchor="end">4,000</text>
<text x="44.30" y="428.10" font-size="7.1" text-anchor="end">6,000</text>
<text x="44.30" y="407.37" font-size="7.1" text-anchor="end">8,000</text>
<text x="44.30" y="386.63" font-size="7.1" text-anchor="end">10,000</text>
<text x="44.30" y="365.90" font-size="7.1" text-anchor="end">12,000</text>
<path d="M50.65 487.90h2M50.65 467.17h2M50.65 446.43h2M50.65 425.70h2M50.65 404.97h2M50.65 384.23h2M50.65 363.50h2M95.04 487.90v-2M139.21 487.90v-2M183.39 487.90v-2M227.56 487.90v-2M271.74 487.90v-2" stroke="#858585" stroke-width="0.8" fill="none"/>
<text x="62.00" y="500.00" font-size="7.1">Jul 8th</text>
<text x="103.60" y="500.00" font-size="7.1">Jul 28th</text>
<text x="149.10" y="500.00" font-size="7.1">Aug 16th</text>
<text x="194.50" y="500.00" font-size="7.1">Sept 4th</text>
<text x="237.70" y="500.00" font-size="7.1">Sep 26th</text>
<text x="153.50" y="353.20" font-size="7.0" text-anchor="middle">Xianyu335</text>
<text transform="translate(10.20 416.20) rotate(-90)" font-size="7.1" text-anchor="middle">Soil β-Glucosidase activity</text>
<text transform="translate(18.60 414.80) rotate(-90)" font-size="7.1" text-anchor="middle">(μmol·h<tspan dy="-2.4" font-size="4.4">−1</tspan><tspan dy="2.4">·g</tspan><tspan dy="-2.4" font-size="4.4">−1</tspan><tspan dy="2.4">)</tspan></text>
<g transform="translate(201.80 359.60)"><rect x="0" y="0" width="3.20" height="3.20" fill="#fff" stroke="#383838" stroke-width="0.8"/></g>
<text x="212.50" y="363.20" font-size="5.6" fill="#3a3a3a">CK1</text>
<g transform="translate(238.70 359.60)"><rect x="0" y="0" width="3.20" height="3.20" fill="#fff" stroke="#383838" stroke-width="0.8"/></g>
<text x="248.90" y="363.20" font-size="5.6" fill="#3a3a3a">CK2</text>
<g transform="translate(201.80 371.20)"><rect x="0" y="0" width="3.20" height="3.20" fill="#eee" stroke="#383838" stroke-width="0.8"/></g>
<text x="206.40" y="374.90" font-size="7.2">3t</text>
<g transform="translate(238.70 371.20)"><rect x="0" y="0" width="3.20" height="3.20" fill="#c4c4c4" stroke="#383838" stroke-width="0.8"/></g>
<text x="242.40" y="374.90" font-size="7.2">3.75t</text>
<g transform="translate(201.80 383.40)"><rect x="0" y="0" width="3.20" height="3.20" fill="url(#p4)" stroke="#383838" stroke-width="0.8"/></g>
<text x="206.40" y="387.10" font-size="7.2">4.5t</text>
<g transform="translate(238.70 383.40)"><rect x="0" y="0" width="3.20" height="3.20" fill="#707070" stroke="#383838" stroke-width="0.8"/></g>
<text x="242.40" y="387.10" font-size="7.2">5.25t</text>
</g>
<g>
<g transform="translate(329.20 487.20)"><rect x="0" y="-3.58" width="5.42" height="3.58" fill="url(#p0)" stroke="#666" stroke-width="0.6"/></g>
<g transform="translate(334.62 487.20)"><rect x="0" y="-4.97" width="5.42" height="4.97" fill="url(#p1)" stroke="#666" stroke-width="0.6"/></g>
<rect x="340.04" y="478.65" width="5.42" height="8.55" fill="#fff"/><path d="M342.8 487.2L345.5 484.6M340.0 487.2L345.5 481.8M340.0 484.4L345.5 479.0M340.0 481.6L343.0 478.6M340.0 478.8L340.2 478.6M340.0 484.4L342.8 487.2M340.0 481.6L345.5 487.0M340.0 478.8L345.5 484.2M342.7 478.6L345.5 481.4" stroke="#7c7c7c" stroke-width="0.50" fill="none"/><rect x="340.04" y="478.65" width="5.42" height="8.55" fill="none" stroke="#666" stroke-width="0.6"/>
<g transform="translate(345.46 487.20)"><rect x="0" y="-12.69" width="5.42" height="12.69" fill="url(#p3)" stroke="#666" stroke-width="0.6"/></g>
<rect x="350.88" y="482.51" width="5.42" height="4.69" fill="#ececec"/><path d="M356.3 487.2L356.3 487.2M353.6 487.2L356.3 484.5M350.9 487.2L355.6 482.5M350.9 484.5L352.9 482.5M350.9 484.5L353.6 487.2M351.6 482.5L356.3 487.2M354.3 482.5L356.3 484.5" stroke="#3e3e3e" stroke-width="0.85" fill="none"/><rect x="350.88" y="482.51" width="5.42" height="4.69" fill="none" stroke="#666" stroke-width="0.6"/>
<g transform="translate(356.30 487.20)"><rect x="0" y="-4.14" width="5.42" height="4.14" fill="url(#p5)" stroke="#666" stroke-width="0.6"/></g>
<path d="M331.91 483.31V483.92M330.21 483.31H333.61M330.21 483.92H333.61" stroke="#666" stroke-width="0.6" fill="none"/>
<text x="331.91" y="478.01" font-size="7.1" text-anchor="middle">b</text>
<path d="M337.33 481.77V482.70M335.63 481.77H339.03M335.63 482.70H339.03" stroke="#666" stroke-width="0.6" fill="none"/>
<text x="337.33" y="476.47" font-size="7.1" text-anchor="middle">b</text>
<path d="M342.75 478.03V479.27M341.05 478.03H344.45M341.05 479.27H344.45" stroke="#666" stroke-width="0.6" fill="none"/>
<text x="342.75" y="472.73" font-size="7.1" text-anchor="middle">ab</text>
<path d="M348.17 467.94V481.07M346.47 467.94H349.87M346.47 481.07H349.87" stroke="#666" stroke-width="0.6" fill="none"/>
<text x="348.17" y="462.64" font-size="7.1" text-anchor="middle">a</text>
<path d="M353.59 482.12V482.90M351.89 482.12H355.29M351.89 482.90H355.29" stroke="#666" stroke-width="0.6" fill="none"/>
<text x="353.59" y="476.82" font-size="7.1" text-anchor="middle">b</text>
<path d="M359.01 481.51V484.60M357.31 481.51H360.71M357.31 484.60H360.71" stroke="#666" stroke-width="0.6" fill="none"/>
<text x="359.01" y="476.21" font-size="7.1" text-anchor="middle">b</text>
<g transform="translate(372.50 487.20)"><rect x="0" y="-16.83" width="5.42" height="16.83" fill="url(#p0)" stroke="#666" stroke-width="0.6"/></g>
<g transform="translate(377.92 487.20)"><rect x="0" y="-28.42" width="5.42" height="28.42" fill="url(#p1)" stroke="#666" stroke-width="0.6"/></g>
<rect x="383.34" y="452.72" width="5.42" height="34.48" fill="#fff"/><path d="M386.1 487.2L388.8 484.6M383.3 487.2L388.8 481.8M383.3 484.4L388.8 479.0M383.3 481.6L388.8 476.2M383.3 478.8L388.8 473.4M383.3 476.0L388.8 470.6M383.3 473.2L388.8 467.8M383.3 470.4L388.8 465.0M383.3 467.6L388.8 462.2M383.3 464.8L388.8 459.4M383.3 462.0L388.8 456.6M383.3 459.2L388.8 453.8M383.3 456.4L387.0 452.7M383.3 453.6L384.2 452.7M383.3 484.4L386.1 487.2M383.3 481.6L388.8 487.0M383.3 478.8L388.8 484.2M383.3 476.0L388.8 481.4M383.3 473.2L388.8 478.6M383.3 470.4L388.8 475.8M383.3 467.6L388.8 473.0M383.3 464.8L388.8 470.2M383.3 462.0L388.8 467.4M383.3 459.2L388.8 464.6M383.3 456.4L388.8 461.8M383.3 453.6L388.8 459.0M385.3 452.7L388.8 456.2M388.1 452.7L388.8 453.4" stroke="#7c7c7c" stroke-width="0.50" fill="none"/><rect x="383.34" y="452.72" width="5.42" height="34.48" fill="none" stroke="#666" stroke-width="0.6"/>
<g transform="translate(388.76 487.20)"><rect x="0" y="-31.73" width="5.42" height="31.73" fill="url(#p3)" stroke="#666" stroke-width="0.6"/></g>
<rect x="394.18" y="459.34" width="5.42" height="27.86" fill="#ececec"/><path d="M399.6 487.2L399.6 487.2M396.9 487.2L399.6 484.5M394.2 487.2L399.6 481.8M394.2 484.5L399.6 479.1M394.2 481.8L399.6 476.4M394.2 479.1L399.6 473.7M394.2 476.4L399.6 471.0M394.2 473.7L399.6 468.3M394.2 471.0L399.6 465.6M394.2 468.3L399.6 462.9M394.2 465.6L399.6 460.2M394.2 462.9L397.7 459.3M394.2 460.2L395.0 459.3M394.2 484.5L396.9 487.2M394.2 481.8L399.6 487.2M394.2 479.1L399.6 484.5M394.2 476.4L399.6 481.8M394.2 473.7L399.6 479.1M394.2 471.0L399.6 476.4M394.2 468.3L399.6 473.7M394.2 465.6L399.6 471.0M394.2 462.9L399.6 468.3M394.2 460.2L399.6 465.6M396.0 459.3L399.6 462.9M398.7 459.3L399.6 460.2" stroke="#3e3e3e" stroke-width="0.85" fill="none"/><rect x="394.18" y="459.34" width="5.42" height="27.86" fill="none" stroke="#666" stroke-width="0.6"/>
<g transform="translate(399.60 487.20)"><rect x="0" y="-35.59" width="5.42" height="35.59" fill="url(#p5)" stroke="#666" stroke-width="0.6"/></g>
<path d="M375.21 469.21V471.53M373.51 469.21H376.91M373.51 471.53H376.91" stroke="#666" stroke-width="0.6" fill="none"/>
<text x="375.21" y="465.41" font-size="7.1" text-anchor="middle">c</text>
<path d="M380.63 454.92V462.64M378.93 454.92H382.33M378.93 462.64H382.33" stroke="#666" stroke-width="0.6" fill="none"/>
<text x="380.63" y="451.12" font-size="7.1" text-anchor="middle">ab</text>
<path d="M386.05 445.76V459.67M384.35 445.76H387.75M384.35 459.67H387.75" stroke="#666" stroke-width="0.6" fill="none"/>
<text x="386.05" y="441.96" font-size="7.1" text-anchor="middle">ab</text>
<path d="M391.47 452.77V458.18M389.77 452.77H393.17M389.77 458.18H393.17" stroke="#666" stroke-width="0.6" fill="none"/>
<text x="391.47" y="448.97" font-size="7.1" text-anchor="middle">ab</text>
<path d="M396.89 455.47V463.20M395.19 455.47H398.59M395.19 463.20H398.59" stroke="#666" stroke-width="0.6" fill="none"/>
<text x="396.89" y="451.67" font-size="7.1" text-anchor="middle">b</text>
<path d="M402.31 448.52V454.70M400.61 448.52H404.01M400.61 454.70H404.01" stroke="#666" stroke-width="0.6" fill="none"/>
<text x="402.31" y="444.72" font-size="7.1" text-anchor="middle">a</text>
<g transform="translate(416.00 487.20)"><rect x="0" y="-19.61" width="5.42" height="19.61" fill="url(#p0)" stroke="#666" stroke-width="0.6"/></g>
<g transform="translate(421.42 487.20)"><rect x="0" y="-24.31" width="5.42" height="24.31" fill="url(#p1)" stroke="#666" stroke-width="0.6"/></g>
<rect x="426.84" y="426.97" width="5.42" height="60.23" fill="#fff"/><path d="M429.6 487.2L432.3 484.6M426.8 487.2L432.3 481.8M426.8 484.4L432.3 479.0M426.8 481.6L432.3 476.2M426.8 478.8L432.3 473.4M426.8 476.0L432.3 470.6M426.8 473.2L432.3 467.8M426.8 470.4L432.3 465.0M426.8 467.6L432.3 462.2M426.8 464.8L432.3 459.4M426.8 462.0L432.3 456.6M426.8 459.2L432.3 453.8M426.8 456.4L432.3 451.0M426.8 453.6L432.3 448.2M426.8 450.8L432.3 445.4M426.8 448.0L432.3 442.6M426.8 445.2L432.3 439.8M426.8 442.4L432.3 437.0M426.8 439.6L432.3 434.2M426.8 436.8L432.3 431.4M426.8 434.0L432.3 428.6M426.8 431.2L431.1 427.0M426.8 428.4L428.3 427.0M426.8 484.4L429.6 487.2M426.8 481.6L432.3 487.0M426.8 478.8L432.3 484.2M426.8 476.0L432.3 481.4M426.8 473.2L432.3 478.6M426.8 470.4L432.3 475.8M426.8 467.6L432.3 473.0M426.8 464.8L432.3 470.2M426.8 462.0L432.3 467.4M426.8 459.2L432.3 464.6M426.8 456.4L432.3 461.8M426.8 453.6L432.3 459.0M426.8 450.8L432.3 456.2M426.8 448.0L432.3 453.4M426.8 445.2L432.3 450.6M426.8 442.4L432.3 447.8M426.8 439.6L432.3 445.0M426.8 436.8L432.3 442.2M426.8 434.0L432.3 439.4M426.8 431.2L432.3 436.6M426.8 428.4L432.3 433.8M428.2 427.0L432.3 431.0M431.0 427.0L432.3 428.2" stroke="#7c7c7c" stroke-width="0.50" fill="none"/><rect x="426.84" y="426.97" width="5.42" height="60.23" fill="none" stroke="#666" stroke-width="0.6"/>
<g transform="translate(432.26 487.20)"><rect x="0" y="-98.35" width="5.42" height="98.35" fill="url(#p3)" stroke="#666" stroke-width="0.6"/></g>
<rect x="437.68" y="465.10" width="5.42" height="22.10" fill="#ececec"/><path d="M443.1 487.2L443.1 487.2M440.4 487.2L443.1 484.5M437.7 487.2L443.1 481.8M437.7 484.5L443.1 479.1M437.7 481.8L443.1 476.4M437.7 479.1L443.1 473.7M437.7 476.4L443.1 471.0M437.7 473.7L443.1 468.3M437.7 471.0L443.1 465.6M437.7 468.3L440.9 465.1M437.7 465.6L438.2 465.1M437.7 484.5L440.4 487.2M437.7 481.8L443.1 487.2M437.7 479.1L443.1 484.5M437.7 476.4L443.1 481.8M437.7 473.7L443.1 479.1M437.7 471.0L443.1 476.4M437.7 468.3L443.1 473.7M437.7 465.6L443.1 471.0M439.9 465.1L443.1 468.3M442.6 465.1L443.1 465.6" stroke="#3e3e3e" stroke-width="0.85" fill="none"/><rect x="437.68" y="465.10" width="5.42" height="22.10" fill="none" stroke="#666" stroke-width="0.6"/>
<g transform="translate(443.10 487.20)"><rect x="0" y="-15.47" width="5.42" height="15.47" fill="url(#p5)" stroke="#666" stroke-width="0.6"/></g>
<path d="M418.71 456.00V479.17M417.01 456.00H420.41M417.01 479.17H420.41" stroke="#666" stroke-width="0.6" fill="none"/>
<text x="418.71" y="451.70" font-size="7.1" text-anchor="middle">c</text>
<path d="M424.13 452.85V472.93M422.43 452.85H425.83M422.43 472.93H425.83" stroke="#666" stroke-width="0.6" fill="none"/>
<text x="424.13" y="448.55" font-size="7.1" text-anchor="middle">c</text>
<path d="M429.55 419.24V434.69M427.85 419.24H431.25M427.85 434.69H431.25" stroke="#666" stroke-width="0.6" fill="none"/>
<text x="429.55" y="414.94" font-size="7.1" text-anchor="middle">b</text>
<path d="M434.97 381.89V395.80M433.27 381.89H436.67M433.27 395.80H436.67" stroke="#666" stroke-width="0.6" fill="none"/>
<text x="434.97" y="377.59" font-size="7.1" text-anchor="middle">a</text>
<path d="M440.39 462.40V467.80M438.69 462.40H442.09M438.69 467.80H442.09" stroke="#666" stroke-width="0.6" fill="none"/>
<text x="440.39" y="458.10" font-size="7.1" text-anchor="middle">c</text>
<path d="M445.81 469.02V474.43M444.11 469.02H447.51M444.11 474.43H447.51" stroke="#666" stroke-width="0.6" fill="none"/>
<text x="445.81" y="464.72" font-size="7.1" text-anchor="middle">c</text>
<g transform="translate(459.40 487.20)"><rect x="0" y="-17.68" width="5.42" height="17.68" fill="url(#p0)" stroke="#666" stroke-width="0.6"/></g>
<g transform="translate(464.82 487.20)"><rect x="0" y="-11.32" width="5.42" height="11.32" fill="url(#p1)" stroke="#666" stroke-width="0.6"/></g>
<rect x="470.24" y="473.67" width="5.42" height="13.53" fill="#fff"/><path d="M473.0 487.2L475.7 484.6M470.2 487.2L475.7 481.8M470.2 484.4L475.7 479.0M470.2 481.6L475.7 476.2M470.2 478.8L475.4 473.7M470.2 476.0L472.6 473.7M470.2 484.4L473.0 487.2M470.2 481.6L475.7 487.0M470.2 478.8L475.7 484.2M470.2 476.0L475.7 481.4M470.7 473.7L475.7 478.6M473.5 473.7L475.7 475.8" stroke="#7c7c7c" stroke-width="0.50" fill="none"/><rect x="470.24" y="473.67" width="5.42" height="13.53" fill="none" stroke="#666" stroke-width="0.6"/>
<g transform="translate(475.66 487.20)"><rect x="0" y="-15.47" width="5.42" height="15.47" fill="url(#p3)" stroke="#666" stroke-width="0.6"/></g>
<rect x="481.08" y="473.94" width="5.42" height="13.26" fill="#ececec"/><path d="M486.5 487.2L486.5 487.2M483.8 487.2L486.5 484.5M481.1 487.2L486.5 481.8M481.1 484.5L486.5 479.1M481.1 481.8L486.5 476.4M481.1 479.1L486.2 473.9M481.1 476.4L483.5 473.9M481.1 484.5L483.8 487.2M481.1 481.8L486.5 487.2M481.1 479.1L486.5 484.5M481.1 476.4L486.5 481.8M481.3 473.9L486.5 479.1M484.0 473.9L486.5 476.4" stroke="#3e3e3e" stroke-width="0.85" fill="none"/><rect x="481.08" y="473.94" width="5.42" height="13.26" fill="none" stroke="#666" stroke-width="0.6"/>
<g transform="translate(486.50 487.20)"><rect x="0" y="-12.16" width="5.42" height="12.16" fill="url(#p5)" stroke="#666" stroke-width="0.6"/></g>
<path d="M462.11 469.29V469.75M460.41 469.29H463.81M460.41 469.75H463.81" stroke="#666" stroke-width="0.6" fill="none"/>
<text x="462.11" y="463.49" font-size="7.1" text-anchor="middle">a</text>
<path d="M467.53 475.10V476.65M465.83 475.10H469.23M465.83 476.65H469.23" stroke="#666" stroke-width="0.6" fill="none"/>
<text x="467.53" y="469.30" font-size="7.1" text-anchor="middle">c</text>
<path d="M472.95 472.51V474.82M471.25 472.51H474.65M471.25 474.82H474.65" stroke="#666" stroke-width="0.6" fill="none"/>
<text x="472.95" y="466.71" font-size="7.1" text-anchor="middle">bc</text>
<path d="M478.37 470.95V472.50M476.67 470.95H480.07M476.67 472.50H480.07" stroke="#666" stroke-width="0.6" fill="none"/>
<text x="478.37" y="465.15" font-size="7.1" text-anchor="middle">b</text>
<path d="M483.79 472.00V475.87M482.09 472.00H485.49M482.09 475.87H485.49" stroke="#666" stroke-width="0.6" fill="none"/>
<text x="483.79" y="466.20" font-size="7.1" text-anchor="middle">bc</text>
<path d="M489.21 473.11V476.97M487.51 473.11H490.91M487.51 476.97H490.91" stroke="#666" stroke-width="0.6" fill="none"/>
<text x="489.21" y="467.31" font-size="7.1" text-anchor="middle">bc</text>
<g transform="translate(502.60 487.20)"><rect x="0" y="-9.12" width="5.42" height="9.12" fill="url(#p0)" stroke="#666" stroke-width="0.6"/></g>
<g transform="translate(508.02 487.20)"><rect x="0" y="-8.57" width="5.42" height="8.57" fill="url(#p1)" stroke="#666" stroke-width="0.6"/></g>
<rect x="513.44" y="479.47" width="5.42" height="7.73" fill="#fff"/><path d="M516.2 487.2L518.9 484.6M513.4 487.2L518.9 481.8M513.4 484.4L518.4 479.5M513.4 481.6L515.6 479.5M513.4 484.4L516.2 487.2M513.4 481.6L518.9 487.0M514.1 479.5L518.9 484.2M516.9 479.5L518.9 481.4" stroke="#7c7c7c" stroke-width="0.50" fill="none"/><rect x="513.44" y="479.47" width="5.42" height="7.73" fill="none" stroke="#666" stroke-width="0.6"/>
<g transform="translate(518.86 487.20)"><rect x="0" y="-13.53" width="5.42" height="13.53" fill="url(#p3)" stroke="#666" stroke-width="0.6"/></g>
<rect x="524.28" y="478.63" width="5.42" height="8.57" fill="#ececec"/><path d="M529.7 487.2L529.7 487.2M527.0 487.2L529.7 484.5M524.3 487.2L529.7 481.8M524.3 484.5L529.7 479.1M524.3 481.8L527.4 478.6M524.3 479.1L524.7 478.6M524.3 484.5L527.0 487.2M524.3 481.8L529.7 487.2M524.3 479.1L529.7 484.5M526.5 478.6L529.7 481.8M529.2 478.6L529.7 479.1" stroke="#3e3e3e" stroke-width="0.85" fill="none"/><rect x="524.28" y="478.63" width="5.42" height="8.57" fill="none" stroke="#666" stroke-width="0.6"/>
<g transform="translate(529.70 487.20)"><rect x="0" y="-11.88" width="5.42" height="11.88" fill="url(#p5)" stroke="#666" stroke-width="0.6"/></g>
<path d="M505.31 477.85V478.32M503.61 477.85H507.01M503.61 478.32H507.01" stroke="#666" stroke-width="0.6" fill="none"/>
<text x="505.31" y="472.05" font-size="7.1" text-anchor="middle">c</text>
<path d="M510.73 478.40V478.86M509.03 478.40H512.43M509.03 478.86H512.43" stroke="#666" stroke-width="0.6" fill="none"/>
<text x="510.73" y="472.60" font-size="7.1" text-anchor="middle">c</text>
<path d="M516.15 478.69V480.24M514.45 478.69H517.85M514.45 480.24H517.85" stroke="#666" stroke-width="0.6" fill="none"/>
<text x="516.15" y="472.89" font-size="7.1" text-anchor="middle">c</text>
<path d="M521.57 473.20V474.13M519.87 473.20H523.27M519.87 474.13H523.27" stroke="#666" stroke-width="0.6" fill="none"/>
<text x="521.57" y="467.40" font-size="7.1" text-anchor="middle">a</text>
<path d="M526.99 477.86V479.41M525.29 477.86H528.69M525.29 479.41H528.69" stroke="#666" stroke-width="0.6" fill="none"/>
<text x="526.99" y="472.06" font-size="7.1" text-anchor="middle">c</text>
<path d="M532.41 474.86V475.78M530.71 474.86H534.11M530.71 475.78H534.11" stroke="#666" stroke-width="0.6" fill="none"/>
<text x="532.41" y="469.06" font-size="7.1" text-anchor="middle">b</text>
<path d="M323.70 363.60V487.20H542.00" stroke="#858585" stroke-width="0.9" fill="none"/>
<text x="316.20" y="489.60" font-size="7.1" text-anchor="end">0</text>
<text x="316.20" y="474.15" font-size="7.1" text-anchor="end">2,000</text>
<text x="316.20" y="458.70" font-size="7.1" text-anchor="end">4,000</text>
<text x="316.20" y="443.25" font-size="7.1" text-anchor="end">6,000</text>
<text x="316.20" y="427.80" font-size="7.1" text-anchor="end">8,000</text>
<text x="316.20" y="412.35" font-size="7.1" text-anchor="end">10,000</text>
<text x="316.20" y="396.90" font-size="7.1" text-anchor="end">12,000</text>
<text x="316.20" y="381.45" font-size="7.1" text-anchor="end">14,000</text>
<text x="316.20" y="366.00" font-size="7.1" text-anchor="end">16,000</text>
<path d="M323.70 487.20h2M323.70 471.75h2M323.70 456.30h2M323.70 440.85h2M323.70 425.40h2M323.70 409.95h2M323.70 394.50h2M323.70 379.05h2M323.70 363.60h2M367.13 487.20v-2M410.49 487.20v-2M453.83 487.20v-2M497.19 487.20v-2M540.54 487.20v-2" stroke="#858585" stroke-width="0.8" fill="none"/>
<text x="334.30" y="499.35" font-size="7.1">Jul 8th</text>
<text x="375.90" y="499.35" font-size="7.1">Jul 28th</text>
<text x="419.70" y="499.35" font-size="7.1">Aug 16th</text>
<text x="463.90" y="499.35" font-size="7.1">Sept 4th</text>
<text x="506.60" y="499.35" font-size="7.1">Sep 26th</text>
<text x="422.30" y="353.20" font-size="7.0" text-anchor="middle">Jingke968</text>
<text transform="translate(283.60 422.30) rotate(-90)" font-size="7.1" text-anchor="middle">Soil β-Glucosidase activity</text>
<text transform="translate(291.80 421.60) rotate(-90)" font-size="7.1" text-anchor="middle">(μmol·h<tspan dy="-2.4" font-size="4.4">−1</tspan><tspan dy="2.4">·g</tspan><tspan dy="-2.4" font-size="4.4">−1</tspan><tspan dy="2.4">)</tspan></text>
<g transform="translate(474.70 366.35)"><rect x="0" y="0" width="3.10" height="3.10" fill="#fff" stroke="#383838" stroke-width="0.8"/></g>
<text x="484.80" y="369.90" font-size="5.6" fill="#3a3a3a">CK1</text>
<g transform="translate(512.00 366.35)"><rect x="0" y="0" width="3.10" height="3.10" fill="#fff" stroke="#383838" stroke-width="0.8"/></g>
<text x="521.60" y="369.90" font-size="5.6" fill="#3a3a3a">CK2</text>
<g transform="translate(474.70 377.95)"><rect x="0" y="0" width="3.10" height="3.10" fill="#eee" stroke="#383838" stroke-width="0.8"/></g>
<text x="478.80" y="381.60" font-size="7.2">3t</text>
<g transform="translate(512.00 377.95)"><rect x="0" y="0" width="3.10" height="3.10" fill="#c4c4c4" stroke="#383838" stroke-width="0.8"/></g>
<text x="515.80" y="381.60" font-size="7.2">3.75t</text>
<g transform="translate(474.70 388.75)"><rect x="0" y="0" width="3.10" height="3.10" fill="url(#p4)" stroke="#383838" stroke-width="0.8"/></g>
<text x="478.80" y="392.40" font-size="7.2">4.5t</text>
<g transform="translate(512.00 388.75)"><rect x="0" y="0" width="3.10" height="3.10" fill="#707070" stroke="#383838" stroke-width="0.8"/></g>
<text x="515.80" y="392.40" font-size="7.2">5.25t</text>
</g>
</svg></body></html>
